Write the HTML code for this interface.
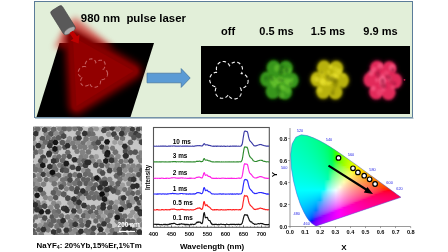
<!DOCTYPE html>
<html><head><meta charset="utf-8"><title>Graphical abstract</title>
<style>html,body{margin:0;padding:0;background:#fff}svg{display:block}text{font-family:"Liberation Sans",Arial,sans-serif}</style>
</head><body>
<svg width="448" height="252" viewBox="0 0 448 252">
<defs><filter id="b5" x="-50%" y="-50%" width="200%" height="200%"><feGaussianBlur stdDeviation="5"/></filter><filter id="b7" x="-50%" y="-50%" width="200%" height="200%"><feGaussianBlur stdDeviation="7"/></filter><filter id="b4" x="-50%" y="-50%" width="200%" height="200%"><feGaussianBlur stdDeviation="4"/></filter><filter id="b3" x="-50%" y="-50%" width="200%" height="200%"><feGaussianBlur stdDeviation="3"/></filter><filter id="b2" x="-50%" y="-50%" width="200%" height="200%"><feGaussianBlur stdDeviation="2"/></filter><filter id="b1" x="-100%" y="-100%" width="300%" height="300%"><feGaussianBlur stdDeviation="1"/></filter><filter id="b05" x="-5%" y="-5%" width="110%" height="110%"><feGaussianBlur stdDeviation="0.5"/></filter><filter id="b03" x="-5%" y="-5%" width="110%" height="110%"><feGaussianBlur stdDeviation="0.35"/></filter><clipPath id="pc"><rect x="35" y="2" width="377.5" height="116.3"/></clipPath><clipPath id="tc"><rect x="33" y="126.5" width="109" height="108.5"/></clipPath><clipPath id="cc"><path d="M316.29,225.95 L316.24,225.96 L316.17,225.97 L316.06,225.97 L315.88,225.94 L315.50,225.74 L314.82,225.30 L313.65,224.55 L312.80,224.00 L311.74,223.23 L310.46,222.11 L308.74,220.14 L306.55,216.95 L303.79,211.90 L300.37,204.42 L296.86,194.05 L293.55,181.10 L291.24,167.28 L290.59,154.47 L292.10,143.98 L295.87,137.18 L301.22,134.78 L307.24,135.62 L313.36,137.85 L319.13,140.52 L324.67,143.53 L330.14,146.83 L335.54,150.35 L340.93,154.02 L346.34,157.81 L351.71,161.64 L357.06,165.48 L362.30,169.28 L367.39,172.97 L372.26,176.52 L376.86,179.84 L381.04,182.88 L384.68,185.53 L387.88,187.85 L390.54,189.76 L392.70,191.33 L394.42,192.59 L395.79,193.58 L396.89,194.38 L397.81,195.05 L398.57,195.60 L399.63,196.36 L400.23,196.80 L400.74,197.17 L400.94,197.32Z"/></clipPath><linearGradient id="g0" gradientUnits="userSpaceOnUse" x1="296" x2="304" y1="0" y2="0"><stop offset="0.0000" stop-color="#00ffae"/><stop offset="0.5000" stop-color="#00ffa8"/><stop offset="1.0000" stop-color="#00ffa3"/></linearGradient><linearGradient id="g1" gradientUnits="userSpaceOnUse" x1="296" x2="312" y1="0" y2="0"><stop offset="0.0000" stop-color="#00ffae"/><stop offset="0.2500" stop-color="#00ffa9"/><stop offset="0.5000" stop-color="#00ffa4"/><stop offset="0.7500" stop-color="#00ff9d"/><stop offset="1.0000" stop-color="#00ff95"/></linearGradient><linearGradient id="g2" gradientUnits="userSpaceOnUse" x1="292" x2="316" y1="0" y2="0"><stop offset="0.0000" stop-color="#00ffb4"/><stop offset="0.1667" stop-color="#00ffaf"/><stop offset="0.3333" stop-color="#00ffaa"/><stop offset="0.5000" stop-color="#00ffa5"/><stop offset="0.6667" stop-color="#00ff9e"/><stop offset="0.8333" stop-color="#00ff96"/><stop offset="1.0000" stop-color="#00ff8c"/></linearGradient><linearGradient id="g3" gradientUnits="userSpaceOnUse" x1="292" x2="316" y1="0" y2="0"><stop offset="0.0000" stop-color="#00ffb5"/><stop offset="0.1667" stop-color="#00ffb0"/><stop offset="0.3333" stop-color="#00ffab"/><stop offset="0.5000" stop-color="#00ffa5"/><stop offset="0.6667" stop-color="#00ff9f"/><stop offset="0.8333" stop-color="#00ff97"/><stop offset="1.0000" stop-color="#00ff8d"/></linearGradient><linearGradient id="g4" gradientUnits="userSpaceOnUse" x1="292" x2="320" y1="0" y2="0"><stop offset="0.0000" stop-color="#00ffb6"/><stop offset="0.1429" stop-color="#00ffb1"/><stop offset="0.2857" stop-color="#00ffac"/><stop offset="0.4286" stop-color="#00ffa6"/><stop offset="0.5714" stop-color="#00ffa0"/><stop offset="0.7143" stop-color="#00ff98"/><stop offset="0.8571" stop-color="#00ff8e"/><stop offset="1.0000" stop-color="#00ff83"/></linearGradient><linearGradient id="g5" gradientUnits="userSpaceOnUse" x1="292" x2="320" y1="0" y2="0"><stop offset="0.0000" stop-color="#00ffb6"/><stop offset="0.1429" stop-color="#00ffb2"/><stop offset="0.2857" stop-color="#00ffad"/><stop offset="0.4286" stop-color="#00ffa7"/><stop offset="0.5714" stop-color="#00ffa1"/><stop offset="0.7143" stop-color="#00ff99"/><stop offset="0.8571" stop-color="#00ff90"/><stop offset="1.0000" stop-color="#00ff84"/></linearGradient><linearGradient id="g6" gradientUnits="userSpaceOnUse" x1="292" x2="324" y1="0" y2="0"><stop offset="0.0000" stop-color="#00ffb7"/><stop offset="0.1250" stop-color="#00ffb3"/><stop offset="0.2500" stop-color="#00ffae"/><stop offset="0.3750" stop-color="#00ffa8"/><stop offset="0.5000" stop-color="#00ffa2"/><stop offset="0.6250" stop-color="#00ff9a"/><stop offset="0.7500" stop-color="#00ff91"/><stop offset="0.8750" stop-color="#00ff85"/><stop offset="1.0000" stop-color="#00ff76"/></linearGradient><linearGradient id="g7" gradientUnits="userSpaceOnUse" x1="292" x2="324" y1="0" y2="0"><stop offset="0.0000" stop-color="#00ffb8"/><stop offset="0.1250" stop-color="#00ffb4"/><stop offset="0.2500" stop-color="#00ffaf"/><stop offset="0.3750" stop-color="#00ffa9"/><stop offset="0.5000" stop-color="#00ffa3"/><stop offset="0.6250" stop-color="#00ff9b"/><stop offset="0.7500" stop-color="#00ff92"/><stop offset="0.8750" stop-color="#00ff86"/><stop offset="1.0000" stop-color="#00ff77"/></linearGradient><linearGradient id="g8" gradientUnits="userSpaceOnUse" x1="288" x2="328" y1="0" y2="0"><stop offset="0.0000" stop-color="#00ffbd"/><stop offset="0.1000" stop-color="#00ffb9"/><stop offset="0.2000" stop-color="#00ffb5"/><stop offset="0.3000" stop-color="#00ffb0"/><stop offset="0.4000" stop-color="#00ffab"/><stop offset="0.5000" stop-color="#00ffa4"/><stop offset="0.6000" stop-color="#00ff9c"/><stop offset="0.7000" stop-color="#00ff93"/><stop offset="0.8000" stop-color="#00ff87"/><stop offset="0.9000" stop-color="#00ff78"/><stop offset="1.0000" stop-color="#00ff63"/></linearGradient><linearGradient id="g9" gradientUnits="userSpaceOnUse" x1="288" x2="328" y1="0" y2="0"><stop offset="0.0000" stop-color="#00ffbe"/><stop offset="0.1000" stop-color="#00ffba"/><stop offset="0.2000" stop-color="#00ffb6"/><stop offset="0.3000" stop-color="#00ffb1"/><stop offset="0.4000" stop-color="#00ffac"/><stop offset="0.5000" stop-color="#00ffa5"/><stop offset="0.6000" stop-color="#00ff9d"/><stop offset="0.7000" stop-color="#00ff94"/><stop offset="0.8000" stop-color="#00ff88"/><stop offset="0.9000" stop-color="#00ff79"/><stop offset="1.0000" stop-color="#00ff64"/></linearGradient><linearGradient id="g10" gradientUnits="userSpaceOnUse" x1="288" x2="332" y1="0" y2="0"><stop offset="0.0000" stop-color="#00ffbf"/><stop offset="0.0909" stop-color="#00ffbb"/><stop offset="0.1818" stop-color="#00ffb7"/><stop offset="0.2727" stop-color="#00ffb2"/><stop offset="0.3636" stop-color="#00ffad"/><stop offset="0.4545" stop-color="#00ffa6"/><stop offset="0.5455" stop-color="#00ff9f"/><stop offset="0.6364" stop-color="#00ff95"/><stop offset="0.7273" stop-color="#00ff8a"/><stop offset="0.8182" stop-color="#00ff7b"/><stop offset="0.9091" stop-color="#00ff66"/><stop offset="1.0000" stop-color="#00ff43"/></linearGradient><linearGradient id="g11" gradientUnits="userSpaceOnUse" x1="288" x2="332" y1="0" y2="0"><stop offset="0.0000" stop-color="#00ffc0"/><stop offset="0.0909" stop-color="#00ffbc"/><stop offset="0.1818" stop-color="#00ffb8"/><stop offset="0.2727" stop-color="#00ffb3"/><stop offset="0.3636" stop-color="#00ffae"/><stop offset="0.4545" stop-color="#00ffa7"/><stop offset="0.5455" stop-color="#00ffa0"/><stop offset="0.6364" stop-color="#00ff96"/><stop offset="0.7273" stop-color="#00ff8b"/><stop offset="0.8182" stop-color="#00ff7c"/><stop offset="0.9091" stop-color="#00ff67"/><stop offset="1.0000" stop-color="#00ff44"/></linearGradient><linearGradient id="g12" gradientUnits="userSpaceOnUse" x1="288" x2="332" y1="0" y2="0"><stop offset="0.0000" stop-color="#00ffc1"/><stop offset="0.0909" stop-color="#00ffbd"/><stop offset="0.1818" stop-color="#00ffb9"/><stop offset="0.2727" stop-color="#00ffb4"/><stop offset="0.3636" stop-color="#00ffaf"/><stop offset="0.4545" stop-color="#00ffa8"/><stop offset="0.5455" stop-color="#00ffa1"/><stop offset="0.6364" stop-color="#00ff98"/><stop offset="0.7273" stop-color="#00ff8c"/><stop offset="0.8182" stop-color="#00ff7d"/><stop offset="0.9091" stop-color="#00ff68"/><stop offset="1.0000" stop-color="#00ff46"/></linearGradient><linearGradient id="g13" gradientUnits="userSpaceOnUse" x1="288" x2="336" y1="0" y2="0"><stop offset="0.0000" stop-color="#00ffc2"/><stop offset="0.0833" stop-color="#00ffbe"/><stop offset="0.1667" stop-color="#00ffba"/><stop offset="0.2500" stop-color="#00ffb5"/><stop offset="0.3333" stop-color="#00ffb0"/><stop offset="0.4167" stop-color="#00ffaa"/><stop offset="0.5000" stop-color="#00ffa2"/><stop offset="0.5833" stop-color="#00ff99"/><stop offset="0.6667" stop-color="#00ff8d"/><stop offset="0.7500" stop-color="#00ff7f"/><stop offset="0.8333" stop-color="#00ff6a"/><stop offset="0.9167" stop-color="#00ff47"/><stop offset="1.0000" stop-color="#3bff00"/></linearGradient><linearGradient id="g14" gradientUnits="userSpaceOnUse" x1="288" x2="336" y1="0" y2="0"><stop offset="0.0000" stop-color="#00ffc3"/><stop offset="0.0833" stop-color="#00ffbf"/><stop offset="0.1667" stop-color="#00ffbb"/><stop offset="0.2500" stop-color="#00ffb6"/><stop offset="0.3333" stop-color="#00ffb1"/><stop offset="0.4167" stop-color="#00ffab"/><stop offset="0.5000" stop-color="#00ffa3"/><stop offset="0.5833" stop-color="#00ff9a"/><stop offset="0.6667" stop-color="#00ff8f"/><stop offset="0.7500" stop-color="#00ff80"/><stop offset="0.8333" stop-color="#00ff6b"/><stop offset="0.9167" stop-color="#00ff49"/><stop offset="1.0000" stop-color="#3bff00"/></linearGradient><linearGradient id="g15" gradientUnits="userSpaceOnUse" x1="288" x2="336" y1="0" y2="0"><stop offset="0.0000" stop-color="#00ffc4"/><stop offset="0.0833" stop-color="#00ffc0"/><stop offset="0.1667" stop-color="#00ffbc"/><stop offset="0.2500" stop-color="#00ffb8"/><stop offset="0.3333" stop-color="#00ffb2"/><stop offset="0.4167" stop-color="#00ffac"/><stop offset="0.5000" stop-color="#00ffa5"/><stop offset="0.5833" stop-color="#00ff9b"/><stop offset="0.6667" stop-color="#00ff90"/><stop offset="0.7500" stop-color="#00ff81"/><stop offset="0.8333" stop-color="#00ff6d"/><stop offset="0.9167" stop-color="#00ff4a"/><stop offset="1.0000" stop-color="#3aff00"/></linearGradient><linearGradient id="g16" gradientUnits="userSpaceOnUse" x1="288" x2="340" y1="0" y2="0"><stop offset="0.0000" stop-color="#00ffc5"/><stop offset="0.0769" stop-color="#00ffc1"/><stop offset="0.1538" stop-color="#00ffbd"/><stop offset="0.2308" stop-color="#00ffb9"/><stop offset="0.3077" stop-color="#00ffb3"/><stop offset="0.3846" stop-color="#00ffad"/><stop offset="0.4615" stop-color="#00ffa6"/><stop offset="0.5385" stop-color="#00ff9d"/><stop offset="0.6154" stop-color="#00ff91"/><stop offset="0.6923" stop-color="#00ff83"/><stop offset="0.7692" stop-color="#00ff6e"/><stop offset="0.8462" stop-color="#00ff4c"/><stop offset="0.9231" stop-color="#39ff00"/><stop offset="1.0000" stop-color="#6cff00"/></linearGradient><linearGradient id="g17" gradientUnits="userSpaceOnUse" x1="288" x2="340" y1="0" y2="0"><stop offset="0.0000" stop-color="#00ffc6"/><stop offset="0.0769" stop-color="#00ffc2"/><stop offset="0.1538" stop-color="#00ffbe"/><stop offset="0.2308" stop-color="#00ffba"/><stop offset="0.3077" stop-color="#00ffb5"/><stop offset="0.3846" stop-color="#00ffae"/><stop offset="0.4615" stop-color="#00ffa7"/><stop offset="0.5385" stop-color="#00ff9e"/><stop offset="0.6154" stop-color="#00ff93"/><stop offset="0.6923" stop-color="#00ff84"/><stop offset="0.7692" stop-color="#00ff6f"/><stop offset="0.8462" stop-color="#00ff4d"/><stop offset="0.9231" stop-color="#39ff00"/><stop offset="1.0000" stop-color="#6cff00"/></linearGradient><linearGradient id="g18" gradientUnits="userSpaceOnUse" x1="288" x2="344" y1="0" y2="0"><stop offset="0.0000" stop-color="#00ffc7"/><stop offset="0.0714" stop-color="#00ffc4"/><stop offset="0.1429" stop-color="#00ffc0"/><stop offset="0.2143" stop-color="#00ffbb"/><stop offset="0.2857" stop-color="#00ffb6"/><stop offset="0.3571" stop-color="#00ffb0"/><stop offset="0.4286" stop-color="#00ffa8"/><stop offset="0.5000" stop-color="#00ffa0"/><stop offset="0.5714" stop-color="#00ff94"/><stop offset="0.6429" stop-color="#00ff86"/><stop offset="0.7143" stop-color="#00ff71"/><stop offset="0.7857" stop-color="#00ff4f"/><stop offset="0.8571" stop-color="#38ff00"/><stop offset="0.9286" stop-color="#6dff00"/><stop offset="1.0000" stop-color="#8dff00"/></linearGradient><linearGradient id="g19" gradientUnits="userSpaceOnUse" x1="288" x2="344" y1="0" y2="0"><stop offset="0.0000" stop-color="#00ffc8"/><stop offset="0.0714" stop-color="#00ffc5"/><stop offset="0.1429" stop-color="#00ffc1"/><stop offset="0.2143" stop-color="#00ffbc"/><stop offset="0.2857" stop-color="#00ffb7"/><stop offset="0.3571" stop-color="#00ffb1"/><stop offset="0.4286" stop-color="#00ffaa"/><stop offset="0.5000" stop-color="#00ffa1"/><stop offset="0.5714" stop-color="#00ff96"/><stop offset="0.6429" stop-color="#00ff87"/><stop offset="0.7143" stop-color="#00ff73"/><stop offset="0.7857" stop-color="#00ff51"/><stop offset="0.8571" stop-color="#37ff00"/><stop offset="0.9286" stop-color="#6eff00"/><stop offset="1.0000" stop-color="#8eff00"/></linearGradient><linearGradient id="g20" gradientUnits="userSpaceOnUse" x1="288" x2="344" y1="0" y2="0"><stop offset="0.0000" stop-color="#00ffc9"/><stop offset="0.0714" stop-color="#00ffc6"/><stop offset="0.1429" stop-color="#00ffc2"/><stop offset="0.2143" stop-color="#00ffbe"/><stop offset="0.2857" stop-color="#00ffb8"/><stop offset="0.3571" stop-color="#00ffb2"/><stop offset="0.4286" stop-color="#00ffab"/><stop offset="0.5000" stop-color="#00ffa2"/><stop offset="0.5714" stop-color="#00ff97"/><stop offset="0.6429" stop-color="#00ff89"/><stop offset="0.7143" stop-color="#00ff74"/><stop offset="0.7857" stop-color="#00ff52"/><stop offset="0.8571" stop-color="#37ff00"/><stop offset="0.9286" stop-color="#6eff00"/><stop offset="1.0000" stop-color="#90ff00"/></linearGradient><linearGradient id="g21" gradientUnits="userSpaceOnUse" x1="288" x2="348" y1="0" y2="0"><stop offset="0.0000" stop-color="#00ffca"/><stop offset="0.0667" stop-color="#00ffc7"/><stop offset="0.1333" stop-color="#00ffc3"/><stop offset="0.2000" stop-color="#00ffbf"/><stop offset="0.2667" stop-color="#00ffba"/><stop offset="0.3333" stop-color="#00ffb4"/><stop offset="0.4000" stop-color="#00ffad"/><stop offset="0.4667" stop-color="#00ffa4"/><stop offset="0.5333" stop-color="#00ff99"/><stop offset="0.6000" stop-color="#00ff8a"/><stop offset="0.6667" stop-color="#00ff76"/><stop offset="0.7333" stop-color="#00ff54"/><stop offset="0.8000" stop-color="#36ff00"/><stop offset="0.8667" stop-color="#6fff00"/><stop offset="0.9333" stop-color="#91ff00"/><stop offset="1.0000" stop-color="#abff00"/></linearGradient><linearGradient id="g22" gradientUnits="userSpaceOnUse" x1="288" x2="348" y1="0" y2="0"><stop offset="0.0000" stop-color="#00ffcb"/><stop offset="0.0667" stop-color="#00ffc8"/><stop offset="0.1333" stop-color="#00ffc4"/><stop offset="0.2000" stop-color="#00ffc0"/><stop offset="0.2667" stop-color="#00ffbb"/><stop offset="0.3333" stop-color="#00ffb5"/><stop offset="0.4000" stop-color="#00ffae"/><stop offset="0.4667" stop-color="#00ffa5"/><stop offset="0.5333" stop-color="#00ff9a"/><stop offset="0.6000" stop-color="#00ff8c"/><stop offset="0.6667" stop-color="#00ff77"/><stop offset="0.7333" stop-color="#00ff56"/><stop offset="0.8000" stop-color="#35ff00"/><stop offset="0.8667" stop-color="#70ff00"/><stop offset="0.9333" stop-color="#93ff00"/><stop offset="1.0000" stop-color="#adff00"/></linearGradient><linearGradient id="g23" gradientUnits="userSpaceOnUse" x1="288" x2="348" y1="0" y2="0"><stop offset="0.0000" stop-color="#00ffcc"/><stop offset="0.0667" stop-color="#00ffc9"/><stop offset="0.1333" stop-color="#00ffc6"/><stop offset="0.2000" stop-color="#00ffc1"/><stop offset="0.2667" stop-color="#00ffbc"/><stop offset="0.3333" stop-color="#00ffb7"/><stop offset="0.4000" stop-color="#00ffb0"/><stop offset="0.4667" stop-color="#00ffa7"/><stop offset="0.5333" stop-color="#00ff9c"/><stop offset="0.6000" stop-color="#00ff8e"/><stop offset="0.6667" stop-color="#00ff79"/><stop offset="0.7333" stop-color="#00ff58"/><stop offset="0.8000" stop-color="#34ff00"/><stop offset="0.8667" stop-color="#71ff00"/><stop offset="0.9333" stop-color="#94ff00"/><stop offset="1.0000" stop-color="#afff00"/></linearGradient><linearGradient id="g24" gradientUnits="userSpaceOnUse" x1="288" x2="352" y1="0" y2="0"><stop offset="0.0000" stop-color="#00ffce"/><stop offset="0.0625" stop-color="#00ffca"/><stop offset="0.1250" stop-color="#00ffc7"/><stop offset="0.1875" stop-color="#00ffc3"/><stop offset="0.2500" stop-color="#00ffbe"/><stop offset="0.3125" stop-color="#00ffb8"/><stop offset="0.3750" stop-color="#00ffb1"/><stop offset="0.4375" stop-color="#00ffa8"/><stop offset="0.5000" stop-color="#00ff9e"/><stop offset="0.5625" stop-color="#00ff8f"/><stop offset="0.6250" stop-color="#00ff7b"/><stop offset="0.6875" stop-color="#00ff5a"/><stop offset="0.7500" stop-color="#33ff00"/><stop offset="0.8125" stop-color="#72ff00"/><stop offset="0.8750" stop-color="#96ff00"/><stop offset="0.9375" stop-color="#b1ff00"/><stop offset="1.0000" stop-color="#c9ff00"/></linearGradient><linearGradient id="g25" gradientUnits="userSpaceOnUse" x1="288" x2="352" y1="0" y2="0"><stop offset="0.0000" stop-color="#00ffcf"/><stop offset="0.0625" stop-color="#00ffcc"/><stop offset="0.1250" stop-color="#00ffc8"/><stop offset="0.1875" stop-color="#00ffc4"/><stop offset="0.2500" stop-color="#00ffbf"/><stop offset="0.3125" stop-color="#00ffb9"/><stop offset="0.3750" stop-color="#00ffb3"/><stop offset="0.4375" stop-color="#00ffaa"/><stop offset="0.5000" stop-color="#00ff9f"/><stop offset="0.5625" stop-color="#00ff91"/><stop offset="0.6250" stop-color="#00ff7d"/><stop offset="0.6875" stop-color="#00ff5b"/><stop offset="0.7500" stop-color="#32ff00"/><stop offset="0.8125" stop-color="#73ff00"/><stop offset="0.8750" stop-color="#97ff00"/><stop offset="0.9375" stop-color="#b4ff00"/><stop offset="1.0000" stop-color="#cbff00"/></linearGradient><linearGradient id="g26" gradientUnits="userSpaceOnUse" x1="288" x2="352" y1="0" y2="0"><stop offset="0.0000" stop-color="#00ffd0"/><stop offset="0.0625" stop-color="#00ffcd"/><stop offset="0.1250" stop-color="#00ffc9"/><stop offset="0.1875" stop-color="#00ffc5"/><stop offset="0.2500" stop-color="#00ffc1"/><stop offset="0.3125" stop-color="#00ffbb"/><stop offset="0.3750" stop-color="#00ffb4"/><stop offset="0.4375" stop-color="#00ffac"/><stop offset="0.5000" stop-color="#00ffa1"/><stop offset="0.5625" stop-color="#00ff93"/><stop offset="0.6250" stop-color="#00ff7f"/><stop offset="0.6875" stop-color="#00ff5d"/><stop offset="0.7500" stop-color="#31ff00"/><stop offset="0.8125" stop-color="#74ff00"/><stop offset="0.8750" stop-color="#99ff00"/><stop offset="0.9375" stop-color="#b6ff00"/><stop offset="1.0000" stop-color="#ceff00"/></linearGradient><linearGradient id="g27" gradientUnits="userSpaceOnUse" x1="288" x2="356" y1="0" y2="0"><stop offset="0.0000" stop-color="#00ffd1"/><stop offset="0.0588" stop-color="#00ffce"/><stop offset="0.1176" stop-color="#00ffcb"/><stop offset="0.1765" stop-color="#00ffc7"/><stop offset="0.2353" stop-color="#00ffc2"/><stop offset="0.2941" stop-color="#00ffbc"/><stop offset="0.3529" stop-color="#00ffb6"/><stop offset="0.4118" stop-color="#00ffad"/><stop offset="0.4706" stop-color="#00ffa3"/><stop offset="0.5294" stop-color="#00ff95"/><stop offset="0.5882" stop-color="#00ff81"/><stop offset="0.6471" stop-color="#00ff5f"/><stop offset="0.7059" stop-color="#36ff1d"/><stop offset="0.7647" stop-color="#75ff00"/><stop offset="0.8235" stop-color="#9bff00"/><stop offset="0.8824" stop-color="#b8ff00"/><stop offset="0.9412" stop-color="#d1ff00"/><stop offset="1.0000" stop-color="#e6ff00"/></linearGradient><linearGradient id="g28" gradientUnits="userSpaceOnUse" x1="288" x2="356" y1="0" y2="0"><stop offset="0.0000" stop-color="#00ffd2"/><stop offset="0.0588" stop-color="#00ffcf"/><stop offset="0.1176" stop-color="#00ffcc"/><stop offset="0.1765" stop-color="#00ffc8"/><stop offset="0.2353" stop-color="#00ffc3"/><stop offset="0.2941" stop-color="#00ffbe"/><stop offset="0.3529" stop-color="#00ffb7"/><stop offset="0.4118" stop-color="#00ffaf"/><stop offset="0.4706" stop-color="#00ffa5"/><stop offset="0.5294" stop-color="#00ff97"/><stop offset="0.5882" stop-color="#00ff83"/><stop offset="0.6471" stop-color="#00ff62"/><stop offset="0.7059" stop-color="#3eff2e"/><stop offset="0.7647" stop-color="#76ff00"/><stop offset="0.8235" stop-color="#9dff00"/><stop offset="0.8824" stop-color="#bbff00"/><stop offset="0.9412" stop-color="#d4ff00"/><stop offset="1.0000" stop-color="#eaff00"/></linearGradient><linearGradient id="g29" gradientUnits="userSpaceOnUse" x1="288" x2="356" y1="0" y2="0"><stop offset="0.0000" stop-color="#00ffd4"/><stop offset="0.0588" stop-color="#00ffd1"/><stop offset="0.1176" stop-color="#00ffcd"/><stop offset="0.1765" stop-color="#00ffc9"/><stop offset="0.2353" stop-color="#00ffc5"/><stop offset="0.2941" stop-color="#00ffc0"/><stop offset="0.3529" stop-color="#00ffb9"/><stop offset="0.4118" stop-color="#00ffb1"/><stop offset="0.4706" stop-color="#00ffa7"/><stop offset="0.5294" stop-color="#00ff99"/><stop offset="0.5882" stop-color="#00ff85"/><stop offset="0.6471" stop-color="#00ff64"/><stop offset="0.7059" stop-color="#46ff3a"/><stop offset="0.7647" stop-color="#78ff15"/><stop offset="0.8235" stop-color="#9fff00"/><stop offset="0.8824" stop-color="#beff00"/><stop offset="0.9412" stop-color="#d7ff00"/><stop offset="1.0000" stop-color="#edff00"/></linearGradient><linearGradient id="g30" gradientUnits="userSpaceOnUse" x1="288" x2="360" y1="0" y2="0"><stop offset="0.0000" stop-color="#00ffd5"/><stop offset="0.0556" stop-color="#00ffd2"/><stop offset="0.1111" stop-color="#00ffcf"/><stop offset="0.1667" stop-color="#00ffcb"/><stop offset="0.2222" stop-color="#00ffc6"/><stop offset="0.2778" stop-color="#00ffc1"/><stop offset="0.3333" stop-color="#00ffbb"/><stop offset="0.3889" stop-color="#00ffb3"/><stop offset="0.4444" stop-color="#00ffa8"/><stop offset="0.5000" stop-color="#00ff9b"/><stop offset="0.5556" stop-color="#00ff87"/><stop offset="0.6111" stop-color="#00ff66"/><stop offset="0.6667" stop-color="#4dff43"/><stop offset="0.7222" stop-color="#7dff2b"/><stop offset="0.7778" stop-color="#a1ff00"/><stop offset="0.8333" stop-color="#c0ff00"/><stop offset="0.8889" stop-color="#daff00"/><stop offset="0.9444" stop-color="#f1ff00"/><stop offset="1.0000" stop-color="#fff800"/></linearGradient><linearGradient id="g31" gradientUnits="userSpaceOnUse" x1="288" x2="360" y1="0" y2="0"><stop offset="0.0000" stop-color="#00ffd6"/><stop offset="0.0556" stop-color="#00ffd3"/><stop offset="0.1111" stop-color="#00ffd0"/><stop offset="0.1667" stop-color="#00ffcc"/><stop offset="0.2222" stop-color="#00ffc8"/><stop offset="0.2778" stop-color="#00ffc3"/><stop offset="0.3333" stop-color="#00ffbd"/><stop offset="0.3889" stop-color="#00ffb5"/><stop offset="0.4444" stop-color="#00ffaa"/><stop offset="0.5000" stop-color="#00ff9d"/><stop offset="0.5556" stop-color="#00ff89"/><stop offset="0.6111" stop-color="#00ff68"/><stop offset="0.6667" stop-color="#54ff4c"/><stop offset="0.7222" stop-color="#82ff38"/><stop offset="0.7778" stop-color="#a4ff00"/><stop offset="0.8333" stop-color="#c3ff00"/><stop offset="0.8889" stop-color="#deff00"/><stop offset="0.9444" stop-color="#f5ff00"/><stop offset="1.0000" stop-color="#fff400"/></linearGradient><linearGradient id="g32" gradientUnits="userSpaceOnUse" x1="288" x2="364" y1="0" y2="0"><stop offset="0.0000" stop-color="#00ffd7"/><stop offset="0.0526" stop-color="#00ffd5"/><stop offset="0.1053" stop-color="#00ffd2"/><stop offset="0.1579" stop-color="#00ffce"/><stop offset="0.2105" stop-color="#00ffca"/><stop offset="0.2632" stop-color="#00ffc5"/><stop offset="0.3158" stop-color="#00ffbe"/><stop offset="0.3684" stop-color="#00ffb7"/><stop offset="0.4211" stop-color="#00ffad"/><stop offset="0.4737" stop-color="#00ff9f"/><stop offset="0.5263" stop-color="#00ff8b"/><stop offset="0.5789" stop-color="#00ff6b"/><stop offset="0.6316" stop-color="#5aff54"/><stop offset="0.6842" stop-color="#86ff43"/><stop offset="0.7368" stop-color="#a8ff27"/><stop offset="0.7895" stop-color="#c7ff00"/><stop offset="0.8421" stop-color="#e2ff00"/><stop offset="0.8947" stop-color="#faff00"/><stop offset="0.9474" stop-color="#fff000"/><stop offset="1.0000" stop-color="#ffe000"/></linearGradient><linearGradient id="g33" gradientUnits="userSpaceOnUse" x1="288" x2="364" y1="0" y2="0"><stop offset="0.0000" stop-color="#00ffd9"/><stop offset="0.0526" stop-color="#00ffd6"/><stop offset="0.1053" stop-color="#00ffd3"/><stop offset="0.1579" stop-color="#00ffcf"/><stop offset="0.2105" stop-color="#00ffcb"/><stop offset="0.2632" stop-color="#00ffc6"/><stop offset="0.3158" stop-color="#00ffc0"/><stop offset="0.3684" stop-color="#00ffb9"/><stop offset="0.4211" stop-color="#00ffaf"/><stop offset="0.4737" stop-color="#00ffa1"/><stop offset="0.5263" stop-color="#00ff8e"/><stop offset="0.5789" stop-color="#00ff6d"/><stop offset="0.6316" stop-color="#60ff5c"/><stop offset="0.6842" stop-color="#8bff4d"/><stop offset="0.7368" stop-color="#adff37"/><stop offset="0.7895" stop-color="#caff00"/><stop offset="0.8421" stop-color="#e6ff00"/><stop offset="0.8947" stop-color="#feff00"/><stop offset="0.9474" stop-color="#ffec00"/><stop offset="1.0000" stop-color="#ffdc00"/></linearGradient><linearGradient id="g34" gradientUnits="userSpaceOnUse" x1="288" x2="364" y1="0" y2="0"><stop offset="0.0000" stop-color="#00ffda"/><stop offset="0.0526" stop-color="#00ffd7"/><stop offset="0.1053" stop-color="#00ffd5"/><stop offset="0.1579" stop-color="#00ffd1"/><stop offset="0.2105" stop-color="#00ffcd"/><stop offset="0.2632" stop-color="#00ffc8"/><stop offset="0.3158" stop-color="#00ffc2"/><stop offset="0.3684" stop-color="#00ffbb"/><stop offset="0.4211" stop-color="#00ffb1"/><stop offset="0.4737" stop-color="#00ffa4"/><stop offset="0.5263" stop-color="#00ff90"/><stop offset="0.5789" stop-color="#00ff70"/><stop offset="0.6316" stop-color="#66ff63"/><stop offset="0.6842" stop-color="#90ff55"/><stop offset="0.7368" stop-color="#b1ff43"/><stop offset="0.7895" stop-color="#ceff22"/><stop offset="0.8421" stop-color="#eaff00"/><stop offset="0.8947" stop-color="#fffb00"/><stop offset="0.9474" stop-color="#ffe700"/><stop offset="1.0000" stop-color="#ffd800"/></linearGradient><linearGradient id="g35" gradientUnits="userSpaceOnUse" x1="288" x2="368" y1="0" y2="0"><stop offset="0.0000" stop-color="#00ffdb"/><stop offset="0.0500" stop-color="#00ffd9"/><stop offset="0.1000" stop-color="#00ffd6"/><stop offset="0.1500" stop-color="#00ffd3"/><stop offset="0.2000" stop-color="#00ffcf"/><stop offset="0.2500" stop-color="#00ffca"/><stop offset="0.3000" stop-color="#00ffc4"/><stop offset="0.3500" stop-color="#00ffbd"/><stop offset="0.4000" stop-color="#00ffb3"/><stop offset="0.4500" stop-color="#00ffa6"/><stop offset="0.5000" stop-color="#00ff93"/><stop offset="0.5500" stop-color="#16ff74"/><stop offset="0.6000" stop-color="#6cff6a"/><stop offset="0.6500" stop-color="#95ff5d"/><stop offset="0.7000" stop-color="#b6ff4d"/><stop offset="0.7500" stop-color="#d3ff35"/><stop offset="0.8000" stop-color="#efff00"/><stop offset="0.8500" stop-color="#fff600"/><stop offset="0.9000" stop-color="#ffe300"/><stop offset="0.9500" stop-color="#ffd300"/><stop offset="1.0000" stop-color="#ffc700"/></linearGradient><linearGradient id="g36" gradientUnits="userSpaceOnUse" x1="288" x2="368" y1="0" y2="0"><stop offset="0.0000" stop-color="#00ffdd"/><stop offset="0.0500" stop-color="#00ffda"/><stop offset="0.1000" stop-color="#00ffd8"/><stop offset="0.1500" stop-color="#00ffd4"/><stop offset="0.2000" stop-color="#00ffd0"/><stop offset="0.2500" stop-color="#00ffcc"/><stop offset="0.3000" stop-color="#00ffc6"/><stop offset="0.3500" stop-color="#00ffbf"/><stop offset="0.4000" stop-color="#00ffb5"/><stop offset="0.4500" stop-color="#00ffa8"/><stop offset="0.5000" stop-color="#00ff95"/><stop offset="0.5500" stop-color="#29ff7a"/><stop offset="0.6000" stop-color="#71ff70"/><stop offset="0.6500" stop-color="#9aff65"/><stop offset="0.7000" stop-color="#bbff57"/><stop offset="0.7500" stop-color="#d8ff42"/><stop offset="0.8000" stop-color="#f4ff1b"/><stop offset="0.8500" stop-color="#fff100"/><stop offset="0.9000" stop-color="#ffde00"/><stop offset="0.9500" stop-color="#ffcf00"/><stop offset="1.0000" stop-color="#ffc300"/></linearGradient><linearGradient id="g37" gradientUnits="userSpaceOnUse" x1="288" x2="368" y1="0" y2="0"><stop offset="0.0000" stop-color="#00ffde"/><stop offset="0.0500" stop-color="#00ffdc"/><stop offset="0.1000" stop-color="#00ffd9"/><stop offset="0.1500" stop-color="#00ffd6"/><stop offset="0.2000" stop-color="#00ffd2"/><stop offset="0.2500" stop-color="#00ffce"/><stop offset="0.3000" stop-color="#00ffc8"/><stop offset="0.3500" stop-color="#00ffc1"/><stop offset="0.4000" stop-color="#00ffb8"/><stop offset="0.4500" stop-color="#00ffab"/><stop offset="0.5000" stop-color="#00ff98"/><stop offset="0.5500" stop-color="#36ff80"/><stop offset="0.6000" stop-color="#77ff77"/><stop offset="0.6500" stop-color="#9fff6c"/><stop offset="0.7000" stop-color="#c0ff5f"/><stop offset="0.7500" stop-color="#ddff4e"/><stop offset="0.8000" stop-color="#f9ff32"/><stop offset="0.8500" stop-color="#ffec00"/><stop offset="0.9000" stop-color="#ffd900"/><stop offset="0.9500" stop-color="#ffca00"/><stop offset="1.0000" stop-color="#ffbe00"/></linearGradient><linearGradient id="g38" gradientUnits="userSpaceOnUse" x1="288" x2="372" y1="0" y2="0"><stop offset="0.0000" stop-color="#00ffe0"/><stop offset="0.0476" stop-color="#00ffdd"/><stop offset="0.0952" stop-color="#00ffdb"/><stop offset="0.1429" stop-color="#00ffd8"/><stop offset="0.1905" stop-color="#00ffd4"/><stop offset="0.2381" stop-color="#00ffd0"/><stop offset="0.2857" stop-color="#00ffca"/><stop offset="0.3333" stop-color="#00ffc3"/><stop offset="0.3810" stop-color="#00ffba"/><stop offset="0.4286" stop-color="#00ffae"/><stop offset="0.4762" stop-color="#00ff9b"/><stop offset="0.5238" stop-color="#40ff86"/><stop offset="0.5714" stop-color="#7cff7d"/><stop offset="0.6190" stop-color="#a4ff74"/><stop offset="0.6667" stop-color="#c5ff68"/><stop offset="0.7143" stop-color="#e3ff58"/><stop offset="0.7619" stop-color="#ffff42"/><stop offset="0.8095" stop-color="#ffe608"/><stop offset="0.8571" stop-color="#ffd400"/><stop offset="0.9048" stop-color="#ffc500"/><stop offset="0.9524" stop-color="#ffba00"/><stop offset="1.0000" stop-color="#ffb000"/></linearGradient><linearGradient id="g39" gradientUnits="userSpaceOnUse" x1="288" x2="372" y1="0" y2="0"><stop offset="0.0000" stop-color="#00ffe1"/><stop offset="0.0476" stop-color="#00ffdf"/><stop offset="0.0952" stop-color="#00ffdc"/><stop offset="0.1429" stop-color="#00ffda"/><stop offset="0.1905" stop-color="#00ffd6"/><stop offset="0.2381" stop-color="#00ffd2"/><stop offset="0.2857" stop-color="#00ffcc"/><stop offset="0.3333" stop-color="#00ffc6"/><stop offset="0.3810" stop-color="#00ffbd"/><stop offset="0.4286" stop-color="#00ffb1"/><stop offset="0.4762" stop-color="#00ff9e"/><stop offset="0.5238" stop-color="#49ff8c"/><stop offset="0.5714" stop-color="#82ff84"/><stop offset="0.6190" stop-color="#a9ff7b"/><stop offset="0.6667" stop-color="#caff6f"/><stop offset="0.7143" stop-color="#e8ff62"/><stop offset="0.7619" stop-color="#fff94d"/><stop offset="0.8095" stop-color="#ffe12a"/><stop offset="0.8571" stop-color="#ffcf00"/><stop offset="0.9048" stop-color="#ffc100"/><stop offset="0.9524" stop-color="#ffb500"/><stop offset="1.0000" stop-color="#ffac00"/></linearGradient><linearGradient id="g40" gradientUnits="userSpaceOnUse" x1="288" x2="372" y1="0" y2="0"><stop offset="0.0000" stop-color="#00ffe3"/><stop offset="0.0476" stop-color="#00ffe1"/><stop offset="0.0952" stop-color="#00ffde"/><stop offset="0.1429" stop-color="#00ffdb"/><stop offset="0.1905" stop-color="#00ffd8"/><stop offset="0.2381" stop-color="#00ffd4"/><stop offset="0.2857" stop-color="#00ffcf"/><stop offset="0.3333" stop-color="#00ffc8"/><stop offset="0.3810" stop-color="#00ffc0"/><stop offset="0.4286" stop-color="#00ffb4"/><stop offset="0.4762" stop-color="#00ffa2"/><stop offset="0.5238" stop-color="#51ff91"/><stop offset="0.5714" stop-color="#88ff8a"/><stop offset="0.6190" stop-color="#aeff82"/><stop offset="0.6667" stop-color="#cfff77"/><stop offset="0.7143" stop-color="#eeff6b"/><stop offset="0.7619" stop-color="#fff456"/><stop offset="0.8095" stop-color="#ffdc38"/><stop offset="0.8571" stop-color="#ffc900"/><stop offset="0.9048" stop-color="#ffbb00"/><stop offset="0.9524" stop-color="#ffb000"/><stop offset="1.0000" stop-color="#ffa700"/></linearGradient><linearGradient id="g41" gradientUnits="userSpaceOnUse" x1="288" x2="376" y1="0" y2="0"><stop offset="0.0000" stop-color="#00ffe4"/><stop offset="0.0455" stop-color="#00ffe2"/><stop offset="0.0909" stop-color="#00ffe0"/><stop offset="0.1364" stop-color="#00ffdd"/><stop offset="0.1818" stop-color="#00ffda"/><stop offset="0.2273" stop-color="#00ffd6"/><stop offset="0.2727" stop-color="#00ffd1"/><stop offset="0.3182" stop-color="#00ffcb"/><stop offset="0.3636" stop-color="#00ffc2"/><stop offset="0.4091" stop-color="#00ffb7"/><stop offset="0.4545" stop-color="#00ffa5"/><stop offset="0.5000" stop-color="#59ff97"/><stop offset="0.5455" stop-color="#8dff90"/><stop offset="0.5909" stop-color="#b4ff88"/><stop offset="0.6364" stop-color="#d5ff7f"/><stop offset="0.6818" stop-color="#f4ff73"/><stop offset="0.7273" stop-color="#ffee5e"/><stop offset="0.7727" stop-color="#ffd743"/><stop offset="0.8182" stop-color="#ffc421"/><stop offset="0.8636" stop-color="#ffb600"/><stop offset="0.9091" stop-color="#ffab00"/><stop offset="0.9545" stop-color="#ffa200"/><stop offset="1.0000" stop-color="#ff9b00"/></linearGradient><linearGradient id="g42" gradientUnits="userSpaceOnUse" x1="288" x2="376" y1="0" y2="0"><stop offset="0.0000" stop-color="#00ffe6"/><stop offset="0.0455" stop-color="#00ffe4"/><stop offset="0.0909" stop-color="#00ffe2"/><stop offset="0.1364" stop-color="#00ffdf"/><stop offset="0.1818" stop-color="#00ffdc"/><stop offset="0.2273" stop-color="#00ffd8"/><stop offset="0.2727" stop-color="#00ffd3"/><stop offset="0.3182" stop-color="#00ffcd"/><stop offset="0.3636" stop-color="#00ffc5"/><stop offset="0.4091" stop-color="#00ffba"/><stop offset="0.4545" stop-color="#00ffa9"/><stop offset="0.5000" stop-color="#60ff9d"/><stop offset="0.5455" stop-color="#93ff97"/><stop offset="0.5909" stop-color="#b9ff8f"/><stop offset="0.6364" stop-color="#dbff86"/><stop offset="0.6818" stop-color="#faff7c"/><stop offset="0.7273" stop-color="#ffe864"/><stop offset="0.7727" stop-color="#ffd24c"/><stop offset="0.8182" stop-color="#ffc030"/><stop offset="0.8636" stop-color="#ffb100"/><stop offset="0.9091" stop-color="#ffa600"/><stop offset="0.9545" stop-color="#ff9d00"/><stop offset="1.0000" stop-color="#ff9600"/></linearGradient><linearGradient id="g43" gradientUnits="userSpaceOnUse" x1="288" x2="376" y1="0" y2="0"><stop offset="0.0000" stop-color="#00ffe7"/><stop offset="0.0455" stop-color="#00ffe6"/><stop offset="0.0909" stop-color="#00ffe3"/><stop offset="0.1364" stop-color="#00ffe1"/><stop offset="0.1818" stop-color="#00ffde"/><stop offset="0.2273" stop-color="#00ffda"/><stop offset="0.2727" stop-color="#00ffd6"/><stop offset="0.3182" stop-color="#00ffd0"/><stop offset="0.3636" stop-color="#00ffc8"/><stop offset="0.4091" stop-color="#00ffbd"/><stop offset="0.4545" stop-color="#00ffac"/><stop offset="0.5000" stop-color="#67ffa3"/><stop offset="0.5455" stop-color="#99ff9d"/><stop offset="0.5909" stop-color="#bfff96"/><stop offset="0.6364" stop-color="#e1ff8e"/><stop offset="0.6818" stop-color="#fffe84"/><stop offset="0.7273" stop-color="#ffe36b"/><stop offset="0.7727" stop-color="#ffcd53"/><stop offset="0.8182" stop-color="#ffbb3b"/><stop offset="0.8636" stop-color="#ffab17"/><stop offset="0.9091" stop-color="#ffa100"/><stop offset="0.9545" stop-color="#ff9800"/><stop offset="1.0000" stop-color="#ff9100"/></linearGradient><linearGradient id="g44" gradientUnits="userSpaceOnUse" x1="292" x2="380" y1="0" y2="0"><stop offset="0.0000" stop-color="#00ffe7"/><stop offset="0.0455" stop-color="#00ffe5"/><stop offset="0.0909" stop-color="#00ffe3"/><stop offset="0.1364" stop-color="#00ffe0"/><stop offset="0.1818" stop-color="#00ffdd"/><stop offset="0.2273" stop-color="#00ffd8"/><stop offset="0.2727" stop-color="#00ffd3"/><stop offset="0.3182" stop-color="#00ffcb"/><stop offset="0.3636" stop-color="#00ffc1"/><stop offset="0.4091" stop-color="#00ffb0"/><stop offset="0.4545" stop-color="#6effa9"/><stop offset="0.5000" stop-color="#9effa4"/><stop offset="0.5455" stop-color="#c5ff9d"/><stop offset="0.5909" stop-color="#e7ff96"/><stop offset="0.6364" stop-color="#fff888"/><stop offset="0.6818" stop-color="#ffdd70"/><stop offset="0.7273" stop-color="#ffc85a"/><stop offset="0.7727" stop-color="#ffb644"/><stop offset="0.8182" stop-color="#ffa729"/><stop offset="0.8636" stop-color="#ff9b00"/><stop offset="0.9091" stop-color="#ff9300"/><stop offset="0.9545" stop-color="#ff8c00"/><stop offset="1.0000" stop-color="#ff8600"/></linearGradient><linearGradient id="g45" gradientUnits="userSpaceOnUse" x1="292" x2="380" y1="0" y2="0"><stop offset="0.0000" stop-color="#00ffe9"/><stop offset="0.0455" stop-color="#00ffe7"/><stop offset="0.0909" stop-color="#00ffe5"/><stop offset="0.1364" stop-color="#00ffe2"/><stop offset="0.1818" stop-color="#00ffdf"/><stop offset="0.2273" stop-color="#00ffdb"/><stop offset="0.2727" stop-color="#00ffd6"/><stop offset="0.3182" stop-color="#00ffcf"/><stop offset="0.3636" stop-color="#00ffc4"/><stop offset="0.4091" stop-color="#00ffb4"/><stop offset="0.4545" stop-color="#75ffb0"/><stop offset="0.5000" stop-color="#a4ffaa"/><stop offset="0.5455" stop-color="#cbffa4"/><stop offset="0.5909" stop-color="#edff9d"/><stop offset="0.6364" stop-color="#fff18d"/><stop offset="0.6818" stop-color="#ffd875"/><stop offset="0.7273" stop-color="#ffc360"/><stop offset="0.7727" stop-color="#ffb24b"/><stop offset="0.8182" stop-color="#ffa235"/><stop offset="0.8636" stop-color="#ff950b"/><stop offset="0.9091" stop-color="#ff8d00"/><stop offset="0.9545" stop-color="#ff8600"/><stop offset="1.0000" stop-color="#ff8000"/></linearGradient><linearGradient id="g46" gradientUnits="userSpaceOnUse" x1="292" x2="380" y1="0" y2="0"><stop offset="0.0000" stop-color="#00ffeb"/><stop offset="0.0455" stop-color="#00ffe9"/><stop offset="0.0909" stop-color="#00ffe7"/><stop offset="0.1364" stop-color="#00ffe5"/><stop offset="0.1818" stop-color="#00ffe2"/><stop offset="0.2273" stop-color="#00ffde"/><stop offset="0.2727" stop-color="#00ffd9"/><stop offset="0.3182" stop-color="#00ffd2"/><stop offset="0.3636" stop-color="#00ffc8"/><stop offset="0.4091" stop-color="#25ffba"/><stop offset="0.4545" stop-color="#7cffb6"/><stop offset="0.5000" stop-color="#aaffb1"/><stop offset="0.5455" stop-color="#d1ffac"/><stop offset="0.5909" stop-color="#f4ffa5"/><stop offset="0.6364" stop-color="#ffeb91"/><stop offset="0.6818" stop-color="#ffd27a"/><stop offset="0.7273" stop-color="#ffbe65"/><stop offset="0.7727" stop-color="#ffad52"/><stop offset="0.8182" stop-color="#ff9e3d"/><stop offset="0.8636" stop-color="#ff9123"/><stop offset="0.9091" stop-color="#ff8700"/><stop offset="0.9545" stop-color="#ff8000"/><stop offset="1.0000" stop-color="#ff7b00"/></linearGradient><linearGradient id="g47" gradientUnits="userSpaceOnUse" x1="292" x2="384" y1="0" y2="0"><stop offset="0.0000" stop-color="#00ffed"/><stop offset="0.0435" stop-color="#00ffeb"/><stop offset="0.0870" stop-color="#00ffe9"/><stop offset="0.1304" stop-color="#00ffe7"/><stop offset="0.1739" stop-color="#00ffe4"/><stop offset="0.2174" stop-color="#00ffe1"/><stop offset="0.2609" stop-color="#00ffdc"/><stop offset="0.3043" stop-color="#00ffd6"/><stop offset="0.3478" stop-color="#00ffcc"/><stop offset="0.3913" stop-color="#36ffc0"/><stop offset="0.4348" stop-color="#82ffbc"/><stop offset="0.4783" stop-color="#b1ffb8"/><stop offset="0.5217" stop-color="#d7ffb3"/><stop offset="0.5652" stop-color="#faffad"/><stop offset="0.6087" stop-color="#ffe595"/><stop offset="0.6522" stop-color="#ffcd7e"/><stop offset="0.6957" stop-color="#ffb96a"/><stop offset="0.7391" stop-color="#ffa857"/><stop offset="0.7826" stop-color="#ff9945"/><stop offset="0.8261" stop-color="#ff8c2f"/><stop offset="0.8696" stop-color="#ff8100"/><stop offset="0.9130" stop-color="#ff7a00"/><stop offset="0.9565" stop-color="#ff7500"/><stop offset="1.0000" stop-color="#ff7000"/></linearGradient><linearGradient id="g48" gradientUnits="userSpaceOnUse" x1="292" x2="384" y1="0" y2="0"><stop offset="0.0000" stop-color="#00ffef"/><stop offset="0.0435" stop-color="#00ffed"/><stop offset="0.0870" stop-color="#00ffeb"/><stop offset="0.1304" stop-color="#00ffe9"/><stop offset="0.1739" stop-color="#00ffe7"/><stop offset="0.2174" stop-color="#00ffe4"/><stop offset="0.2609" stop-color="#00ffdf"/><stop offset="0.3043" stop-color="#00ffd9"/><stop offset="0.3478" stop-color="#00ffd1"/><stop offset="0.3913" stop-color="#42ffc7"/><stop offset="0.4348" stop-color="#89ffc3"/><stop offset="0.4783" stop-color="#b7ffbf"/><stop offset="0.5217" stop-color="#deffba"/><stop offset="0.5652" stop-color="#fffcb3"/><stop offset="0.6087" stop-color="#ffdf98"/><stop offset="0.6522" stop-color="#ffc782"/><stop offset="0.6957" stop-color="#ffb46f"/><stop offset="0.7391" stop-color="#ffa35d"/><stop offset="0.7826" stop-color="#ff954b"/><stop offset="0.8261" stop-color="#ff8837"/><stop offset="0.8696" stop-color="#ff7b1c"/><stop offset="0.9130" stop-color="#ff7400"/><stop offset="0.9565" stop-color="#ff6f00"/><stop offset="1.0000" stop-color="#ff6a00"/></linearGradient><linearGradient id="g49" gradientUnits="userSpaceOnUse" x1="292" x2="384" y1="0" y2="0"><stop offset="0.0000" stop-color="#00fff0"/><stop offset="0.0435" stop-color="#00ffef"/><stop offset="0.0870" stop-color="#00ffee"/><stop offset="0.1304" stop-color="#00ffec"/><stop offset="0.1739" stop-color="#00ffe9"/><stop offset="0.2174" stop-color="#00ffe7"/><stop offset="0.2609" stop-color="#00ffe3"/><stop offset="0.3043" stop-color="#00ffdd"/><stop offset="0.3478" stop-color="#00ffd5"/><stop offset="0.3913" stop-color="#4dffcd"/><stop offset="0.4348" stop-color="#90ffca"/><stop offset="0.4783" stop-color="#bdffc6"/><stop offset="0.5217" stop-color="#e5ffc2"/><stop offset="0.5652" stop-color="#fff5b6"/><stop offset="0.6087" stop-color="#ffd89c"/><stop offset="0.6522" stop-color="#ffc286"/><stop offset="0.6957" stop-color="#ffaf73"/><stop offset="0.7391" stop-color="#ff9e61"/><stop offset="0.7826" stop-color="#ff9050"/><stop offset="0.8261" stop-color="#ff833f"/><stop offset="0.8696" stop-color="#ff7729"/><stop offset="0.9130" stop-color="#ff6d00"/><stop offset="0.9565" stop-color="#ff6800"/><stop offset="1.0000" stop-color="#ff6400"/></linearGradient><linearGradient id="g50" gradientUnits="userSpaceOnUse" x1="292" x2="388" y1="0" y2="0"><stop offset="0.0000" stop-color="#00fff2"/><stop offset="0.0417" stop-color="#00fff1"/><stop offset="0.0833" stop-color="#00fff0"/><stop offset="0.1250" stop-color="#00ffee"/><stop offset="0.1667" stop-color="#00ffec"/><stop offset="0.2083" stop-color="#00ffea"/><stop offset="0.2500" stop-color="#00ffe6"/><stop offset="0.2917" stop-color="#00ffe1"/><stop offset="0.3333" stop-color="#00ffda"/><stop offset="0.3750" stop-color="#57ffd4"/><stop offset="0.4167" stop-color="#97ffd1"/><stop offset="0.4583" stop-color="#c4ffce"/><stop offset="0.5000" stop-color="#ecffca"/><stop offset="0.5417" stop-color="#ffeeb9"/><stop offset="0.5833" stop-color="#ffd29f"/><stop offset="0.6250" stop-color="#ffbc89"/><stop offset="0.6667" stop-color="#ffa977"/><stop offset="0.7083" stop-color="#ff9966"/><stop offset="0.7500" stop-color="#ff8b56"/><stop offset="0.7917" stop-color="#ff7e45"/><stop offset="0.8333" stop-color="#ff7232"/><stop offset="0.8750" stop-color="#ff6715"/><stop offset="0.9167" stop-color="#ff6100"/><stop offset="0.9583" stop-color="#ff5d00"/><stop offset="1.0000" stop-color="#ff5900"/></linearGradient><linearGradient id="g51" gradientUnits="userSpaceOnUse" x1="292" x2="388" y1="0" y2="0"><stop offset="0.0000" stop-color="#00fff4"/><stop offset="0.0417" stop-color="#00fff3"/><stop offset="0.0833" stop-color="#00fff2"/><stop offset="0.1250" stop-color="#00fff1"/><stop offset="0.1667" stop-color="#00ffef"/><stop offset="0.2083" stop-color="#00ffed"/><stop offset="0.2500" stop-color="#00ffea"/><stop offset="0.2917" stop-color="#00ffe6"/><stop offset="0.3333" stop-color="#00ffe0"/><stop offset="0.3750" stop-color="#60ffda"/><stop offset="0.4167" stop-color="#9effd8"/><stop offset="0.4583" stop-color="#cbffd5"/><stop offset="0.5000" stop-color="#f3ffd2"/><stop offset="0.5417" stop-color="#ffe7bb"/><stop offset="0.5833" stop-color="#ffcca2"/><stop offset="0.6250" stop-color="#ffb68d"/><stop offset="0.6667" stop-color="#ffa47b"/><stop offset="0.7083" stop-color="#ff946a"/><stop offset="0.7500" stop-color="#ff865a"/><stop offset="0.7917" stop-color="#ff794a"/><stop offset="0.8333" stop-color="#ff6d3a"/><stop offset="0.8750" stop-color="#ff6124"/><stop offset="0.9167" stop-color="#ff5900"/><stop offset="0.9583" stop-color="#ff5500"/><stop offset="1.0000" stop-color="#ff5200"/></linearGradient><linearGradient id="g52" gradientUnits="userSpaceOnUse" x1="292" x2="388" y1="0" y2="0"><stop offset="0.0000" stop-color="#00fff6"/><stop offset="0.0417" stop-color="#00fff6"/><stop offset="0.0833" stop-color="#00fff5"/><stop offset="0.1250" stop-color="#00fff4"/><stop offset="0.1667" stop-color="#00fff2"/><stop offset="0.2083" stop-color="#00fff0"/><stop offset="0.2500" stop-color="#00ffee"/><stop offset="0.2917" stop-color="#00ffea"/><stop offset="0.3333" stop-color="#00ffe5"/><stop offset="0.3750" stop-color="#69ffe1"/><stop offset="0.4167" stop-color="#a5ffe0"/><stop offset="0.4583" stop-color="#d3ffdd"/><stop offset="0.5000" stop-color="#fbffdb"/><stop offset="0.5417" stop-color="#ffe0be"/><stop offset="0.5833" stop-color="#ffc6a5"/><stop offset="0.6250" stop-color="#ffb190"/><stop offset="0.6667" stop-color="#ff9f7e"/><stop offset="0.7083" stop-color="#ff8f6e"/><stop offset="0.7500" stop-color="#ff815f"/><stop offset="0.7917" stop-color="#ff744f"/><stop offset="0.8333" stop-color="#ff6840"/><stop offset="0.8750" stop-color="#ff5c2d"/><stop offset="0.9167" stop-color="#ff500c"/><stop offset="0.9583" stop-color="#ff4c00"/><stop offset="1.0000" stop-color="#ff4a00"/></linearGradient><linearGradient id="g53" gradientUnits="userSpaceOnUse" x1="292" x2="392" y1="0" y2="0"><stop offset="0.0000" stop-color="#00fff9"/><stop offset="0.0400" stop-color="#00fff8"/><stop offset="0.0800" stop-color="#00fff7"/><stop offset="0.1200" stop-color="#00fff6"/><stop offset="0.1600" stop-color="#00fff5"/><stop offset="0.2000" stop-color="#00fff4"/><stop offset="0.2400" stop-color="#00fff2"/><stop offset="0.2800" stop-color="#00ffef"/><stop offset="0.3200" stop-color="#00ffeb"/><stop offset="0.3600" stop-color="#72ffe9"/><stop offset="0.4000" stop-color="#acffe7"/><stop offset="0.4400" stop-color="#daffe6"/><stop offset="0.4800" stop-color="#fffbe0"/><stop offset="0.5200" stop-color="#ffd9c0"/><stop offset="0.5600" stop-color="#ffc0a7"/><stop offset="0.6000" stop-color="#ffab93"/><stop offset="0.6400" stop-color="#ff9981"/><stop offset="0.6800" stop-color="#ff8a71"/><stop offset="0.7200" stop-color="#ff7c63"/><stop offset="0.7600" stop-color="#ff6f54"/><stop offset="0.8000" stop-color="#ff6245"/><stop offset="0.8400" stop-color="#ff5635"/><stop offset="0.8800" stop-color="#ff4a1f"/><stop offset="0.9200" stop-color="#ff4200"/><stop offset="0.9600" stop-color="#ff4000"/><stop offset="1.0000" stop-color="#ff3e00"/></linearGradient><linearGradient id="g54" gradientUnits="userSpaceOnUse" x1="292" x2="392" y1="0" y2="0"><stop offset="0.0000" stop-color="#00fffb"/><stop offset="0.0400" stop-color="#00fffa"/><stop offset="0.0800" stop-color="#00fffa"/><stop offset="0.1200" stop-color="#00fff9"/><stop offset="0.1600" stop-color="#00fff9"/><stop offset="0.2000" stop-color="#00fff8"/><stop offset="0.2400" stop-color="#00fff6"/><stop offset="0.2800" stop-color="#00fff5"/><stop offset="0.3200" stop-color="#00fff2"/><stop offset="0.3600" stop-color="#7afff0"/><stop offset="0.4000" stop-color="#b4ffef"/><stop offset="0.4400" stop-color="#e2ffee"/><stop offset="0.4800" stop-color="#fff2e1"/><stop offset="0.5200" stop-color="#ffd2c2"/><stop offset="0.5600" stop-color="#ffb9aa"/><stop offset="0.6000" stop-color="#ffa596"/><stop offset="0.6400" stop-color="#ff9484"/><stop offset="0.6800" stop-color="#ff8475"/><stop offset="0.7200" stop-color="#ff7666"/><stop offset="0.7600" stop-color="#ff6958"/><stop offset="0.8000" stop-color="#ff5d4a"/><stop offset="0.8400" stop-color="#ff503b"/><stop offset="0.8800" stop-color="#ff4329"/><stop offset="0.9200" stop-color="#ff3600"/><stop offset="0.9600" stop-color="#ff3400"/><stop offset="1.0000" stop-color="#ff3200"/></linearGradient><linearGradient id="g55" gradientUnits="userSpaceOnUse" x1="292" x2="392" y1="0" y2="0"><stop offset="0.0000" stop-color="#00fffd"/><stop offset="0.0400" stop-color="#00fffd"/><stop offset="0.0800" stop-color="#00fffd"/><stop offset="0.1200" stop-color="#00fffc"/><stop offset="0.1600" stop-color="#00fffc"/><stop offset="0.2000" stop-color="#00fffc"/><stop offset="0.2400" stop-color="#00fffb"/><stop offset="0.2800" stop-color="#00fffa"/><stop offset="0.3200" stop-color="#00fff9"/><stop offset="0.3600" stop-color="#83fff8"/><stop offset="0.4000" stop-color="#bcfff8"/><stop offset="0.4400" stop-color="#eafff7"/><stop offset="0.4800" stop-color="#ffeae3"/><stop offset="0.5200" stop-color="#ffcbc4"/><stop offset="0.5600" stop-color="#ffb3ac"/><stop offset="0.6000" stop-color="#ff9f98"/><stop offset="0.6400" stop-color="#ff8e87"/><stop offset="0.6800" stop-color="#ff7f78"/><stop offset="0.7200" stop-color="#ff716a"/><stop offset="0.7600" stop-color="#ff635c"/><stop offset="0.8000" stop-color="#ff574f"/><stop offset="0.8400" stop-color="#ff4a41"/><stop offset="0.8800" stop-color="#ff3c31"/><stop offset="0.9200" stop-color="#ff2b1a"/><stop offset="0.9600" stop-color="#ff2300"/><stop offset="1.0000" stop-color="#ff2100"/></linearGradient><linearGradient id="g56" gradientUnits="userSpaceOnUse" x1="292" x2="396" y1="0" y2="0"><stop offset="0.0000" stop-color="#00ffff"/><stop offset="0.0385" stop-color="#00ffff"/><stop offset="0.0769" stop-color="#00ffff"/><stop offset="0.1154" stop-color="#00ffff"/><stop offset="0.1538" stop-color="#00ffff"/><stop offset="0.1923" stop-color="#00feff"/><stop offset="0.2308" stop-color="#00feff"/><stop offset="0.2692" stop-color="#00feff"/><stop offset="0.3077" stop-color="#1dfeff"/><stop offset="0.3462" stop-color="#8bfeff"/><stop offset="0.3846" stop-color="#c2fdff"/><stop offset="0.4231" stop-color="#f1fdff"/><stop offset="0.4615" stop-color="#ffe2e4"/><stop offset="0.5000" stop-color="#ffc4c6"/><stop offset="0.5385" stop-color="#ffadaf"/><stop offset="0.5769" stop-color="#ff999b"/><stop offset="0.6154" stop-color="#ff888a"/><stop offset="0.6538" stop-color="#ff797b"/><stop offset="0.6923" stop-color="#ff6b6d"/><stop offset="0.7308" stop-color="#ff5d60"/><stop offset="0.7692" stop-color="#ff5053"/><stop offset="0.8077" stop-color="#ff4246"/><stop offset="0.8462" stop-color="#ff3337"/><stop offset="0.8846" stop-color="#ff1d25"/><stop offset="0.9231" stop-color="#ff0017"/><stop offset="0.9615" stop-color="#ff0017"/><stop offset="1.0000" stop-color="#ff0016"/></linearGradient><linearGradient id="g57" gradientUnits="userSpaceOnUse" x1="292" x2="396" y1="0" y2="0"><stop offset="0.0000" stop-color="#00fcff"/><stop offset="0.0385" stop-color="#00fcff"/><stop offset="0.0769" stop-color="#00fcff"/><stop offset="0.1154" stop-color="#00fbff"/><stop offset="0.1538" stop-color="#00fbff"/><stop offset="0.1923" stop-color="#00faff"/><stop offset="0.2308" stop-color="#00f9ff"/><stop offset="0.2692" stop-color="#00f8ff"/><stop offset="0.3077" stop-color="#34f6ff"/><stop offset="0.3462" stop-color="#8ef5ff"/><stop offset="0.3846" stop-color="#c4f5ff"/><stop offset="0.4231" stop-color="#f1f4ff"/><stop offset="0.4615" stop-color="#ffdae5"/><stop offset="0.5000" stop-color="#ffbdc8"/><stop offset="0.5385" stop-color="#ffa6b1"/><stop offset="0.5769" stop-color="#ff939d"/><stop offset="0.6154" stop-color="#ff828d"/><stop offset="0.6538" stop-color="#ff737e"/><stop offset="0.6923" stop-color="#ff6570"/><stop offset="0.7308" stop-color="#ff5763"/><stop offset="0.7692" stop-color="#ff4957"/><stop offset="0.8077" stop-color="#ff3a4a"/><stop offset="0.8462" stop-color="#ff273c"/><stop offset="0.8846" stop-color="#ff002f"/><stop offset="0.9231" stop-color="#ff002d"/><stop offset="0.9615" stop-color="#ff002c"/><stop offset="1.0000" stop-color="#ff002b"/></linearGradient><linearGradient id="g58" gradientUnits="userSpaceOnUse" x1="292" x2="396" y1="0" y2="0"><stop offset="0.0000" stop-color="#00faff"/><stop offset="0.0385" stop-color="#00faff"/><stop offset="0.0769" stop-color="#00f9ff"/><stop offset="0.1154" stop-color="#00f8ff"/><stop offset="0.1538" stop-color="#00f7ff"/><stop offset="0.1923" stop-color="#00f6ff"/><stop offset="0.2308" stop-color="#00f4ff"/><stop offset="0.2692" stop-color="#00f2ff"/><stop offset="0.3077" stop-color="#42eeff"/><stop offset="0.3462" stop-color="#92edff"/><stop offset="0.3846" stop-color="#c5ecff"/><stop offset="0.4231" stop-color="#f1eaff"/><stop offset="0.4615" stop-color="#ffd2e7"/><stop offset="0.5000" stop-color="#ffb6ca"/><stop offset="0.5385" stop-color="#ffa0b3"/><stop offset="0.5769" stop-color="#ff8da0"/><stop offset="0.6154" stop-color="#ff7c8f"/><stop offset="0.6538" stop-color="#ff6d81"/><stop offset="0.6923" stop-color="#ff5e73"/><stop offset="0.7308" stop-color="#ff5067"/><stop offset="0.7692" stop-color="#ff415a"/><stop offset="0.8077" stop-color="#ff304e"/><stop offset="0.8462" stop-color="#ff1641"/><stop offset="0.8846" stop-color="#ff003c"/><stop offset="0.9231" stop-color="#ff003a"/><stop offset="0.9615" stop-color="#ff0039"/><stop offset="1.0000" stop-color="#ff0037"/></linearGradient><linearGradient id="g59" gradientUnits="userSpaceOnUse" x1="292" x2="400" y1="0" y2="0"><stop offset="0.0000" stop-color="#00f8ff"/><stop offset="0.0370" stop-color="#00f7ff"/><stop offset="0.0741" stop-color="#00f6ff"/><stop offset="0.1111" stop-color="#00f5ff"/><stop offset="0.1481" stop-color="#00f4ff"/><stop offset="0.1852" stop-color="#00f2ff"/><stop offset="0.2222" stop-color="#00efff"/><stop offset="0.2593" stop-color="#00ebff"/><stop offset="0.2963" stop-color="#4ce7ff"/><stop offset="0.3333" stop-color="#95e5ff"/><stop offset="0.3704" stop-color="#c6e3ff"/><stop offset="0.4074" stop-color="#f1e1ff"/><stop offset="0.4444" stop-color="#ffcae8"/><stop offset="0.4815" stop-color="#ffafcb"/><stop offset="0.5185" stop-color="#ff99b5"/><stop offset="0.5556" stop-color="#ff86a2"/><stop offset="0.5926" stop-color="#ff7692"/><stop offset="0.6296" stop-color="#ff6683"/><stop offset="0.6667" stop-color="#ff5776"/><stop offset="0.7037" stop-color="#ff486a"/><stop offset="0.7407" stop-color="#ff385e"/><stop offset="0.7778" stop-color="#ff2352"/><stop offset="0.8148" stop-color="#ff0049"/><stop offset="0.8519" stop-color="#ff0047"/><stop offset="0.8889" stop-color="#ff0044"/><stop offset="0.9259" stop-color="#ff0042"/><stop offset="0.9630" stop-color="#ff0040"/><stop offset="1.0000" stop-color="#ff003f"/></linearGradient><linearGradient id="g60" gradientUnits="userSpaceOnUse" x1="292" x2="400" y1="0" y2="0"><stop offset="0.0000" stop-color="#00f5ff"/><stop offset="0.0370" stop-color="#00f4ff"/><stop offset="0.0741" stop-color="#00f3ff"/><stop offset="0.1111" stop-color="#00f2ff"/><stop offset="0.1481" stop-color="#00f0ff"/><stop offset="0.1852" stop-color="#00edff"/><stop offset="0.2222" stop-color="#00eaff"/><stop offset="0.2593" stop-color="#00e5ff"/><stop offset="0.2963" stop-color="#55dfff"/><stop offset="0.3333" stop-color="#98ddff"/><stop offset="0.3704" stop-color="#c7dbff"/><stop offset="0.4074" stop-color="#f0d8ff"/><stop offset="0.4444" stop-color="#ffc2e9"/><stop offset="0.4815" stop-color="#ffa8cd"/><stop offset="0.5185" stop-color="#ff92b7"/><stop offset="0.5556" stop-color="#ff80a4"/><stop offset="0.5926" stop-color="#ff6f94"/><stop offset="0.6296" stop-color="#ff5f86"/><stop offset="0.6667" stop-color="#ff5079"/><stop offset="0.7037" stop-color="#ff406d"/><stop offset="0.7407" stop-color="#ff2d61"/><stop offset="0.7778" stop-color="#ff0056"/><stop offset="0.8148" stop-color="#ff0052"/><stop offset="0.8519" stop-color="#ff004f"/><stop offset="0.8889" stop-color="#ff004d"/><stop offset="0.9259" stop-color="#ff004a"/><stop offset="0.9630" stop-color="#ff0048"/><stop offset="1.0000" stop-color="#ff0046"/></linearGradient><linearGradient id="g61" gradientUnits="userSpaceOnUse" x1="296" x2="404" y1="0" y2="0"><stop offset="0.0000" stop-color="#00f2ff"/><stop offset="0.0370" stop-color="#00f0ff"/><stop offset="0.0741" stop-color="#00efff"/><stop offset="0.1111" stop-color="#00ecff"/><stop offset="0.1481" stop-color="#00e9ff"/><stop offset="0.1852" stop-color="#00e5ff"/><stop offset="0.2222" stop-color="#00deff"/><stop offset="0.2593" stop-color="#5cd8ff"/><stop offset="0.2963" stop-color="#9bd5ff"/><stop offset="0.3333" stop-color="#c8d2ff"/><stop offset="0.3704" stop-color="#f0cfff"/><stop offset="0.4074" stop-color="#ffbaea"/><stop offset="0.4444" stop-color="#ffa0cf"/><stop offset="0.4815" stop-color="#ff8bb9"/><stop offset="0.5185" stop-color="#ff79a6"/><stop offset="0.5556" stop-color="#ff6896"/><stop offset="0.5926" stop-color="#ff5888"/><stop offset="0.6296" stop-color="#ff477b"/><stop offset="0.6667" stop-color="#ff356f"/><stop offset="0.7037" stop-color="#ff1c64"/><stop offset="0.7407" stop-color="#ff005d"/><stop offset="0.7778" stop-color="#ff005a"/><stop offset="0.8148" stop-color="#ff0056"/><stop offset="0.8519" stop-color="#ff0054"/><stop offset="0.8889" stop-color="#ff0051"/><stop offset="0.9259" stop-color="#ff004f"/><stop offset="0.9630" stop-color="#ff004d"/><stop offset="1.0000" stop-color="#ff004b"/></linearGradient><linearGradient id="g62" gradientUnits="userSpaceOnUse" x1="296" x2="404" y1="0" y2="0"><stop offset="0.0000" stop-color="#00efff"/><stop offset="0.0370" stop-color="#00edff"/><stop offset="0.0741" stop-color="#00ebff"/><stop offset="0.1111" stop-color="#00e8ff"/><stop offset="0.1481" stop-color="#00e4ff"/><stop offset="0.1852" stop-color="#00dfff"/><stop offset="0.2222" stop-color="#00d7ff"/><stop offset="0.2593" stop-color="#62d1ff"/><stop offset="0.2963" stop-color="#9dceff"/><stop offset="0.3333" stop-color="#c9caff"/><stop offset="0.3704" stop-color="#f0c6ff"/><stop offset="0.4074" stop-color="#ffb2eb"/><stop offset="0.4444" stop-color="#ff99d0"/><stop offset="0.4815" stop-color="#ff84ba"/><stop offset="0.5185" stop-color="#ff71a8"/><stop offset="0.5556" stop-color="#ff6099"/><stop offset="0.5926" stop-color="#ff508b"/><stop offset="0.6296" stop-color="#ff3e7e"/><stop offset="0.6667" stop-color="#ff2872"/><stop offset="0.7037" stop-color="#ff0068"/><stop offset="0.7407" stop-color="#ff0064"/><stop offset="0.7778" stop-color="#ff0060"/><stop offset="0.8148" stop-color="#ff005d"/><stop offset="0.8519" stop-color="#ff005a"/><stop offset="0.8889" stop-color="#ff0057"/><stop offset="0.9259" stop-color="#ff0055"/><stop offset="0.9630" stop-color="#ff0052"/><stop offset="1.0000" stop-color="#ff0050"/></linearGradient><linearGradient id="g63" gradientUnits="userSpaceOnUse" x1="296" x2="404" y1="0" y2="0"><stop offset="0.0000" stop-color="#00ecff"/><stop offset="0.0370" stop-color="#00eaff"/><stop offset="0.0741" stop-color="#00e8ff"/><stop offset="0.1111" stop-color="#00e4ff"/><stop offset="0.1481" stop-color="#00e0ff"/><stop offset="0.1852" stop-color="#00d9ff"/><stop offset="0.2222" stop-color="#00d0ff"/><stop offset="0.2593" stop-color="#68caff"/><stop offset="0.2963" stop-color="#a0c6ff"/><stop offset="0.3333" stop-color="#cac2ff"/><stop offset="0.3704" stop-color="#f0bdff"/><stop offset="0.4074" stop-color="#ffaaec"/><stop offset="0.4444" stop-color="#ff91d1"/><stop offset="0.4815" stop-color="#ff7cbc"/><stop offset="0.5185" stop-color="#ff6aaa"/><stop offset="0.5556" stop-color="#ff589b"/><stop offset="0.5926" stop-color="#ff468d"/><stop offset="0.6296" stop-color="#ff3280"/><stop offset="0.6667" stop-color="#ff1175"/><stop offset="0.7037" stop-color="#ff006f"/><stop offset="0.7407" stop-color="#ff006a"/><stop offset="0.7778" stop-color="#ff0066"/><stop offset="0.8148" stop-color="#ff0063"/><stop offset="0.8519" stop-color="#ff005f"/><stop offset="0.8889" stop-color="#ff005d"/><stop offset="0.9259" stop-color="#ff005a"/><stop offset="0.9630" stop-color="#ff0058"/><stop offset="1.0000" stop-color="#ff0055"/></linearGradient><linearGradient id="g64" gradientUnits="userSpaceOnUse" x1="296" x2="400" y1="0" y2="0"><stop offset="0.0000" stop-color="#00eaff"/><stop offset="0.0385" stop-color="#00e7ff"/><stop offset="0.0769" stop-color="#00e4ff"/><stop offset="0.1154" stop-color="#00e0ff"/><stop offset="0.1538" stop-color="#00dbff"/><stop offset="0.1923" stop-color="#00d4ff"/><stop offset="0.2308" stop-color="#00c8ff"/><stop offset="0.2692" stop-color="#6dc2ff"/><stop offset="0.3077" stop-color="#a2beff"/><stop offset="0.3462" stop-color="#cbbaff"/><stop offset="0.3846" stop-color="#f0b4ff"/><stop offset="0.4231" stop-color="#ffa1ed"/><stop offset="0.4615" stop-color="#ff89d3"/><stop offset="0.5000" stop-color="#ff75be"/><stop offset="0.5385" stop-color="#ff62ac"/><stop offset="0.5769" stop-color="#ff4f9d"/><stop offset="0.6154" stop-color="#ff3c8f"/><stop offset="0.6538" stop-color="#ff2383"/><stop offset="0.6923" stop-color="#ff007a"/><stop offset="0.7308" stop-color="#ff0074"/><stop offset="0.7692" stop-color="#ff0070"/><stop offset="0.8077" stop-color="#ff006b"/><stop offset="0.8462" stop-color="#ff0068"/><stop offset="0.8846" stop-color="#ff0064"/><stop offset="0.9231" stop-color="#ff0062"/><stop offset="0.9615" stop-color="#ff005f"/><stop offset="1.0000" stop-color="#ff005c"/></linearGradient><linearGradient id="g65" gradientUnits="userSpaceOnUse" x1="296" x2="400" y1="0" y2="0"><stop offset="0.0000" stop-color="#00e7ff"/><stop offset="0.0385" stop-color="#00e4ff"/><stop offset="0.0769" stop-color="#00e1ff"/><stop offset="0.1154" stop-color="#00dcff"/><stop offset="0.1538" stop-color="#00d6ff"/><stop offset="0.1923" stop-color="#00ceff"/><stop offset="0.2308" stop-color="#00c1ff"/><stop offset="0.2692" stop-color="#72bbff"/><stop offset="0.3077" stop-color="#a4b7ff"/><stop offset="0.3462" stop-color="#ccb1ff"/><stop offset="0.3846" stop-color="#f0abff"/><stop offset="0.4231" stop-color="#ff99ee"/><stop offset="0.4615" stop-color="#ff81d4"/><stop offset="0.5000" stop-color="#ff6cbf"/><stop offset="0.5385" stop-color="#ff59ae"/><stop offset="0.5769" stop-color="#ff459f"/><stop offset="0.6154" stop-color="#ff2f91"/><stop offset="0.6538" stop-color="#ff0085"/><stop offset="0.6923" stop-color="#ff007f"/><stop offset="0.7308" stop-color="#ff0079"/><stop offset="0.7692" stop-color="#ff0075"/><stop offset="0.8077" stop-color="#ff0070"/><stop offset="0.8462" stop-color="#ff006d"/><stop offset="0.8846" stop-color="#ff0069"/><stop offset="0.9231" stop-color="#ff0066"/><stop offset="0.9615" stop-color="#ff0063"/><stop offset="1.0000" stop-color="#ff0061"/></linearGradient><linearGradient id="g66" gradientUnits="userSpaceOnUse" x1="296" x2="396" y1="0" y2="0"><stop offset="0.0000" stop-color="#00e4ff"/><stop offset="0.0400" stop-color="#00e1ff"/><stop offset="0.0800" stop-color="#00ddff"/><stop offset="0.1200" stop-color="#00d8ff"/><stop offset="0.1600" stop-color="#00d1ff"/><stop offset="0.2000" stop-color="#00c8ff"/><stop offset="0.2400" stop-color="#00b9ff"/><stop offset="0.2800" stop-color="#76b4ff"/><stop offset="0.3200" stop-color="#a6afff"/><stop offset="0.3600" stop-color="#cda9ff"/><stop offset="0.4000" stop-color="#efa2ff"/><stop offset="0.4400" stop-color="#ff90ef"/><stop offset="0.4800" stop-color="#ff78d5"/><stop offset="0.5200" stop-color="#ff63c1"/><stop offset="0.5600" stop-color="#ff4fb0"/><stop offset="0.6000" stop-color="#ff39a0"/><stop offset="0.6400" stop-color="#ff1a93"/><stop offset="0.6800" stop-color="#ff008a"/><stop offset="0.7200" stop-color="#ff0084"/><stop offset="0.7600" stop-color="#ff007e"/><stop offset="0.8000" stop-color="#ff0079"/><stop offset="0.8400" stop-color="#ff0075"/><stop offset="0.8800" stop-color="#ff0071"/><stop offset="0.9200" stop-color="#ff006d"/><stop offset="0.9600" stop-color="#ff006a"/><stop offset="1.0000" stop-color="#ff0067"/></linearGradient><linearGradient id="g67" gradientUnits="userSpaceOnUse" x1="296" x2="392" y1="0" y2="0"><stop offset="0.0000" stop-color="#00e1ff"/><stop offset="0.0417" stop-color="#00deff"/><stop offset="0.0833" stop-color="#00daff"/><stop offset="0.1250" stop-color="#00d4ff"/><stop offset="0.1667" stop-color="#00ccff"/><stop offset="0.2083" stop-color="#00c1ff"/><stop offset="0.2500" stop-color="#25b2ff"/><stop offset="0.2917" stop-color="#7aadff"/><stop offset="0.3333" stop-color="#a8a7ff"/><stop offset="0.3750" stop-color="#cda0ff"/><stop offset="0.4167" stop-color="#ef99ff"/><stop offset="0.4583" stop-color="#ff87f0"/><stop offset="0.5000" stop-color="#ff6fd7"/><stop offset="0.5417" stop-color="#ff5ac2"/><stop offset="0.5833" stop-color="#ff44b1"/><stop offset="0.6250" stop-color="#ff2aa2"/><stop offset="0.6667" stop-color="#ff0097"/><stop offset="0.7083" stop-color="#ff008f"/><stop offset="0.7500" stop-color="#ff0088"/><stop offset="0.7917" stop-color="#ff0082"/><stop offset="0.8333" stop-color="#ff007d"/><stop offset="0.8750" stop-color="#ff0079"/><stop offset="0.9167" stop-color="#ff0075"/><stop offset="0.9583" stop-color="#ff0071"/><stop offset="1.0000" stop-color="#ff006e"/></linearGradient><linearGradient id="g68" gradientUnits="userSpaceOnUse" x1="296" x2="392" y1="0" y2="0"><stop offset="0.0000" stop-color="#00dfff"/><stop offset="0.0417" stop-color="#00dbff"/><stop offset="0.0833" stop-color="#00d6ff"/><stop offset="0.1250" stop-color="#00d0ff"/><stop offset="0.1667" stop-color="#00c7ff"/><stop offset="0.2083" stop-color="#00bbff"/><stop offset="0.2500" stop-color="#34abff"/><stop offset="0.2917" stop-color="#7da5ff"/><stop offset="0.3333" stop-color="#aa9fff"/><stop offset="0.3750" stop-color="#ce98ff"/><stop offset="0.4167" stop-color="#ef8fff"/><stop offset="0.4583" stop-color="#ff7df0"/><stop offset="0.5000" stop-color="#ff65d8"/><stop offset="0.5417" stop-color="#ff4fc4"/><stop offset="0.5833" stop-color="#ff36b3"/><stop offset="0.6250" stop-color="#ff04a4"/><stop offset="0.6667" stop-color="#ff009b"/><stop offset="0.7083" stop-color="#ff0093"/><stop offset="0.7500" stop-color="#ff008c"/><stop offset="0.7917" stop-color="#ff0086"/><stop offset="0.8333" stop-color="#ff0081"/><stop offset="0.8750" stop-color="#ff007d"/><stop offset="0.9167" stop-color="#ff0079"/><stop offset="0.9583" stop-color="#ff0075"/><stop offset="1.0000" stop-color="#ff0072"/></linearGradient><linearGradient id="g69" gradientUnits="userSpaceOnUse" x1="296" x2="388" y1="0" y2="0"><stop offset="0.0000" stop-color="#00dcff"/><stop offset="0.0435" stop-color="#00d8ff"/><stop offset="0.0870" stop-color="#00d2ff"/><stop offset="0.1304" stop-color="#00cbff"/><stop offset="0.1739" stop-color="#00c2ff"/><stop offset="0.2174" stop-color="#00b4ff"/><stop offset="0.2609" stop-color="#3fa4ff"/><stop offset="0.3043" stop-color="#819eff"/><stop offset="0.3478" stop-color="#ab97ff"/><stop offset="0.3913" stop-color="#cf8fff"/><stop offset="0.4348" stop-color="#ef85ff"/><stop offset="0.4783" stop-color="#ff73f1"/><stop offset="0.5217" stop-color="#ff5bd9"/><stop offset="0.5652" stop-color="#ff42c5"/><stop offset="0.6087" stop-color="#ff23b4"/><stop offset="0.6522" stop-color="#ff00a8"/><stop offset="0.6957" stop-color="#ff009e"/><stop offset="0.7391" stop-color="#ff0097"/><stop offset="0.7826" stop-color="#ff0090"/><stop offset="0.8261" stop-color="#ff008a"/><stop offset="0.8696" stop-color="#ff0085"/><stop offset="0.9130" stop-color="#ff0080"/><stop offset="0.9565" stop-color="#ff007c"/><stop offset="1.0000" stop-color="#ff0079"/></linearGradient><linearGradient id="g70" gradientUnits="userSpaceOnUse" x1="296" x2="384" y1="0" y2="0"><stop offset="0.0000" stop-color="#00d9ff"/><stop offset="0.0455" stop-color="#00d4ff"/><stop offset="0.0909" stop-color="#00cfff"/><stop offset="0.1364" stop-color="#00c7ff"/><stop offset="0.1818" stop-color="#00bdff"/><stop offset="0.2273" stop-color="#00adff"/><stop offset="0.2727" stop-color="#479dff"/><stop offset="0.3182" stop-color="#8496ff"/><stop offset="0.3636" stop-color="#ad8fff"/><stop offset="0.4091" stop-color="#cf86ff"/><stop offset="0.4545" stop-color="#ef7bff"/><stop offset="0.5000" stop-color="#ff68f2"/><stop offset="0.5455" stop-color="#ff4eda"/><stop offset="0.5909" stop-color="#ff32c6"/><stop offset="0.6364" stop-color="#ff00b6"/><stop offset="0.6818" stop-color="#ff00ab"/><stop offset="0.7273" stop-color="#ff00a2"/><stop offset="0.7727" stop-color="#ff009a"/><stop offset="0.8182" stop-color="#ff0093"/><stop offset="0.8636" stop-color="#ff008e"/><stop offset="0.9091" stop-color="#ff0088"/><stop offset="0.9545" stop-color="#ff0084"/><stop offset="1.0000" stop-color="#ff0080"/></linearGradient><linearGradient id="g71" gradientUnits="userSpaceOnUse" x1="296" x2="380" y1="0" y2="0"><stop offset="0.0000" stop-color="#00d6ff"/><stop offset="0.0476" stop-color="#00d1ff"/><stop offset="0.0952" stop-color="#00cbff"/><stop offset="0.1429" stop-color="#00c2ff"/><stop offset="0.1905" stop-color="#00b7ff"/><stop offset="0.2381" stop-color="#00a6ff"/><stop offset="0.2857" stop-color="#4e96ff"/><stop offset="0.3333" stop-color="#878eff"/><stop offset="0.3810" stop-color="#ae86ff"/><stop offset="0.4286" stop-color="#d07cff"/><stop offset="0.4762" stop-color="#ef70ff"/><stop offset="0.5238" stop-color="#ff5cf3"/><stop offset="0.5714" stop-color="#ff40db"/><stop offset="0.6190" stop-color="#ff17c8"/><stop offset="0.6667" stop-color="#ff00ba"/><stop offset="0.7143" stop-color="#ff00ae"/><stop offset="0.7619" stop-color="#ff00a5"/><stop offset="0.8095" stop-color="#ff009d"/><stop offset="0.8571" stop-color="#ff0097"/><stop offset="0.9048" stop-color="#ff0091"/><stop offset="0.9524" stop-color="#ff008c"/><stop offset="1.0000" stop-color="#ff0087"/></linearGradient><linearGradient id="g72" gradientUnits="userSpaceOnUse" x1="300" x2="380" y1="0" y2="0"><stop offset="0.0000" stop-color="#00ceff"/><stop offset="0.0500" stop-color="#00c7ff"/><stop offset="0.1000" stop-color="#00beff"/><stop offset="0.1500" stop-color="#00b1ff"/><stop offset="0.2000" stop-color="#009eff"/><stop offset="0.2500" stop-color="#558eff"/><stop offset="0.3000" stop-color="#8987ff"/><stop offset="0.3500" stop-color="#b07dff"/><stop offset="0.4000" stop-color="#d072ff"/><stop offset="0.4500" stop-color="#ef64ff"/><stop offset="0.5000" stop-color="#ff4ef3"/><stop offset="0.5500" stop-color="#ff2cdc"/><stop offset="0.6000" stop-color="#ff00ca"/><stop offset="0.6500" stop-color="#ff00bc"/><stop offset="0.7000" stop-color="#ff00b1"/><stop offset="0.7500" stop-color="#ff00a8"/><stop offset="0.8000" stop-color="#ff00a1"/><stop offset="0.8500" stop-color="#ff009a"/><stop offset="0.9000" stop-color="#ff0094"/><stop offset="0.9500" stop-color="#ff008f"/><stop offset="1.0000" stop-color="#ff008a"/></linearGradient><linearGradient id="g73" gradientUnits="userSpaceOnUse" x1="300" x2="376" y1="0" y2="0"><stop offset="0.0000" stop-color="#00caff"/><stop offset="0.0526" stop-color="#00c3ff"/><stop offset="0.1053" stop-color="#00b9ff"/><stop offset="0.1579" stop-color="#00abff"/><stop offset="0.2105" stop-color="#0096ff"/><stop offset="0.2632" stop-color="#5a87ff"/><stop offset="0.3158" stop-color="#8c7eff"/><stop offset="0.3684" stop-color="#b174ff"/><stop offset="0.4211" stop-color="#d168ff"/><stop offset="0.4737" stop-color="#ef57ff"/><stop offset="0.5263" stop-color="#ff3df4"/><stop offset="0.5789" stop-color="#ff00dd"/><stop offset="0.6316" stop-color="#ff00cc"/><stop offset="0.6842" stop-color="#ff00bf"/><stop offset="0.7368" stop-color="#ff00b4"/><stop offset="0.7895" stop-color="#ff00ab"/><stop offset="0.8421" stop-color="#ff00a3"/><stop offset="0.8947" stop-color="#ff009d"/><stop offset="0.9474" stop-color="#ff0097"/><stop offset="1.0000" stop-color="#ff0092"/></linearGradient><linearGradient id="g74" gradientUnits="userSpaceOnUse" x1="300" x2="372" y1="0" y2="0"><stop offset="0.0000" stop-color="#00c7ff"/><stop offset="0.0556" stop-color="#00bfff"/><stop offset="0.1111" stop-color="#00b4ff"/><stop offset="0.1667" stop-color="#00a5ff"/><stop offset="0.2222" stop-color="#008dff"/><stop offset="0.2778" stop-color="#5f7fff"/><stop offset="0.3333" stop-color="#8e76ff"/><stop offset="0.3889" stop-color="#b26aff"/><stop offset="0.4444" stop-color="#d25cff"/><stop offset="0.5000" stop-color="#ee48ff"/><stop offset="0.5556" stop-color="#ff23f4"/><stop offset="0.6111" stop-color="#ff00df"/><stop offset="0.6667" stop-color="#ff00cf"/><stop offset="0.7222" stop-color="#ff00c2"/><stop offset="0.7778" stop-color="#ff00b7"/><stop offset="0.8333" stop-color="#ff00ae"/><stop offset="0.8889" stop-color="#ff00a6"/><stop offset="0.9444" stop-color="#ff009f"/><stop offset="1.0000" stop-color="#ff009a"/></linearGradient><linearGradient id="g75" gradientUnits="userSpaceOnUse" x1="300" x2="368" y1="0" y2="0"><stop offset="0.0000" stop-color="#00c3ff"/><stop offset="0.0588" stop-color="#00bbff"/><stop offset="0.1176" stop-color="#00afff"/><stop offset="0.1765" stop-color="#009fff"/><stop offset="0.2353" stop-color="#0084ff"/><stop offset="0.2941" stop-color="#6477ff"/><stop offset="0.3529" stop-color="#916dff"/><stop offset="0.4118" stop-color="#b460ff"/><stop offset="0.4706" stop-color="#d24fff"/><stop offset="0.5294" stop-color="#ee34ff"/><stop offset="0.5882" stop-color="#ff00f5"/><stop offset="0.6471" stop-color="#ff00e1"/><stop offset="0.7059" stop-color="#ff00d1"/><stop offset="0.7647" stop-color="#ff00c4"/><stop offset="0.8235" stop-color="#ff00b9"/><stop offset="0.8824" stop-color="#ff00b0"/><stop offset="0.9412" stop-color="#ff00a9"/><stop offset="1.0000" stop-color="#ff00a2"/></linearGradient><linearGradient id="g76" gradientUnits="userSpaceOnUse" x1="300" x2="368" y1="0" y2="0"><stop offset="0.0000" stop-color="#00bfff"/><stop offset="0.0588" stop-color="#00b6ff"/><stop offset="0.1176" stop-color="#00aaff"/><stop offset="0.1765" stop-color="#0098ff"/><stop offset="0.2353" stop-color="#007aff"/><stop offset="0.2941" stop-color="#686fff"/><stop offset="0.3529" stop-color="#9363ff"/><stop offset="0.4118" stop-color="#b554ff"/><stop offset="0.4706" stop-color="#d33fff"/><stop offset="0.5294" stop-color="#ee0aff"/><stop offset="0.5882" stop-color="#ff00f6"/><stop offset="0.6471" stop-color="#ff00e2"/><stop offset="0.7059" stop-color="#ff00d3"/><stop offset="0.7647" stop-color="#ff00c6"/><stop offset="0.8235" stop-color="#ff00bc"/><stop offset="0.8824" stop-color="#ff00b3"/><stop offset="0.9412" stop-color="#ff00ab"/><stop offset="1.0000" stop-color="#ff00a4"/></linearGradient><linearGradient id="g77" gradientUnits="userSpaceOnUse" x1="300" x2="364" y1="0" y2="0"><stop offset="0.0000" stop-color="#00bcff"/><stop offset="0.0625" stop-color="#00b2ff"/><stop offset="0.1250" stop-color="#00a4ff"/><stop offset="0.1875" stop-color="#0091ff"/><stop offset="0.2500" stop-color="#1770ff"/><stop offset="0.3125" stop-color="#6c66ff"/><stop offset="0.3750" stop-color="#9558ff"/><stop offset="0.4375" stop-color="#b646ff"/><stop offset="0.5000" stop-color="#d329ff"/><stop offset="0.5625" stop-color="#ef00ff"/><stop offset="0.6250" stop-color="#ff00f7"/><stop offset="0.6875" stop-color="#ff00e4"/><stop offset="0.7500" stop-color="#ff00d4"/><stop offset="0.8125" stop-color="#ff00c8"/><stop offset="0.8750" stop-color="#ff00be"/><stop offset="0.9375" stop-color="#ff00b5"/><stop offset="1.0000" stop-color="#ff00ad"/></linearGradient><linearGradient id="g78" gradientUnits="userSpaceOnUse" x1="300" x2="360" y1="0" y2="0"><stop offset="0.0000" stop-color="#00b8ff"/><stop offset="0.0667" stop-color="#00adff"/><stop offset="0.1333" stop-color="#009fff"/><stop offset="0.2000" stop-color="#0089ff"/><stop offset="0.2667" stop-color="#2968ff"/><stop offset="0.3333" stop-color="#6f5cff"/><stop offset="0.4000" stop-color="#974cff"/><stop offset="0.4667" stop-color="#b735ff"/><stop offset="0.5333" stop-color="#d400ff"/><stop offset="0.6000" stop-color="#ef00ff"/><stop offset="0.6667" stop-color="#ff00f7"/><stop offset="0.7333" stop-color="#ff00e5"/><stop offset="0.8000" stop-color="#ff00d6"/><stop offset="0.8667" stop-color="#ff00ca"/><stop offset="0.9333" stop-color="#ff00c0"/><stop offset="1.0000" stop-color="#ff00b7"/></linearGradient><linearGradient id="g79" gradientUnits="userSpaceOnUse" x1="300" x2="356" y1="0" y2="0"><stop offset="0.0000" stop-color="#00b4ff"/><stop offset="0.0714" stop-color="#00a9ff"/><stop offset="0.1429" stop-color="#0099ff"/><stop offset="0.2143" stop-color="#0081ff"/><stop offset="0.2857" stop-color="#345fff"/><stop offset="0.3571" stop-color="#7251ff"/><stop offset="0.4286" stop-color="#993eff"/><stop offset="0.5000" stop-color="#b819ff"/><stop offset="0.5714" stop-color="#d600ff"/><stop offset="0.6429" stop-color="#ef00ff"/><stop offset="0.7143" stop-color="#ff00f8"/><stop offset="0.7857" stop-color="#ff00e6"/><stop offset="0.8571" stop-color="#ff00d8"/><stop offset="0.9286" stop-color="#ff00cc"/><stop offset="1.0000" stop-color="#ff00c2"/></linearGradient><linearGradient id="g80" gradientUnits="userSpaceOnUse" x1="300" x2="356" y1="0" y2="0"><stop offset="0.0000" stop-color="#00b0ff"/><stop offset="0.0714" stop-color="#00a4ff"/><stop offset="0.1429" stop-color="#0093ff"/><stop offset="0.2143" stop-color="#0078ff"/><stop offset="0.2857" stop-color="#3d56ff"/><stop offset="0.3571" stop-color="#7545ff"/><stop offset="0.4286" stop-color="#9a2bff"/><stop offset="0.5000" stop-color="#bb00ff"/><stop offset="0.5714" stop-color="#d700ff"/><stop offset="0.6429" stop-color="#f000ff"/><stop offset="0.7143" stop-color="#ff00f9"/><stop offset="0.7857" stop-color="#ff00e7"/><stop offset="0.8571" stop-color="#ff00d9"/><stop offset="0.9286" stop-color="#ff00cd"/><stop offset="1.0000" stop-color="#ff00c4"/></linearGradient><linearGradient id="g81" gradientUnits="userSpaceOnUse" x1="304" x2="352" y1="0" y2="0"><stop offset="0.0000" stop-color="#009fff"/><stop offset="0.0833" stop-color="#008dff"/><stop offset="0.1667" stop-color="#006fff"/><stop offset="0.2500" stop-color="#444bff"/><stop offset="0.3333" stop-color="#7836ff"/><stop offset="0.4167" stop-color="#9d00ff"/><stop offset="0.5000" stop-color="#bd00ff"/><stop offset="0.5833" stop-color="#d800ff"/><stop offset="0.6667" stop-color="#f000ff"/><stop offset="0.7500" stop-color="#ff00f9"/><stop offset="0.8333" stop-color="#ff00e8"/><stop offset="0.9167" stop-color="#ff00da"/><stop offset="1.0000" stop-color="#ff00cf"/></linearGradient><linearGradient id="g82" gradientUnits="userSpaceOnUse" x1="304" x2="348" y1="0" y2="0"><stop offset="0.0000" stop-color="#009aff"/><stop offset="0.0909" stop-color="#0086ff"/><stop offset="0.1818" stop-color="#0065ff"/><stop offset="0.2727" stop-color="#4a3eff"/><stop offset="0.3636" stop-color="#7b20ff"/><stop offset="0.4545" stop-color="#a100ff"/><stop offset="0.5455" stop-color="#c000ff"/><stop offset="0.6364" stop-color="#da00ff"/><stop offset="0.7273" stop-color="#f000ff"/><stop offset="0.8182" stop-color="#ff00fa"/><stop offset="0.9091" stop-color="#ff00e9"/><stop offset="1.0000" stop-color="#ff00dc"/></linearGradient><linearGradient id="g83" gradientUnits="userSpaceOnUse" x1="304" x2="344" y1="0" y2="0"><stop offset="0.0000" stop-color="#0095ff"/><stop offset="0.1000" stop-color="#007fff"/><stop offset="0.2000" stop-color="#0059ff"/><stop offset="0.3000" stop-color="#502dff"/><stop offset="0.4000" stop-color="#8000ff"/><stop offset="0.5000" stop-color="#a500ff"/><stop offset="0.6000" stop-color="#c200ff"/><stop offset="0.7000" stop-color="#db00ff"/><stop offset="0.8000" stop-color="#f000ff"/><stop offset="0.9000" stop-color="#ff00fa"/><stop offset="1.0000" stop-color="#ff00ea"/></linearGradient><linearGradient id="g84" gradientUnits="userSpaceOnUse" x1="304" x2="344" y1="0" y2="0"><stop offset="0.0000" stop-color="#008fff"/><stop offset="0.1000" stop-color="#0077ff"/><stop offset="0.2000" stop-color="#004bff"/><stop offset="0.3000" stop-color="#540cff"/><stop offset="0.4000" stop-color="#8700ff"/><stop offset="0.5000" stop-color="#a900ff"/><stop offset="0.6000" stop-color="#c400ff"/><stop offset="0.7000" stop-color="#dc00ff"/><stop offset="0.8000" stop-color="#f100ff"/><stop offset="0.9000" stop-color="#ff00fb"/><stop offset="1.0000" stop-color="#ff00eb"/></linearGradient><linearGradient id="g85" gradientUnits="userSpaceOnUse" x1="304" x2="340" y1="0" y2="0"><stop offset="0.0000" stop-color="#0089ff"/><stop offset="0.1111" stop-color="#006fff"/><stop offset="0.2222" stop-color="#0039ff"/><stop offset="0.3333" stop-color="#6000ff"/><stop offset="0.4444" stop-color="#8c00ff"/><stop offset="0.5556" stop-color="#ac00ff"/><stop offset="0.6667" stop-color="#c600ff"/><stop offset="0.7778" stop-color="#dd00ff"/><stop offset="0.8889" stop-color="#f100ff"/><stop offset="1.0000" stop-color="#ff00fb"/></linearGradient><linearGradient id="g86" gradientUnits="userSpaceOnUse" x1="304" x2="336" y1="0" y2="0"><stop offset="0.0000" stop-color="#0083ff"/><stop offset="0.1250" stop-color="#0066ff"/><stop offset="0.2500" stop-color="#0018ff"/><stop offset="0.3750" stop-color="#6900ff"/><stop offset="0.5000" stop-color="#9100ff"/><stop offset="0.6250" stop-color="#af00ff"/><stop offset="0.7500" stop-color="#c800ff"/><stop offset="0.8750" stop-color="#de00ff"/><stop offset="1.0000" stop-color="#f100ff"/></linearGradient><linearGradient id="g87" gradientUnits="userSpaceOnUse" x1="308" x2="332" y1="0" y2="0"><stop offset="0.0000" stop-color="#005cff"/><stop offset="0.1667" stop-color="#2f00ff"/><stop offset="0.3333" stop-color="#7100ff"/><stop offset="0.5000" stop-color="#9600ff"/><stop offset="0.6667" stop-color="#b200ff"/><stop offset="0.8333" stop-color="#ca00ff"/><stop offset="1.0000" stop-color="#df00ff"/></linearGradient><linearGradient id="g88" gradientUnits="userSpaceOnUse" x1="308" x2="332" y1="0" y2="0"><stop offset="0.0000" stop-color="#0051ff"/><stop offset="0.1667" stop-color="#4300ff"/><stop offset="0.3333" stop-color="#7800ff"/><stop offset="0.5000" stop-color="#9a00ff"/><stop offset="0.6667" stop-color="#b500ff"/><stop offset="0.8333" stop-color="#cb00ff"/><stop offset="1.0000" stop-color="#df00ff"/></linearGradient><linearGradient id="g89" gradientUnits="userSpaceOnUse" x1="308" x2="328" y1="0" y2="0"><stop offset="0.0000" stop-color="#0043ff"/><stop offset="0.2000" stop-color="#5000ff"/><stop offset="0.4000" stop-color="#7e00ff"/><stop offset="0.6000" stop-color="#9e00ff"/><stop offset="0.8000" stop-color="#b700ff"/><stop offset="1.0000" stop-color="#cd00ff"/></linearGradient><linearGradient id="g90" gradientUnits="userSpaceOnUse" x1="308" x2="324" y1="0" y2="0"><stop offset="0.0000" stop-color="#0031ff"/><stop offset="0.2500" stop-color="#5b00ff"/><stop offset="0.5000" stop-color="#8400ff"/><stop offset="0.7500" stop-color="#a100ff"/><stop offset="1.0000" stop-color="#b900ff"/></linearGradient><linearGradient id="g91" gradientUnits="userSpaceOnUse" x1="312" x2="324" y1="0" y2="0"><stop offset="0.0000" stop-color="#6400ff"/><stop offset="0.3333" stop-color="#8900ff"/><stop offset="0.6667" stop-color="#a500ff"/><stop offset="1.0000" stop-color="#bc00ff"/></linearGradient></defs>
<rect width="448" height="252" fill="#fff"/>
<rect x="34.5" y="1.5" width="378" height="116" fill="#e2efd9" stroke="#5b7c99" stroke-width="1"/>
<rect x="35" y="117.6" width="378.5" height="1.2" fill="#9fb4bf"/>
<polygon points="59.5,43 154,43 130.5,117 36.5,117" fill="#000"/>
<g clip-path="url(#pc)">
<polygon points="73,37 133.5,71 76.5,106" fill="#b00000" stroke="#b00000" stroke-width="16" stroke-linejoin="round" filter="url(#b5)" opacity="0.3"/>
<polygon points="66,26 75,17 114,48 54,48" fill="#cc0000" filter="url(#b3)" opacity="0.55"/>
<polygon points="73,37 133.5,71 76.5,106" fill="#780000" stroke="#780000" stroke-width="15.0" stroke-linejoin="round" filter="url(#b3)" opacity="1"/>
<polygon points="73,37 133.5,71 76.5,106" fill="#840000" stroke="#840000" stroke-width="9.0" stroke-linejoin="round" filter="url(#b1)" opacity="1"/>
<polygon points="73,37 133.5,71 76.5,106" fill="#920000" filter="url(#b03)"/>
</g>
<path d="M14.63,0.00 L14.69,0.26 L14.74,0.51 L14.78,0.77 L14.80,1.03 L14.81,1.30 L14.80,1.56 L14.78,1.82 L14.75,2.07 L14.71,2.33 L14.66,2.58 L14.59,2.84 L14.51,3.08 L14.42,3.33 L14.31,3.57 L14.20,3.80 L14.07,4.03 L13.93,4.26 L13.78,4.48 L13.61,4.69 L13.44,4.89 L13.25,5.09 L13.06,5.28 L12.85,5.45 L12.63,5.62 L12.40,5.78 L12.16,5.93 L11.90,6.07 L11.64,6.19 L11.37,6.30 L11.08,6.40 L10.79,6.48 L10.48,6.55 L10.16,6.60 L9.83,6.63 L9.48,6.64 L9.12,6.63 L8.74,6.58 L8.33,6.51 L8.49,6.87 L8.62,7.24 L8.73,7.59 L8.80,7.93 L8.85,8.26 L8.88,8.58 L8.89,8.89 L8.88,9.20 L8.86,9.50 L8.82,9.79 L8.76,10.08 L8.69,10.36 L8.60,10.63 L8.51,10.89 L8.40,11.14 L8.27,11.39 L8.14,11.63 L8.00,11.85 L7.84,12.07 L7.68,12.28 L7.50,12.48 L7.32,12.67 L7.12,12.85 L6.92,13.02 L6.72,13.18 L6.50,13.33 L6.28,13.47 L6.05,13.60 L5.82,13.71 L5.58,13.82 L5.34,13.91 L5.09,13.99 L4.84,14.05 L4.58,14.11 L4.33,14.15 L4.07,14.18 L3.80,14.20 L3.54,14.20 L3.28,14.19 L3.01,14.17 L2.75,14.13 L2.48,14.08 L2.22,14.02 L1.96,13.94 L1.70,13.85 L1.44,13.75 L1.19,13.63 L0.94,13.49 L0.70,13.34 L0.46,13.18 L0.23,13.00 L0.00,12.80 L-0.22,12.58 L-0.43,12.35 L-0.63,12.10 L-0.83,11.83 L-1.01,11.53 L-1.18,11.21 L-1.33,10.86 L-1.47,10.47 L-1.71,10.79 L-1.95,11.09 L-2.21,11.35 L-2.46,11.59 L-2.72,11.80 L-2.99,11.98 L-3.26,12.15 L-3.53,12.29 L-3.80,12.42 L-4.07,12.53 L-4.35,12.63 L-4.62,12.70 L-4.90,12.76 L-5.18,12.81 L-5.45,12.84 L-5.73,12.86 L-6.00,12.86 L-6.27,12.85 L-6.54,12.83 L-6.80,12.79 L-7.06,12.74 L-7.32,12.67 L-7.57,12.60 L-7.82,12.51 L-8.06,12.41 L-8.29,12.30 L-8.52,12.17 L-8.75,12.04 L-8.96,11.90 L-9.17,11.74 L-9.37,11.58 L-9.57,11.40 L-9.75,11.22 L-9.93,11.02 L-10.09,10.82 L-10.25,10.61 L-10.39,10.39 L-10.53,10.17 L-10.65,9.93 L-10.77,9.69 L-10.87,9.45 L-10.96,9.19 L-11.03,8.93 L-11.10,8.67 L-11.15,8.40 L-11.18,8.13 L-11.21,7.85 L-11.21,7.56 L-11.21,7.28 L-11.18,6.99 L-11.14,6.69 L-11.08,6.40 L-11.01,6.10 L-10.91,5.80 L-10.80,5.50 L-10.66,5.20 L-10.49,4.89 L-10.30,4.58 L-10.07,4.27 L-9.80,3.96 L-10.20,3.91 L-10.58,3.85 L-10.93,3.76 L-11.26,3.66 L-11.58,3.54 L-11.87,3.40 L-12.15,3.26 L-12.41,3.09 L-12.66,2.92 L-12.89,2.74 L-13.11,2.55 L-13.31,2.35 L-13.50,2.14 L-13.68,1.92 L-13.85,1.70 L-14.00,1.47 L-14.14,1.24 L-14.26,1.00 L-14.38,0.75 L-14.47,0.51 L-14.56,0.25 L-14.63,0.00 L-14.69,-0.26 L-14.74,-0.51 L-14.78,-0.77 L-14.80,-1.03 L-14.81,-1.30 L-14.80,-1.56 L-14.78,-1.82 L-14.75,-2.07 L-14.71,-2.33 L-14.66,-2.58 L-14.59,-2.84 L-14.51,-3.08 L-14.42,-3.33 L-14.31,-3.57 L-14.20,-3.80 L-14.07,-4.03 L-13.93,-4.26 L-13.78,-4.48 L-13.61,-4.69 L-13.44,-4.89 L-13.25,-5.09 L-13.06,-5.28 L-12.85,-5.45 L-12.63,-5.62 L-12.40,-5.78 L-12.16,-5.93 L-11.90,-6.07 L-11.64,-6.19 L-11.37,-6.30 L-11.08,-6.40 L-10.79,-6.48 L-10.48,-6.55 L-10.16,-6.60 L-9.83,-6.63 L-9.48,-6.64 L-9.12,-6.63 L-8.74,-6.58 L-8.33,-6.51 L-8.49,-6.87 L-8.62,-7.24 L-8.73,-7.59 L-8.80,-7.93 L-8.85,-8.26 L-8.88,-8.58 L-8.89,-8.89 L-8.88,-9.20 L-8.86,-9.50 L-8.82,-9.79 L-8.76,-10.08 L-8.69,-10.36 L-8.60,-10.63 L-8.51,-10.89 L-8.40,-11.14 L-8.27,-11.39 L-8.14,-11.63 L-8.00,-11.85 L-7.84,-12.07 L-7.68,-12.28 L-7.50,-12.48 L-7.32,-12.67 L-7.12,-12.85 L-6.92,-13.02 L-6.72,-13.18 L-6.50,-13.33 L-6.28,-13.47 L-6.05,-13.60 L-5.82,-13.71 L-5.58,-13.82 L-5.34,-13.91 L-5.09,-13.99 L-4.84,-14.05 L-4.58,-14.11 L-4.33,-14.15 L-4.07,-14.18 L-3.80,-14.20 L-3.54,-14.20 L-3.28,-14.19 L-3.01,-14.17 L-2.75,-14.13 L-2.48,-14.08 L-2.22,-14.02 L-1.96,-13.94 L-1.70,-13.85 L-1.44,-13.75 L-1.19,-13.63 L-0.94,-13.49 L-0.70,-13.34 L-0.46,-13.18 L-0.23,-13.00 L-0.00,-12.80 L0.22,-12.58 L0.43,-12.35 L0.63,-12.10 L0.83,-11.83 L1.01,-11.53 L1.18,-11.21 L1.33,-10.86 L1.47,-10.47 L1.71,-10.79 L1.95,-11.09 L2.21,-11.35 L2.46,-11.59 L2.72,-11.80 L2.99,-11.98 L3.26,-12.15 L3.53,-12.29 L3.80,-12.42 L4.07,-12.53 L4.35,-12.63 L4.62,-12.70 L4.90,-12.76 L5.18,-12.81 L5.45,-12.84 L5.73,-12.86 L6.00,-12.86 L6.27,-12.85 L6.54,-12.83 L6.80,-12.79 L7.06,-12.74 L7.32,-12.67 L7.57,-12.60 L7.82,-12.51 L8.06,-12.41 L8.29,-12.30 L8.52,-12.17 L8.75,-12.04 L8.96,-11.90 L9.17,-11.74 L9.37,-11.58 L9.57,-11.40 L9.75,-11.22 L9.93,-11.02 L10.09,-10.82 L10.25,-10.61 L10.39,-10.39 L10.53,-10.17 L10.65,-9.93 L10.77,-9.69 L10.87,-9.45 L10.96,-9.19 L11.03,-8.93 L11.10,-8.67 L11.15,-8.40 L11.18,-8.13 L11.21,-7.85 L11.21,-7.56 L11.21,-7.28 L11.18,-6.99 L11.14,-6.69 L11.08,-6.40 L11.01,-6.10 L10.91,-5.80 L10.80,-5.50 L10.66,-5.20 L10.49,-4.89 L10.30,-4.58 L10.07,-4.27 L9.80,-3.96 L10.20,-3.91 L10.58,-3.85 L10.93,-3.76 L11.26,-3.66 L11.58,-3.54 L11.87,-3.40 L12.15,-3.26 L12.41,-3.09 L12.66,-2.92 L12.89,-2.74 L13.11,-2.55 L13.31,-2.35 L13.50,-2.14 L13.68,-1.92 L13.85,-1.70 L14.00,-1.47 L14.14,-1.24 L14.26,-1.00 L14.38,-0.75 L14.47,-0.51 L14.56,-0.25Z" transform="translate(92.9,73.1) skewX(-8)" fill="none" stroke="#c45c5c" stroke-width="1.1" stroke-dasharray="3.6 2.4"/>
<g transform="translate(63,20.2) rotate(-32)"><rect x="-6.8" y="-14" width="13.6" height="28" rx="2.6" fill="#595959" stroke="#454545" stroke-width="0.6"/><ellipse cx="0" cy="12.4" rx="6.2" ry="2.5" fill="#ababab" stroke="#6a6a6a" stroke-width="0.4"/></g>
<polygon points="69.5,33 72.8,30.8 77,36.2 79.6,34.4 78.6,43.4 70.6,40.6 73.4,38.8" fill="#c00000"/>
<text x="80.8" y="22" font-size="11.4" font-weight="700">980 nm  pulse laser</text>
<polygon points="147,73.2 181.2,73.2 181.2,68.6 190.2,78 181.2,87.4 181.2,82.8 147,82.8" fill="#5b9bd5" stroke="#41719c" stroke-width="0.7"/>
<rect x="201" y="46" width="209" height="68" fill="#000"/>
<path d="M19.16,0.00 L19.18,0.33 L19.18,0.67 L19.17,1.00 L19.15,1.34 L19.10,1.67 L19.04,2.00 L18.97,2.33 L18.88,2.65 L18.77,2.97 L18.65,3.29 L18.51,3.60 L18.35,3.90 L18.18,4.20 L18.00,4.49 L17.79,4.77 L17.58,5.04 L17.35,5.30 L17.10,5.56 L16.84,5.80 L16.56,6.03 L16.27,6.25 L15.97,6.45 L15.65,6.64 L15.31,6.82 L14.96,6.98 L14.59,7.12 L14.21,7.24 L13.81,7.34 L13.39,7.42 L12.96,7.48 L12.50,7.51 L12.02,7.51 L11.61,7.54 L11.84,7.99 L12.03,8.43 L12.18,8.85 L12.30,9.27 L12.39,9.68 L12.46,10.09 L12.49,10.48 L12.51,10.87 L12.50,11.26 L12.48,11.63 L12.43,12.00 L12.36,12.36 L12.28,12.72 L12.18,13.06 L12.06,13.39 L11.93,13.72 L11.78,14.04 L11.62,14.34 L11.44,14.64 L11.25,14.93 L11.04,15.20 L10.83,15.46 L10.60,15.71 L10.36,15.95 L10.11,16.18 L9.85,16.39 L9.58,16.59 L9.30,16.78 L9.01,16.95 L8.72,17.11 L8.41,17.25 L8.10,17.38 L7.79,17.49 L7.47,17.59 L7.14,17.67 L6.81,17.74 L6.48,17.79 L6.14,17.83 L5.80,17.84 L5.46,17.84 L5.11,17.83 L4.77,17.79 L4.42,17.74 L4.08,17.67 L3.74,17.59 L3.40,17.48 L3.06,17.36 L2.73,17.21 L2.40,17.05 L2.07,16.87 L1.75,16.67 L1.44,16.44 L1.13,16.20 L0.83,15.93 L0.55,15.63 L0.27,15.31 L0.00,14.96 L-0.25,14.58 L-0.49,14.16 L-0.72,13.83 L-1.00,14.25 L-1.28,14.63 L-1.57,14.98 L-1.88,15.29 L-2.19,15.57 L-2.51,15.83 L-2.83,16.06 L-3.16,16.27 L-3.50,16.46 L-3.84,16.62 L-4.18,16.76 L-4.53,16.89 L-4.87,16.99 L-5.22,17.08 L-5.57,17.14 L-5.92,17.19 L-6.27,17.22 L-6.61,17.23 L-6.96,17.23 L-7.30,17.20 L-7.64,17.16 L-7.98,17.11 L-8.31,17.04 L-8.63,16.95 L-8.96,16.84 L-9.27,16.72 L-9.58,16.59 L-9.88,16.44 L-10.17,16.28 L-10.46,16.10 L-10.73,15.91 L-11.00,15.71 L-11.26,15.49 L-11.50,15.26 L-11.74,15.02 L-11.96,14.77 L-12.17,14.50 L-12.37,14.23 L-12.55,13.94 L-12.73,13.65 L-12.88,13.34 L-13.03,13.03 L-13.15,12.70 L-13.27,12.37 L-13.36,12.03 L-13.44,11.68 L-13.50,11.33 L-13.55,10.97 L-13.57,10.60 L-13.57,10.23 L-13.56,9.85 L-13.52,9.47 L-13.46,9.08 L-13.38,8.69 L-13.27,8.29 L-13.13,7.89 L-12.96,7.48 L-12.76,7.07 L-12.51,6.65 L-12.34,6.29 L-12.84,6.26 L-13.31,6.21 L-13.76,6.13 L-14.18,6.02 L-14.58,5.89 L-14.96,5.74 L-15.33,5.58 L-15.67,5.40 L-16.00,5.20 L-16.31,4.99 L-16.61,4.76 L-16.89,4.53 L-17.15,4.28 L-17.40,4.02 L-17.63,3.75 L-17.85,3.47 L-18.05,3.18 L-18.23,2.89 L-18.40,2.59 L-18.55,2.28 L-18.68,1.96 L-18.80,1.65 L-18.91,1.32 L-18.99,1.00 L-19.06,0.67 L-19.12,0.33 L-19.16,0.00 L-19.18,-0.33 L-19.18,-0.67 L-19.17,-1.00 L-19.15,-1.34 L-19.10,-1.67 L-19.04,-2.00 L-18.97,-2.33 L-18.88,-2.65 L-18.77,-2.97 L-18.65,-3.29 L-18.51,-3.60 L-18.35,-3.90 L-18.18,-4.20 L-18.00,-4.49 L-17.79,-4.77 L-17.58,-5.04 L-17.35,-5.30 L-17.10,-5.56 L-16.84,-5.80 L-16.56,-6.03 L-16.27,-6.25 L-15.97,-6.45 L-15.65,-6.64 L-15.31,-6.82 L-14.96,-6.98 L-14.59,-7.12 L-14.21,-7.24 L-13.81,-7.34 L-13.39,-7.42 L-12.96,-7.48 L-12.50,-7.51 L-12.02,-7.51 L-11.61,-7.54 L-11.84,-7.99 L-12.03,-8.43 L-12.18,-8.85 L-12.30,-9.27 L-12.39,-9.68 L-12.46,-10.09 L-12.49,-10.48 L-12.51,-10.87 L-12.50,-11.26 L-12.48,-11.63 L-12.43,-12.00 L-12.36,-12.36 L-12.28,-12.72 L-12.18,-13.06 L-12.06,-13.39 L-11.93,-13.72 L-11.78,-14.04 L-11.62,-14.34 L-11.44,-14.64 L-11.25,-14.93 L-11.04,-15.20 L-10.83,-15.46 L-10.60,-15.71 L-10.36,-15.95 L-10.11,-16.18 L-9.85,-16.39 L-9.58,-16.59 L-9.30,-16.78 L-9.01,-16.95 L-8.72,-17.11 L-8.41,-17.25 L-8.10,-17.38 L-7.79,-17.49 L-7.47,-17.59 L-7.14,-17.67 L-6.81,-17.74 L-6.48,-17.79 L-6.14,-17.83 L-5.80,-17.84 L-5.46,-17.84 L-5.11,-17.83 L-4.77,-17.79 L-4.42,-17.74 L-4.08,-17.67 L-3.74,-17.59 L-3.40,-17.48 L-3.06,-17.36 L-2.73,-17.21 L-2.40,-17.05 L-2.07,-16.87 L-1.75,-16.67 L-1.44,-16.44 L-1.13,-16.20 L-0.83,-15.93 L-0.55,-15.63 L-0.27,-15.31 L-0.00,-14.96 L0.25,-14.58 L0.49,-14.16 L0.72,-13.83 L1.00,-14.25 L1.28,-14.63 L1.57,-14.98 L1.88,-15.29 L2.19,-15.57 L2.51,-15.83 L2.83,-16.06 L3.16,-16.27 L3.50,-16.46 L3.84,-16.62 L4.18,-16.76 L4.53,-16.89 L4.87,-16.99 L5.22,-17.08 L5.57,-17.14 L5.92,-17.19 L6.27,-17.22 L6.61,-17.23 L6.96,-17.23 L7.30,-17.20 L7.64,-17.16 L7.98,-17.11 L8.31,-17.04 L8.63,-16.95 L8.96,-16.84 L9.27,-16.72 L9.58,-16.59 L9.88,-16.44 L10.17,-16.28 L10.46,-16.10 L10.73,-15.91 L11.00,-15.71 L11.26,-15.49 L11.50,-15.26 L11.74,-15.02 L11.96,-14.77 L12.17,-14.50 L12.37,-14.23 L12.55,-13.94 L12.73,-13.65 L12.88,-13.34 L13.03,-13.03 L13.15,-12.70 L13.27,-12.37 L13.36,-12.03 L13.44,-11.68 L13.50,-11.33 L13.55,-10.97 L13.57,-10.60 L13.57,-10.23 L13.56,-9.85 L13.52,-9.47 L13.46,-9.08 L13.38,-8.69 L13.27,-8.29 L13.13,-7.89 L12.96,-7.48 L12.76,-7.07 L12.51,-6.65 L12.34,-6.29 L12.84,-6.26 L13.31,-6.21 L13.76,-6.13 L14.18,-6.02 L14.58,-5.89 L14.96,-5.74 L15.33,-5.58 L15.67,-5.40 L16.00,-5.20 L16.31,-4.99 L16.61,-4.76 L16.89,-4.53 L17.15,-4.28 L17.40,-4.02 L17.63,-3.75 L17.85,-3.47 L18.05,-3.18 L18.23,-2.89 L18.40,-2.59 L18.55,-2.28 L18.68,-1.96 L18.80,-1.65 L18.91,-1.32 L18.99,-1.00 L19.06,-0.67 L19.12,-0.33Z" transform="translate(228.9,80.2) scale(1,1.05)" fill="none" stroke="#f4f4f4" stroke-width="1.1" stroke-dasharray="3.4 2.4"/>
<g transform="translate(279.3,79.8) scale(1.0,1.1)"><path d="M19.47,0.00 L19.49,0.34 L19.49,0.68 L19.47,1.02 L19.44,1.36 L19.39,1.70 L19.33,2.03 L19.25,2.36 L19.15,2.69 L19.04,3.02 L18.91,3.33 L18.77,3.65 L18.61,3.96 L18.44,4.26 L18.25,4.55 L18.05,4.84 L17.84,5.11 L17.61,5.38 L17.36,5.64 L17.10,5.89 L16.83,6.13 L16.54,6.35 L16.24,6.56 L15.93,6.76 L15.60,6.94 L15.25,7.11 L14.90,7.27 L14.53,7.40 L14.15,7.52 L13.75,7.62 L13.33,7.70 L12.90,7.75 L12.46,7.78 L12.45,8.08 L12.60,8.50 L12.72,8.91 L12.82,9.31 L12.89,9.71 L12.94,10.11 L12.97,10.50 L12.97,10.88 L12.96,11.26 L12.92,11.64 L12.87,12.00 L12.80,12.36 L12.72,12.72 L12.61,13.06 L12.49,13.40 L12.36,13.73 L12.21,14.05 L12.05,14.36 L11.87,14.66 L11.68,14.95 L11.48,15.23 L11.26,15.50 L11.03,15.76 L10.79,16.00 L10.54,16.24 L10.28,16.46 L10.02,16.67 L9.74,16.86 L9.45,17.05 L9.15,17.22 L8.85,17.37 L8.54,17.51 L8.23,17.64 L7.90,17.75 L7.58,17.85 L7.24,17.93 L6.91,18.00 L6.57,18.05 L6.23,18.08 L5.88,18.10 L5.53,18.10 L5.19,18.08 L4.84,18.05 L4.49,18.00 L4.14,17.94 L3.80,17.86 L3.45,17.75 L3.11,17.64 L2.77,17.50 L2.44,17.35 L2.11,17.17 L1.78,16.98 L1.47,16.77 L1.16,16.54 L0.85,16.28 L0.56,16.01 L0.27,15.72 L0.00,15.40 L-0.26,15.05 L-0.51,14.68 L-0.78,14.82 L-1.06,15.16 L-1.35,15.47 L-1.66,15.76 L-1.97,16.02 L-2.29,16.26 L-2.61,16.48 L-2.94,16.68 L-3.28,16.85 L-3.62,17.01 L-3.96,17.15 L-4.31,17.27 L-4.65,17.37 L-5.01,17.45 L-5.36,17.52 L-5.71,17.57 L-6.06,17.60 L-6.41,17.61 L-6.76,17.61 L-7.11,17.59 L-7.45,17.55 L-7.79,17.50 L-8.13,17.43 L-8.46,17.35 L-8.79,17.25 L-9.11,17.14 L-9.43,17.01 L-9.74,16.86 L-10.04,16.71 L-10.33,16.54 L-10.62,16.35 L-10.90,16.15 L-11.16,15.94 L-11.42,15.72 L-11.67,15.49 L-11.91,15.24 L-12.13,14.98 L-12.34,14.71 L-12.55,14.43 L-12.73,14.14 L-12.91,13.84 L-13.07,13.53 L-13.22,13.22 L-13.35,12.89 L-13.46,12.56 L-13.57,12.21 L-13.65,11.87 L-13.72,11.51 L-13.77,11.15 L-13.80,10.78 L-13.82,10.41 L-13.81,10.04 L-13.79,9.65 L-13.74,9.27 L-13.68,8.88 L-13.59,8.49 L-13.47,8.10 L-13.33,7.70 L-13.17,7.30 L-12.97,6.90 L-13.22,6.74 L-13.66,6.66 L-14.08,6.56 L-14.48,6.45 L-14.86,6.31 L-15.23,6.15 L-15.58,5.98 L-15.91,5.79 L-16.23,5.59 L-16.54,5.37 L-16.83,5.15 L-17.11,4.91 L-17.37,4.65 L-17.62,4.39 L-17.85,4.12 L-18.07,3.84 L-18.27,3.55 L-18.46,3.25 L-18.63,2.95 L-18.79,2.64 L-18.93,2.32 L-19.05,2.00 L-19.16,1.68 L-19.26,1.35 L-19.33,1.01 L-19.40,0.68 L-19.44,0.34 L-19.47,0.00 L-19.49,-0.34 L-19.49,-0.68 L-19.47,-1.02 L-19.44,-1.36 L-19.39,-1.70 L-19.33,-2.03 L-19.25,-2.36 L-19.15,-2.69 L-19.04,-3.02 L-18.91,-3.33 L-18.77,-3.65 L-18.61,-3.96 L-18.44,-4.26 L-18.25,-4.55 L-18.05,-4.84 L-17.84,-5.11 L-17.61,-5.38 L-17.36,-5.64 L-17.10,-5.89 L-16.83,-6.13 L-16.54,-6.35 L-16.24,-6.56 L-15.93,-6.76 L-15.60,-6.94 L-15.25,-7.11 L-14.90,-7.27 L-14.53,-7.40 L-14.15,-7.52 L-13.75,-7.62 L-13.33,-7.70 L-12.90,-7.75 L-12.46,-7.78 L-12.45,-8.08 L-12.60,-8.50 L-12.72,-8.91 L-12.82,-9.31 L-12.89,-9.71 L-12.94,-10.11 L-12.97,-10.50 L-12.97,-10.88 L-12.96,-11.26 L-12.92,-11.64 L-12.87,-12.00 L-12.80,-12.36 L-12.72,-12.72 L-12.61,-13.06 L-12.49,-13.40 L-12.36,-13.73 L-12.21,-14.05 L-12.05,-14.36 L-11.87,-14.66 L-11.68,-14.95 L-11.48,-15.23 L-11.26,-15.50 L-11.03,-15.76 L-10.79,-16.00 L-10.54,-16.24 L-10.28,-16.46 L-10.02,-16.67 L-9.74,-16.86 L-9.45,-17.05 L-9.15,-17.22 L-8.85,-17.37 L-8.54,-17.51 L-8.23,-17.64 L-7.90,-17.75 L-7.58,-17.85 L-7.24,-17.93 L-6.91,-18.00 L-6.57,-18.05 L-6.23,-18.08 L-5.88,-18.10 L-5.53,-18.10 L-5.19,-18.08 L-4.84,-18.05 L-4.49,-18.00 L-4.14,-17.94 L-3.80,-17.86 L-3.45,-17.75 L-3.11,-17.64 L-2.77,-17.50 L-2.44,-17.35 L-2.11,-17.17 L-1.78,-16.98 L-1.47,-16.77 L-1.16,-16.54 L-0.85,-16.28 L-0.56,-16.01 L-0.27,-15.72 L-0.00,-15.40 L0.26,-15.05 L0.51,-14.68 L0.78,-14.82 L1.06,-15.16 L1.35,-15.47 L1.66,-15.76 L1.97,-16.02 L2.29,-16.26 L2.61,-16.48 L2.94,-16.68 L3.28,-16.85 L3.62,-17.01 L3.96,-17.15 L4.31,-17.27 L4.65,-17.37 L5.01,-17.45 L5.36,-17.52 L5.71,-17.57 L6.06,-17.60 L6.41,-17.61 L6.76,-17.61 L7.11,-17.59 L7.45,-17.55 L7.79,-17.50 L8.13,-17.43 L8.46,-17.35 L8.79,-17.25 L9.11,-17.14 L9.43,-17.01 L9.74,-16.86 L10.04,-16.71 L10.33,-16.54 L10.62,-16.35 L10.90,-16.15 L11.16,-15.94 L11.42,-15.72 L11.67,-15.49 L11.91,-15.24 L12.13,-14.98 L12.34,-14.71 L12.55,-14.43 L12.73,-14.14 L12.91,-13.84 L13.07,-13.53 L13.22,-13.22 L13.35,-12.89 L13.46,-12.56 L13.57,-12.21 L13.65,-11.87 L13.72,-11.51 L13.77,-11.15 L13.80,-10.78 L13.82,-10.41 L13.81,-10.04 L13.79,-9.65 L13.74,-9.27 L13.68,-8.88 L13.59,-8.49 L13.47,-8.10 L13.33,-7.70 L13.17,-7.30 L12.97,-6.90 L13.22,-6.74 L13.66,-6.66 L14.08,-6.56 L14.48,-6.45 L14.86,-6.31 L15.23,-6.15 L15.58,-5.98 L15.91,-5.79 L16.23,-5.59 L16.54,-5.37 L16.83,-5.15 L17.11,-4.91 L17.37,-4.65 L17.62,-4.39 L17.85,-4.12 L18.07,-3.84 L18.27,-3.55 L18.46,-3.25 L18.63,-2.95 L18.79,-2.64 L18.93,-2.32 L19.05,-2.00 L19.16,-1.68 L19.26,-1.35 L19.33,-1.01 L19.40,-0.68 L19.44,-0.34Z" fill="#185a0a" filter="url(#b2)" opacity="0.85"/><g filter="url(#b1)"><circle cx="0" cy="0" r="13" fill="#38961a"/><circle cx="12.2" cy="0.5" r="6.8" fill="#38961a"/><circle cx="5.7" cy="10.8" r="6.8" fill="#38961a"/><circle cx="-6.5" cy="10.3" r="6.8" fill="#38961a"/><circle cx="-12.2" cy="-0.5" r="6.8" fill="#38961a"/><circle cx="-5.7" cy="-10.8" r="6.8" fill="#38961a"/><circle cx="6.5" cy="-10.3" r="6.8" fill="#38961a"/></g><line x1="11.8" y1="7.5" x2="16.1" y2="10.2" stroke="#000" stroke-width="1.3" opacity="0.3" filter="url(#b1)"/><line x1="-0.6" y1="14.0" x2="-0.8" y2="19.0" stroke="#000" stroke-width="1.3" opacity="0.3" filter="url(#b1)"/><line x1="-12.4" y1="6.5" x2="-16.8" y2="8.8" stroke="#000" stroke-width="1.3" opacity="0.3" filter="url(#b1)"/><line x1="-11.8" y1="-7.5" x2="-16.1" y2="-10.2" stroke="#000" stroke-width="1.3" opacity="0.3" filter="url(#b1)"/><line x1="0.6" y1="-14.0" x2="0.8" y2="-19.0" stroke="#000" stroke-width="1.3" opacity="0.3" filter="url(#b1)"/><line x1="12.4" y1="-6.5" x2="16.8" y2="-8.8" stroke="#000" stroke-width="1.3" opacity="0.3" filter="url(#b1)"/><circle cx="8.4" cy="9.5" r="3.0" fill="#80dc3a" opacity="0.38" filter="url(#b1)"/><circle cx="-6.7" cy="0.2" r="2.8" fill="#80dc3a" opacity="0.54" filter="url(#b1)"/><circle cx="0.4" cy="0.2" r="3.1" fill="#80dc3a" opacity="0.43" filter="url(#b1)"/><circle cx="0.0" cy="-0.0" r="2.4" fill="#80dc3a" opacity="0.52" filter="url(#b1)"/><circle cx="1.9" cy="14.1" r="3.2" fill="#80dc3a" opacity="0.31" filter="url(#b1)"/><circle cx="8.0" cy="1.3" r="3.3" fill="#80dc3a" opacity="0.41" filter="url(#b1)"/><circle cx="1.3" cy="6.2" r="1.7" fill="#80dc3a" opacity="0.37" filter="url(#b1)"/><circle cx="-6.9" cy="2.8" r="2.0" fill="#80dc3a" opacity="0.37" filter="url(#b1)"/><circle cx="1.3" cy="6.8" r="2.1" fill="#80dc3a" opacity="0.31" filter="url(#b1)"/><circle cx="4.4" cy="-7.1" r="2.8" fill="#80dc3a" opacity="0.36" filter="url(#b1)"/><circle cx="12.9" cy="-0.6" r="1.8" fill="#80dc3a" opacity="0.40" filter="url(#b1)"/><circle cx="-1.9" cy="-10.5" r="3.3" fill="#80dc3a" opacity="0.43" filter="url(#b1)"/><circle cx="4.8" cy="-8.8" r="2.1" fill="#80dc3a" opacity="0.48" filter="url(#b1)"/><circle cx="9.4" cy="-8.5" r="2.5" fill="#80dc3a" opacity="0.48" filter="url(#b1)"/><circle cx="3.6" cy="0.8" r="3.0" fill="#80dc3a" opacity="0.42" filter="url(#b1)"/><circle cx="3.8" cy="7.3" r="2.9" fill="#80dc3a" opacity="0.50" filter="url(#b1)"/><circle cx="-4.6" cy="4.7" r="2.5" fill="#80dc3a" opacity="0.53" filter="url(#b1)"/><circle cx="-5.8" cy="-0.8" r="2.5" fill="#80dc3a" opacity="0.31" filter="url(#b1)"/><circle cx="10.2" cy="2.8" r="3.4" fill="#80dc3a" opacity="0.48" filter="url(#b1)"/><circle cx="-2.0" cy="1.6" r="2.5" fill="#80dc3a" opacity="0.59" filter="url(#b1)"/><circle cx="1.0" cy="-7.5" r="2.6" fill="#185a0a" opacity="0.36" filter="url(#b1)"/><circle cx="-13.3" cy="-1.2" r="2.2" fill="#185a0a" opacity="0.41" filter="url(#b1)"/><circle cx="-0.9" cy="7.6" r="2.7" fill="#185a0a" opacity="0.30" filter="url(#b1)"/><circle cx="2.4" cy="-11.2" r="2.6" fill="#185a0a" opacity="0.49" filter="url(#b1)"/><circle cx="2.6" cy="-6.8" r="2.2" fill="#185a0a" opacity="0.41" filter="url(#b1)"/><circle cx="11.4" cy="4.2" r="2.2" fill="#185a0a" opacity="0.35" filter="url(#b1)"/><circle cx="-6.8" cy="-0.2" r="1.9" fill="#185a0a" opacity="0.39" filter="url(#b1)"/><circle cx="-8.5" cy="-2.1" r="2.3" fill="#185a0a" opacity="0.41" filter="url(#b1)"/><circle cx="3.2" cy="0.6" r="1.6" fill="#185a0a" opacity="0.45" filter="url(#b1)"/><circle cx="7.2" cy="-8.6" r="2.5" fill="#185a0a" opacity="0.50" filter="url(#b1)"/><circle cx="-0.4" cy="11.8" r="2.3" fill="#185a0a" opacity="0.32" filter="url(#b1)"/><circle cx="0.2" cy="0.0" r="2.5" fill="#185a0a" opacity="0.36" filter="url(#b1)"/></g>
<g transform="translate(329.7,79.8) scale(1.0,1.1)"><path d="M19.47,0.00 L19.49,0.34 L19.49,0.68 L19.47,1.02 L19.44,1.36 L19.39,1.70 L19.33,2.03 L19.25,2.36 L19.15,2.69 L19.04,3.02 L18.91,3.33 L18.77,3.65 L18.61,3.96 L18.44,4.26 L18.25,4.55 L18.05,4.84 L17.84,5.11 L17.61,5.38 L17.36,5.64 L17.10,5.89 L16.83,6.13 L16.54,6.35 L16.24,6.56 L15.93,6.76 L15.60,6.94 L15.25,7.11 L14.90,7.27 L14.53,7.40 L14.15,7.52 L13.75,7.62 L13.33,7.70 L12.90,7.75 L12.46,7.78 L12.45,8.08 L12.60,8.50 L12.72,8.91 L12.82,9.31 L12.89,9.71 L12.94,10.11 L12.97,10.50 L12.97,10.88 L12.96,11.26 L12.92,11.64 L12.87,12.00 L12.80,12.36 L12.72,12.72 L12.61,13.06 L12.49,13.40 L12.36,13.73 L12.21,14.05 L12.05,14.36 L11.87,14.66 L11.68,14.95 L11.48,15.23 L11.26,15.50 L11.03,15.76 L10.79,16.00 L10.54,16.24 L10.28,16.46 L10.02,16.67 L9.74,16.86 L9.45,17.05 L9.15,17.22 L8.85,17.37 L8.54,17.51 L8.23,17.64 L7.90,17.75 L7.58,17.85 L7.24,17.93 L6.91,18.00 L6.57,18.05 L6.23,18.08 L5.88,18.10 L5.53,18.10 L5.19,18.08 L4.84,18.05 L4.49,18.00 L4.14,17.94 L3.80,17.86 L3.45,17.75 L3.11,17.64 L2.77,17.50 L2.44,17.35 L2.11,17.17 L1.78,16.98 L1.47,16.77 L1.16,16.54 L0.85,16.28 L0.56,16.01 L0.27,15.72 L0.00,15.40 L-0.26,15.05 L-0.51,14.68 L-0.78,14.82 L-1.06,15.16 L-1.35,15.47 L-1.66,15.76 L-1.97,16.02 L-2.29,16.26 L-2.61,16.48 L-2.94,16.68 L-3.28,16.85 L-3.62,17.01 L-3.96,17.15 L-4.31,17.27 L-4.65,17.37 L-5.01,17.45 L-5.36,17.52 L-5.71,17.57 L-6.06,17.60 L-6.41,17.61 L-6.76,17.61 L-7.11,17.59 L-7.45,17.55 L-7.79,17.50 L-8.13,17.43 L-8.46,17.35 L-8.79,17.25 L-9.11,17.14 L-9.43,17.01 L-9.74,16.86 L-10.04,16.71 L-10.33,16.54 L-10.62,16.35 L-10.90,16.15 L-11.16,15.94 L-11.42,15.72 L-11.67,15.49 L-11.91,15.24 L-12.13,14.98 L-12.34,14.71 L-12.55,14.43 L-12.73,14.14 L-12.91,13.84 L-13.07,13.53 L-13.22,13.22 L-13.35,12.89 L-13.46,12.56 L-13.57,12.21 L-13.65,11.87 L-13.72,11.51 L-13.77,11.15 L-13.80,10.78 L-13.82,10.41 L-13.81,10.04 L-13.79,9.65 L-13.74,9.27 L-13.68,8.88 L-13.59,8.49 L-13.47,8.10 L-13.33,7.70 L-13.17,7.30 L-12.97,6.90 L-13.22,6.74 L-13.66,6.66 L-14.08,6.56 L-14.48,6.45 L-14.86,6.31 L-15.23,6.15 L-15.58,5.98 L-15.91,5.79 L-16.23,5.59 L-16.54,5.37 L-16.83,5.15 L-17.11,4.91 L-17.37,4.65 L-17.62,4.39 L-17.85,4.12 L-18.07,3.84 L-18.27,3.55 L-18.46,3.25 L-18.63,2.95 L-18.79,2.64 L-18.93,2.32 L-19.05,2.00 L-19.16,1.68 L-19.26,1.35 L-19.33,1.01 L-19.40,0.68 L-19.44,0.34 L-19.47,0.00 L-19.49,-0.34 L-19.49,-0.68 L-19.47,-1.02 L-19.44,-1.36 L-19.39,-1.70 L-19.33,-2.03 L-19.25,-2.36 L-19.15,-2.69 L-19.04,-3.02 L-18.91,-3.33 L-18.77,-3.65 L-18.61,-3.96 L-18.44,-4.26 L-18.25,-4.55 L-18.05,-4.84 L-17.84,-5.11 L-17.61,-5.38 L-17.36,-5.64 L-17.10,-5.89 L-16.83,-6.13 L-16.54,-6.35 L-16.24,-6.56 L-15.93,-6.76 L-15.60,-6.94 L-15.25,-7.11 L-14.90,-7.27 L-14.53,-7.40 L-14.15,-7.52 L-13.75,-7.62 L-13.33,-7.70 L-12.90,-7.75 L-12.46,-7.78 L-12.45,-8.08 L-12.60,-8.50 L-12.72,-8.91 L-12.82,-9.31 L-12.89,-9.71 L-12.94,-10.11 L-12.97,-10.50 L-12.97,-10.88 L-12.96,-11.26 L-12.92,-11.64 L-12.87,-12.00 L-12.80,-12.36 L-12.72,-12.72 L-12.61,-13.06 L-12.49,-13.40 L-12.36,-13.73 L-12.21,-14.05 L-12.05,-14.36 L-11.87,-14.66 L-11.68,-14.95 L-11.48,-15.23 L-11.26,-15.50 L-11.03,-15.76 L-10.79,-16.00 L-10.54,-16.24 L-10.28,-16.46 L-10.02,-16.67 L-9.74,-16.86 L-9.45,-17.05 L-9.15,-17.22 L-8.85,-17.37 L-8.54,-17.51 L-8.23,-17.64 L-7.90,-17.75 L-7.58,-17.85 L-7.24,-17.93 L-6.91,-18.00 L-6.57,-18.05 L-6.23,-18.08 L-5.88,-18.10 L-5.53,-18.10 L-5.19,-18.08 L-4.84,-18.05 L-4.49,-18.00 L-4.14,-17.94 L-3.80,-17.86 L-3.45,-17.75 L-3.11,-17.64 L-2.77,-17.50 L-2.44,-17.35 L-2.11,-17.17 L-1.78,-16.98 L-1.47,-16.77 L-1.16,-16.54 L-0.85,-16.28 L-0.56,-16.01 L-0.27,-15.72 L-0.00,-15.40 L0.26,-15.05 L0.51,-14.68 L0.78,-14.82 L1.06,-15.16 L1.35,-15.47 L1.66,-15.76 L1.97,-16.02 L2.29,-16.26 L2.61,-16.48 L2.94,-16.68 L3.28,-16.85 L3.62,-17.01 L3.96,-17.15 L4.31,-17.27 L4.65,-17.37 L5.01,-17.45 L5.36,-17.52 L5.71,-17.57 L6.06,-17.60 L6.41,-17.61 L6.76,-17.61 L7.11,-17.59 L7.45,-17.55 L7.79,-17.50 L8.13,-17.43 L8.46,-17.35 L8.79,-17.25 L9.11,-17.14 L9.43,-17.01 L9.74,-16.86 L10.04,-16.71 L10.33,-16.54 L10.62,-16.35 L10.90,-16.15 L11.16,-15.94 L11.42,-15.72 L11.67,-15.49 L11.91,-15.24 L12.13,-14.98 L12.34,-14.71 L12.55,-14.43 L12.73,-14.14 L12.91,-13.84 L13.07,-13.53 L13.22,-13.22 L13.35,-12.89 L13.46,-12.56 L13.57,-12.21 L13.65,-11.87 L13.72,-11.51 L13.77,-11.15 L13.80,-10.78 L13.82,-10.41 L13.81,-10.04 L13.79,-9.65 L13.74,-9.27 L13.68,-8.88 L13.59,-8.49 L13.47,-8.10 L13.33,-7.70 L13.17,-7.30 L12.97,-6.90 L13.22,-6.74 L13.66,-6.66 L14.08,-6.56 L14.48,-6.45 L14.86,-6.31 L15.23,-6.15 L15.58,-5.98 L15.91,-5.79 L16.23,-5.59 L16.54,-5.37 L16.83,-5.15 L17.11,-4.91 L17.37,-4.65 L17.62,-4.39 L17.85,-4.12 L18.07,-3.84 L18.27,-3.55 L18.46,-3.25 L18.63,-2.95 L18.79,-2.64 L18.93,-2.32 L19.05,-2.00 L19.16,-1.68 L19.26,-1.35 L19.33,-1.01 L19.40,-0.68 L19.44,-0.34Z" fill="#6e6a04" filter="url(#b2)" opacity="0.85"/><g filter="url(#b1)"><circle cx="0" cy="0" r="13" fill="#b8b20c"/><circle cx="12.2" cy="0.5" r="6.8" fill="#b8b20c"/><circle cx="5.7" cy="10.8" r="6.8" fill="#b8b20c"/><circle cx="-6.5" cy="10.3" r="6.8" fill="#b8b20c"/><circle cx="-12.2" cy="-0.5" r="6.8" fill="#b8b20c"/><circle cx="-5.7" cy="-10.8" r="6.8" fill="#b8b20c"/><circle cx="6.5" cy="-10.3" r="6.8" fill="#b8b20c"/></g><line x1="11.8" y1="7.5" x2="16.1" y2="10.2" stroke="#000" stroke-width="1.3" opacity="0.3" filter="url(#b1)"/><line x1="-0.6" y1="14.0" x2="-0.8" y2="19.0" stroke="#000" stroke-width="1.3" opacity="0.3" filter="url(#b1)"/><line x1="-12.4" y1="6.5" x2="-16.8" y2="8.8" stroke="#000" stroke-width="1.3" opacity="0.3" filter="url(#b1)"/><line x1="-11.8" y1="-7.5" x2="-16.1" y2="-10.2" stroke="#000" stroke-width="1.3" opacity="0.3" filter="url(#b1)"/><line x1="0.6" y1="-14.0" x2="0.8" y2="-19.0" stroke="#000" stroke-width="1.3" opacity="0.3" filter="url(#b1)"/><line x1="12.4" y1="-6.5" x2="16.8" y2="-8.8" stroke="#000" stroke-width="1.3" opacity="0.3" filter="url(#b1)"/><circle cx="13.7" cy="-3.9" r="1.7" fill="#eee632" opacity="0.33" filter="url(#b1)"/><circle cx="5.6" cy="-9.5" r="2.8" fill="#eee632" opacity="0.39" filter="url(#b1)"/><circle cx="-7.2" cy="-5.6" r="2.6" fill="#eee632" opacity="0.35" filter="url(#b1)"/><circle cx="-5.4" cy="2.5" r="2.9" fill="#eee632" opacity="0.60" filter="url(#b1)"/><circle cx="7.8" cy="-2.6" r="2.4" fill="#eee632" opacity="0.38" filter="url(#b1)"/><circle cx="0.4" cy="0.1" r="2.4" fill="#eee632" opacity="0.40" filter="url(#b1)"/><circle cx="-9.8" cy="9.2" r="2.5" fill="#eee632" opacity="0.47" filter="url(#b1)"/><circle cx="0.0" cy="0.4" r="2.2" fill="#eee632" opacity="0.34" filter="url(#b1)"/><circle cx="-14.9" cy="-1.0" r="2.8" fill="#eee632" opacity="0.35" filter="url(#b1)"/><circle cx="9.4" cy="-7.4" r="2.9" fill="#eee632" opacity="0.57" filter="url(#b1)"/><circle cx="1.0" cy="-11.8" r="2.2" fill="#eee632" opacity="0.59" filter="url(#b1)"/><circle cx="2.3" cy="-0.6" r="3.0" fill="#eee632" opacity="0.51" filter="url(#b1)"/><circle cx="-7.7" cy="1.9" r="2.5" fill="#eee632" opacity="0.58" filter="url(#b1)"/><circle cx="-12.5" cy="-0.1" r="2.2" fill="#eee632" opacity="0.56" filter="url(#b1)"/><circle cx="5.6" cy="-4.1" r="2.6" fill="#eee632" opacity="0.58" filter="url(#b1)"/><circle cx="-1.2" cy="-7.2" r="2.0" fill="#eee632" opacity="0.40" filter="url(#b1)"/><circle cx="-0.8" cy="-2.4" r="3.2" fill="#eee632" opacity="0.38" filter="url(#b1)"/><circle cx="3.9" cy="-2.5" r="3.3" fill="#eee632" opacity="0.51" filter="url(#b1)"/><circle cx="-7.8" cy="-0.2" r="2.8" fill="#eee632" opacity="0.48" filter="url(#b1)"/><circle cx="-1.2" cy="2.9" r="2.5" fill="#eee632" opacity="0.58" filter="url(#b1)"/><circle cx="-0.8" cy="-0.7" r="2.5" fill="#6e6a04" opacity="0.48" filter="url(#b1)"/><circle cx="2.2" cy="-1.5" r="2.4" fill="#6e6a04" opacity="0.31" filter="url(#b1)"/><circle cx="-2.2" cy="-3.1" r="1.7" fill="#6e6a04" opacity="0.52" filter="url(#b1)"/><circle cx="5.7" cy="4.5" r="2.6" fill="#6e6a04" opacity="0.36" filter="url(#b1)"/><circle cx="3.0" cy="12.0" r="2.0" fill="#6e6a04" opacity="0.48" filter="url(#b1)"/><circle cx="5.0" cy="1.0" r="1.6" fill="#6e6a04" opacity="0.47" filter="url(#b1)"/><circle cx="11.6" cy="6.7" r="1.4" fill="#6e6a04" opacity="0.48" filter="url(#b1)"/><circle cx="3.5" cy="0.5" r="2.5" fill="#6e6a04" opacity="0.34" filter="url(#b1)"/><circle cx="3.9" cy="8.9" r="1.9" fill="#6e6a04" opacity="0.31" filter="url(#b1)"/><circle cx="2.1" cy="-0.1" r="1.5" fill="#6e6a04" opacity="0.39" filter="url(#b1)"/><circle cx="-7.8" cy="-6.9" r="1.6" fill="#6e6a04" opacity="0.38" filter="url(#b1)"/><circle cx="6.2" cy="1.2" r="2.5" fill="#6e6a04" opacity="0.48" filter="url(#b1)"/></g>
<g transform="translate(382.8,80.3) scale(1.0,1.1)"><path d="M19.47,0.00 L19.49,0.34 L19.49,0.68 L19.47,1.02 L19.44,1.36 L19.39,1.70 L19.33,2.03 L19.25,2.36 L19.15,2.69 L19.04,3.02 L18.91,3.33 L18.77,3.65 L18.61,3.96 L18.44,4.26 L18.25,4.55 L18.05,4.84 L17.84,5.11 L17.61,5.38 L17.36,5.64 L17.10,5.89 L16.83,6.13 L16.54,6.35 L16.24,6.56 L15.93,6.76 L15.60,6.94 L15.25,7.11 L14.90,7.27 L14.53,7.40 L14.15,7.52 L13.75,7.62 L13.33,7.70 L12.90,7.75 L12.46,7.78 L12.45,8.08 L12.60,8.50 L12.72,8.91 L12.82,9.31 L12.89,9.71 L12.94,10.11 L12.97,10.50 L12.97,10.88 L12.96,11.26 L12.92,11.64 L12.87,12.00 L12.80,12.36 L12.72,12.72 L12.61,13.06 L12.49,13.40 L12.36,13.73 L12.21,14.05 L12.05,14.36 L11.87,14.66 L11.68,14.95 L11.48,15.23 L11.26,15.50 L11.03,15.76 L10.79,16.00 L10.54,16.24 L10.28,16.46 L10.02,16.67 L9.74,16.86 L9.45,17.05 L9.15,17.22 L8.85,17.37 L8.54,17.51 L8.23,17.64 L7.90,17.75 L7.58,17.85 L7.24,17.93 L6.91,18.00 L6.57,18.05 L6.23,18.08 L5.88,18.10 L5.53,18.10 L5.19,18.08 L4.84,18.05 L4.49,18.00 L4.14,17.94 L3.80,17.86 L3.45,17.75 L3.11,17.64 L2.77,17.50 L2.44,17.35 L2.11,17.17 L1.78,16.98 L1.47,16.77 L1.16,16.54 L0.85,16.28 L0.56,16.01 L0.27,15.72 L0.00,15.40 L-0.26,15.05 L-0.51,14.68 L-0.78,14.82 L-1.06,15.16 L-1.35,15.47 L-1.66,15.76 L-1.97,16.02 L-2.29,16.26 L-2.61,16.48 L-2.94,16.68 L-3.28,16.85 L-3.62,17.01 L-3.96,17.15 L-4.31,17.27 L-4.65,17.37 L-5.01,17.45 L-5.36,17.52 L-5.71,17.57 L-6.06,17.60 L-6.41,17.61 L-6.76,17.61 L-7.11,17.59 L-7.45,17.55 L-7.79,17.50 L-8.13,17.43 L-8.46,17.35 L-8.79,17.25 L-9.11,17.14 L-9.43,17.01 L-9.74,16.86 L-10.04,16.71 L-10.33,16.54 L-10.62,16.35 L-10.90,16.15 L-11.16,15.94 L-11.42,15.72 L-11.67,15.49 L-11.91,15.24 L-12.13,14.98 L-12.34,14.71 L-12.55,14.43 L-12.73,14.14 L-12.91,13.84 L-13.07,13.53 L-13.22,13.22 L-13.35,12.89 L-13.46,12.56 L-13.57,12.21 L-13.65,11.87 L-13.72,11.51 L-13.77,11.15 L-13.80,10.78 L-13.82,10.41 L-13.81,10.04 L-13.79,9.65 L-13.74,9.27 L-13.68,8.88 L-13.59,8.49 L-13.47,8.10 L-13.33,7.70 L-13.17,7.30 L-12.97,6.90 L-13.22,6.74 L-13.66,6.66 L-14.08,6.56 L-14.48,6.45 L-14.86,6.31 L-15.23,6.15 L-15.58,5.98 L-15.91,5.79 L-16.23,5.59 L-16.54,5.37 L-16.83,5.15 L-17.11,4.91 L-17.37,4.65 L-17.62,4.39 L-17.85,4.12 L-18.07,3.84 L-18.27,3.55 L-18.46,3.25 L-18.63,2.95 L-18.79,2.64 L-18.93,2.32 L-19.05,2.00 L-19.16,1.68 L-19.26,1.35 L-19.33,1.01 L-19.40,0.68 L-19.44,0.34 L-19.47,0.00 L-19.49,-0.34 L-19.49,-0.68 L-19.47,-1.02 L-19.44,-1.36 L-19.39,-1.70 L-19.33,-2.03 L-19.25,-2.36 L-19.15,-2.69 L-19.04,-3.02 L-18.91,-3.33 L-18.77,-3.65 L-18.61,-3.96 L-18.44,-4.26 L-18.25,-4.55 L-18.05,-4.84 L-17.84,-5.11 L-17.61,-5.38 L-17.36,-5.64 L-17.10,-5.89 L-16.83,-6.13 L-16.54,-6.35 L-16.24,-6.56 L-15.93,-6.76 L-15.60,-6.94 L-15.25,-7.11 L-14.90,-7.27 L-14.53,-7.40 L-14.15,-7.52 L-13.75,-7.62 L-13.33,-7.70 L-12.90,-7.75 L-12.46,-7.78 L-12.45,-8.08 L-12.60,-8.50 L-12.72,-8.91 L-12.82,-9.31 L-12.89,-9.71 L-12.94,-10.11 L-12.97,-10.50 L-12.97,-10.88 L-12.96,-11.26 L-12.92,-11.64 L-12.87,-12.00 L-12.80,-12.36 L-12.72,-12.72 L-12.61,-13.06 L-12.49,-13.40 L-12.36,-13.73 L-12.21,-14.05 L-12.05,-14.36 L-11.87,-14.66 L-11.68,-14.95 L-11.48,-15.23 L-11.26,-15.50 L-11.03,-15.76 L-10.79,-16.00 L-10.54,-16.24 L-10.28,-16.46 L-10.02,-16.67 L-9.74,-16.86 L-9.45,-17.05 L-9.15,-17.22 L-8.85,-17.37 L-8.54,-17.51 L-8.23,-17.64 L-7.90,-17.75 L-7.58,-17.85 L-7.24,-17.93 L-6.91,-18.00 L-6.57,-18.05 L-6.23,-18.08 L-5.88,-18.10 L-5.53,-18.10 L-5.19,-18.08 L-4.84,-18.05 L-4.49,-18.00 L-4.14,-17.94 L-3.80,-17.86 L-3.45,-17.75 L-3.11,-17.64 L-2.77,-17.50 L-2.44,-17.35 L-2.11,-17.17 L-1.78,-16.98 L-1.47,-16.77 L-1.16,-16.54 L-0.85,-16.28 L-0.56,-16.01 L-0.27,-15.72 L-0.00,-15.40 L0.26,-15.05 L0.51,-14.68 L0.78,-14.82 L1.06,-15.16 L1.35,-15.47 L1.66,-15.76 L1.97,-16.02 L2.29,-16.26 L2.61,-16.48 L2.94,-16.68 L3.28,-16.85 L3.62,-17.01 L3.96,-17.15 L4.31,-17.27 L4.65,-17.37 L5.01,-17.45 L5.36,-17.52 L5.71,-17.57 L6.06,-17.60 L6.41,-17.61 L6.76,-17.61 L7.11,-17.59 L7.45,-17.55 L7.79,-17.50 L8.13,-17.43 L8.46,-17.35 L8.79,-17.25 L9.11,-17.14 L9.43,-17.01 L9.74,-16.86 L10.04,-16.71 L10.33,-16.54 L10.62,-16.35 L10.90,-16.15 L11.16,-15.94 L11.42,-15.72 L11.67,-15.49 L11.91,-15.24 L12.13,-14.98 L12.34,-14.71 L12.55,-14.43 L12.73,-14.14 L12.91,-13.84 L13.07,-13.53 L13.22,-13.22 L13.35,-12.89 L13.46,-12.56 L13.57,-12.21 L13.65,-11.87 L13.72,-11.51 L13.77,-11.15 L13.80,-10.78 L13.82,-10.41 L13.81,-10.04 L13.79,-9.65 L13.74,-9.27 L13.68,-8.88 L13.59,-8.49 L13.47,-8.10 L13.33,-7.70 L13.17,-7.30 L12.97,-6.90 L13.22,-6.74 L13.66,-6.66 L14.08,-6.56 L14.48,-6.45 L14.86,-6.31 L15.23,-6.15 L15.58,-5.98 L15.91,-5.79 L16.23,-5.59 L16.54,-5.37 L16.83,-5.15 L17.11,-4.91 L17.37,-4.65 L17.62,-4.39 L17.85,-4.12 L18.07,-3.84 L18.27,-3.55 L18.46,-3.25 L18.63,-2.95 L18.79,-2.64 L18.93,-2.32 L19.05,-2.00 L19.16,-1.68 L19.26,-1.35 L19.33,-1.01 L19.40,-0.68 L19.44,-0.34Z" fill="#98123a" filter="url(#b2)" opacity="0.85"/><g filter="url(#b1)"><circle cx="0" cy="0" r="13" fill="#e22a5a"/><circle cx="12.2" cy="0.5" r="6.8" fill="#e22a5a"/><circle cx="5.7" cy="10.8" r="6.8" fill="#e22a5a"/><circle cx="-6.5" cy="10.3" r="6.8" fill="#e22a5a"/><circle cx="-12.2" cy="-0.5" r="6.8" fill="#e22a5a"/><circle cx="-5.7" cy="-10.8" r="6.8" fill="#e22a5a"/><circle cx="6.5" cy="-10.3" r="6.8" fill="#e22a5a"/></g><line x1="11.8" y1="7.5" x2="16.1" y2="10.2" stroke="#000" stroke-width="1.3" opacity="0.3" filter="url(#b1)"/><line x1="-0.6" y1="14.0" x2="-0.8" y2="19.0" stroke="#000" stroke-width="1.3" opacity="0.3" filter="url(#b1)"/><line x1="-12.4" y1="6.5" x2="-16.8" y2="8.8" stroke="#000" stroke-width="1.3" opacity="0.3" filter="url(#b1)"/><line x1="-11.8" y1="-7.5" x2="-16.1" y2="-10.2" stroke="#000" stroke-width="1.3" opacity="0.3" filter="url(#b1)"/><line x1="0.6" y1="-14.0" x2="0.8" y2="-19.0" stroke="#000" stroke-width="1.3" opacity="0.3" filter="url(#b1)"/><line x1="12.4" y1="-6.5" x2="16.8" y2="-8.8" stroke="#000" stroke-width="1.3" opacity="0.3" filter="url(#b1)"/><circle cx="0.6" cy="8.1" r="2.3" fill="#ff6a92" opacity="0.48" filter="url(#b1)"/><circle cx="-0.7" cy="-0.7" r="1.6" fill="#ff6a92" opacity="0.55" filter="url(#b1)"/><circle cx="-0.2" cy="3.5" r="3.4" fill="#ff6a92" opacity="0.44" filter="url(#b1)"/><circle cx="3.7" cy="-6.1" r="2.8" fill="#ff6a92" opacity="0.35" filter="url(#b1)"/><circle cx="-8.6" cy="-9.8" r="2.5" fill="#ff6a92" opacity="0.52" filter="url(#b1)"/><circle cx="-0.5" cy="-0.8" r="3.0" fill="#ff6a92" opacity="0.48" filter="url(#b1)"/><circle cx="-0.1" cy="0.4" r="3.2" fill="#ff6a92" opacity="0.44" filter="url(#b1)"/><circle cx="-2.6" cy="-12.9" r="2.9" fill="#ff6a92" opacity="0.58" filter="url(#b1)"/><circle cx="-9.5" cy="7.4" r="2.4" fill="#ff6a92" opacity="0.58" filter="url(#b1)"/><circle cx="1.1" cy="-1.0" r="1.8" fill="#ff6a92" opacity="0.37" filter="url(#b1)"/><circle cx="6.4" cy="-1.4" r="2.7" fill="#ff6a92" opacity="0.39" filter="url(#b1)"/><circle cx="-5.8" cy="-0.3" r="2.2" fill="#ff6a92" opacity="0.48" filter="url(#b1)"/><circle cx="-11.7" cy="-6.8" r="2.8" fill="#ff6a92" opacity="0.58" filter="url(#b1)"/><circle cx="9.2" cy="-11.7" r="2.8" fill="#ff6a92" opacity="0.35" filter="url(#b1)"/><circle cx="9.3" cy="-11.1" r="3.2" fill="#ff6a92" opacity="0.47" filter="url(#b1)"/><circle cx="-0.7" cy="-3.1" r="3.1" fill="#ff6a92" opacity="0.47" filter="url(#b1)"/><circle cx="-0.2" cy="0.9" r="3.1" fill="#ff6a92" opacity="0.60" filter="url(#b1)"/><circle cx="10.2" cy="6.3" r="2.3" fill="#ff6a92" opacity="0.35" filter="url(#b1)"/><circle cx="-3.1" cy="11.1" r="3.2" fill="#ff6a92" opacity="0.31" filter="url(#b1)"/><circle cx="-0.5" cy="-0.4" r="2.9" fill="#ff6a92" opacity="0.40" filter="url(#b1)"/><circle cx="10.1" cy="-9.3" r="2.1" fill="#98123a" opacity="0.55" filter="url(#b1)"/><circle cx="-0.4" cy="1.0" r="2.2" fill="#98123a" opacity="0.31" filter="url(#b1)"/><circle cx="1.9" cy="5.4" r="2.3" fill="#98123a" opacity="0.34" filter="url(#b1)"/><circle cx="11.7" cy="3.2" r="1.8" fill="#98123a" opacity="0.54" filter="url(#b1)"/><circle cx="4.2" cy="-3.2" r="2.0" fill="#98123a" opacity="0.43" filter="url(#b1)"/><circle cx="-5.2" cy="-6.6" r="2.2" fill="#98123a" opacity="0.46" filter="url(#b1)"/><circle cx="6.6" cy="-2.6" r="2.0" fill="#98123a" opacity="0.48" filter="url(#b1)"/><circle cx="0.3" cy="4.2" r="2.8" fill="#98123a" opacity="0.43" filter="url(#b1)"/><circle cx="-0.2" cy="-0.0" r="2.0" fill="#98123a" opacity="0.44" filter="url(#b1)"/><circle cx="8.6" cy="1.1" r="2.3" fill="#98123a" opacity="0.32" filter="url(#b1)"/><circle cx="-4.5" cy="-4.7" r="2.4" fill="#98123a" opacity="0.39" filter="url(#b1)"/><circle cx="-2.8" cy="-10.0" r="1.4" fill="#98123a" opacity="0.32" filter="url(#b1)"/></g>
<circle cx="404.5" cy="79.8" r="0.9" fill="#c02050" filter="url(#b05)"/>
<text x="221" y="35.2" font-size="11" font-weight="700">off</text>
<text x="259.3" y="35.2" font-size="11" font-weight="700">0.5 ms</text>
<text x="310.8" y="35.2" font-size="11" font-weight="700">1.5 ms</text>
<text x="363.3" y="35.2" font-size="11" font-weight="700">9.9 ms</text>
<g clip-path="url(#tc)"><g filter="url(#b05)"><rect x="33" y="126.5" width="109" height="108.5" fill="#c6c6c6"/><polygon points="32.4,124.6 30.9,127.1 28.1,127.0 26.7,124.5 28.1,122.1 31.0,122.1" fill="#575757"/><polygon points="38.8,125.6 36.1,127.4 33.1,125.9 33.0,122.6 35.7,120.8 38.7,122.3" fill="#5d5d5d"/><polygon points="44.0,126.1 41.2,127.7 38.4,126.1 38.4,122.8 41.2,121.2 44.0,122.8" fill="#858585"/><polygon points="49.0,126.6 46.1,128.0 43.5,126.2 43.7,123.0 46.5,121.6 49.2,123.4" fill="#8d8d8d"/><polygon points="53.3,125.8 50.2,126.8 47.8,124.7 48.4,121.5 51.5,120.5 53.9,122.6" fill="#4c4c4c"/><polygon points="59.1,126.7 56.0,127.1 54.3,124.6 55.5,121.9 58.5,121.5 60.3,124.0" fill="#787878"/><polygon points="64.9,125.5 62.2,126.8 59.7,125.0 60.0,122.0 62.8,120.8 65.2,122.5" fill="#7e7e7e"/><polygon points="69.2,126.2 66.6,127.5 64.1,125.8 64.3,122.9 66.9,121.5 69.4,123.2" fill="#a0a0a0"/><polygon points="75.1,127.3 72.1,128.5 69.5,126.4 70.0,123.2 73.0,122.0 75.6,124.0" fill="#9c9c9c"/><polygon points="79.8,126.9 76.9,128.4 74.2,126.6 74.4,123.4 77.2,121.9 80.0,123.7" fill="#5d5d5d"/><polygon points="85.2,126.1 82.5,126.7 80.6,124.5 81.5,121.8 84.3,121.3 86.2,123.4" fill="#606060"/><polygon points="92.2,124.2 90.3,126.6 87.3,126.1 86.2,123.3 88.1,121.0 91.1,121.4" fill="#696969"/><polygon points="95.4,126.8 92.7,127.8 90.6,125.9 91.1,123.1 93.8,122.2 95.9,124.1" fill="#919191"/><polygon points="106.6,127.0 104.0,128.2 101.7,126.6 101.9,123.8 104.4,122.6 106.8,124.2" fill="#7b7b7b"/><polygon points="110.5,126.1 107.7,126.6 105.9,124.5 106.8,121.8 109.6,121.3 111.4,123.5" fill="#676767"/><polygon points="117.1,126.7 114.7,128.3 112.0,127.0 111.8,124.0 114.3,122.3 117.0,123.7" fill="#696969"/><polygon points="123.0,126.3 120.2,128.0 117.3,126.4 117.3,123.2 120.1,121.5 122.9,123.1" fill="#525252"/><polygon points="126.9,127.3 124.0,127.5 122.3,125.1 123.6,122.4 126.6,122.2 128.2,124.7" fill="#656565"/><polygon points="133.0,126.2 130.5,127.4 128.2,125.8 128.4,123.0 131.0,121.8 133.3,123.4" fill="#565656"/><polygon points="138.6,125.6 135.8,126.7 133.4,124.8 133.9,121.8 136.7,120.7 139.1,122.6" fill="#828282"/><polygon points="142.8,127.4 139.7,127.7 137.9,125.1 139.2,122.3 142.4,122.0 144.2,124.6" fill="#7a7a7a"/><polygon points="35.0,130.1 32.7,131.9 29.9,130.9 29.4,128.0 31.7,126.1 34.5,127.1" fill="#737373"/><polygon points="40.8,128.9 39.1,131.7 35.9,131.6 34.4,128.8 36.1,126.1 39.3,126.1" fill="#6a6a6a"/><polygon points="51.1,129.1 49.2,131.3 46.3,130.8 45.3,128.0 47.2,125.8 50.1,126.4" fill="#888888"/><polygon points="56.6,130.8 54.0,132.7 51.1,131.3 50.8,128.1 53.5,126.2 56.4,127.6" fill="#686868"/><polygon points="61.8,130.9 58.7,131.4 56.7,129.0 57.8,126.1 60.9,125.6 62.9,128.0" fill="#858585"/><polygon points="66.5,131.0 63.4,131.6 61.2,129.3 62.2,126.2 65.4,125.5 67.5,127.9" fill="#626262"/><polygon points="71.3,130.9 68.3,131.7 66.1,129.4 67.0,126.4 70.1,125.7 72.2,127.9" fill="#6f6f6f"/><polygon points="77.5,129.6 75.1,131.4 72.4,130.2 72.1,127.2 74.5,125.5 77.2,126.7" fill="#777777"/><polygon points="83.1,128.9 81.6,131.4 78.8,131.4 77.3,128.9 78.8,126.4 81.7,126.4" fill="#5f5f5f"/><polygon points="93.4,131.9 90.4,133.1 87.8,131.1 88.3,127.9 91.3,126.7 93.8,128.7" fill="#787878"/><polygon points="99.2,128.9 97.6,131.3 94.7,131.1 93.4,128.5 95.0,126.1 97.9,126.3" fill="#999999"/><polygon points="109.4,130.8 106.2,131.3 104.2,128.7 105.4,125.7 108.6,125.2 110.6,127.8" fill="#5f5f5f"/><polygon points="115.0,129.1 112.9,131.0 110.2,130.2 109.5,127.4 111.6,125.4 114.4,126.3" fill="#3e3e3e"/><polygon points="120.6,129.9 118.5,132.0 115.7,131.3 114.9,128.4 116.9,126.3 119.8,127.0" fill="#909090"/><polygon points="126.3,129.6 124.4,131.9 121.4,131.3 120.5,128.5 122.4,126.2 125.4,126.8" fill="#656565"/><polygon points="130.3,132.0 127.2,132.7 125.0,130.4 125.9,127.3 129.1,126.6 131.2,128.9" fill="#808080"/><polygon points="135.2,130.1 133.2,132.1 130.4,131.3 129.7,128.6 131.8,126.6 134.5,127.3" fill="#3d3d3d"/><polygon points="141.0,129.3 139.5,131.6 136.7,131.5 135.4,129.0 137.0,126.6 139.8,126.8" fill="#494949"/><polygon points="145.4,130.9 142.2,131.5 140.1,129.0 141.1,125.9 144.3,125.3 146.5,127.8" fill="#797979"/><polygon points="31.9,135.4 29.1,136.8 26.5,135.1 26.7,132.0 29.5,130.6 32.1,132.3" fill="#696969"/><polygon points="48.8,134.6 47.0,136.7 44.2,136.2 43.2,133.6 45.0,131.4 47.8,131.9" fill="#868686"/><polygon points="53.8,135.2 51.3,137.0 48.4,135.7 48.1,132.6 50.7,130.8 53.5,132.1" fill="#525252"/><polygon points="58.6,135.6 55.8,136.6 53.4,134.7 54.0,131.7 56.8,130.7 59.1,132.6" fill="#8f8f8f"/><polygon points="64.5,134.5 62.0,136.2 59.3,135.0 59.0,132.0 61.4,130.2 64.2,131.5" fill="#6e6e6e"/><polygon points="80.2,135.3 77.4,136.0 75.4,133.9 76.3,131.2 79.0,130.5 81.0,132.6" fill="#696969"/><polygon points="91.9,134.0 90.4,136.7 87.3,136.7 85.7,134.0 87.3,131.3 90.4,131.3" fill="#676767"/><polygon points="95.8,134.5 94.1,136.8 91.3,136.5 90.1,133.9 91.8,131.6 94.6,131.9" fill="#6d6d6d"/><polygon points="111.0,136.5 108.0,137.3 105.8,135.1 106.7,132.1 109.7,131.3 111.8,133.5" fill="#909090"/><polygon points="117.1,134.5 115.2,137.0 112.1,136.7 110.8,133.8 112.7,131.3 115.8,131.6" fill="#3f3f3f"/><polygon points="127.4,134.1 125.4,136.1 122.6,135.4 121.8,132.6 123.8,130.6 126.6,131.3" fill="#7a7a7a"/><polygon points="133.7,135.3 131.3,137.1 128.5,135.9 128.2,133.0 130.5,131.2 133.3,132.3" fill="#626262"/><polygon points="137.9,135.6 135.1,136.5 132.9,134.4 133.5,131.5 136.4,130.6 138.6,132.6" fill="#3a3a3a"/><polygon points="35.5,140.4 32.7,141.6 30.3,139.8 30.7,136.8 33.5,135.6 35.9,137.4" fill="#717171"/><polygon points="45.6,139.3 43.6,141.7 40.5,141.1 39.4,138.1 41.5,135.7 44.6,136.3" fill="#585858"/><polygon points="51.0,138.4 49.0,140.6 46.1,139.9 45.3,137.0 47.3,134.9 50.2,135.6" fill="#6f6f6f"/><polygon points="56.9,140.9 54.0,142.3 51.3,140.5 51.5,137.3 54.4,135.9 57.1,137.6" fill="#6b6b6b"/><polygon points="61.6,138.9 59.2,140.8 56.3,139.6 55.9,136.6 58.3,134.8 61.1,135.9" fill="#5a5a5a"/><polygon points="72.2,140.2 69.6,141.9 66.8,140.5 66.7,137.4 69.3,135.7 72.0,137.1" fill="#8d8d8d"/><polygon points="77.9,140.9 75.1,141.8 72.8,139.8 73.4,136.8 76.2,135.9 78.5,137.9" fill="#707070"/><polygon points="88.5,141.1 85.6,142.2 83.1,140.2 83.6,137.1 86.5,136.0 89.0,138.0" fill="#747474"/><polygon points="94.6,139.6 92.5,141.7 89.7,141.0 89.0,138.2 91.0,136.1 93.8,136.9" fill="#838383"/><polygon points="98.8,139.6 96.4,141.8 93.3,140.8 92.6,137.6 95.0,135.5 98.1,136.5" fill="#808080"/><polygon points="103.3,140.8 100.5,141.4 98.6,139.3 99.5,136.6 102.3,136.0 104.2,138.1" fill="#676767"/><polygon points="118.3,140.5 115.3,140.8 113.5,138.3 114.8,135.4 117.9,135.2 119.6,137.7" fill="#616161"/><polygon points="124.9,140.2 122.1,141.3 119.8,139.4 120.2,136.5 123.0,135.4 125.3,137.3" fill="#737373"/><polygon points="137.1,138.5 134.8,140.6 131.8,139.7 131.0,136.6 133.4,134.4 136.4,135.4" fill="#545454"/><polygon points="141.1,140.6 138.3,141.4 136.2,139.4 136.8,136.5 139.6,135.7 141.8,137.7" fill="#8f8f8f"/><polygon points="147.0,140.5 144.2,141.5 142.0,139.5 142.5,136.6 145.4,135.7 147.6,137.6" fill="#878787"/><polygon points="32.8,144.8 30.0,146.1 27.5,144.2 27.8,141.1 30.7,139.9 33.2,141.7" fill="#848484"/><polygon points="37.4,144.5 35.3,146.4 32.6,145.4 32.0,142.6 34.2,140.7 36.9,141.7" fill="#999999"/><polygon points="43.8,144.4 41.2,146.2 38.4,144.8 38.2,141.7 40.8,139.9 43.6,141.3" fill="#989898"/><polygon points="47.8,144.3 44.9,145.3 42.6,143.2 43.3,140.2 46.2,139.3 48.5,141.3" fill="#696969"/><polygon points="54.2,142.6 52.4,145.3 49.2,145.2 47.7,142.3 49.4,139.6 52.7,139.7" fill="#4a4a4a"/><polygon points="65.3,143.7 62.8,145.7 59.8,144.6 59.3,141.5 61.7,139.5 64.7,140.6" fill="#595959"/><polygon points="70.6,142.5 68.9,144.8 66.0,144.5 64.9,141.8 66.6,139.5 69.4,139.9" fill="#838383"/><polygon points="75.1,145.6 72.0,146.3 69.8,144.0 70.7,141.0 73.8,140.2 76.0,142.5" fill="#7b7b7b"/><polygon points="81.1,143.6 79.1,145.9 76.2,145.3 75.2,142.4 77.2,140.2 80.1,140.8" fill="#898989"/><polygon points="85.0,145.0 82.3,145.7 80.3,143.7 81.1,141.0 83.8,140.3 85.8,142.3" fill="#717171"/><polygon points="91.6,145.4 88.8,146.7 86.3,145.0 86.4,142.0 89.2,140.6 91.8,142.3" fill="#9b9b9b"/><polygon points="96.3,145.4 93.6,146.8 91.1,145.0 91.3,142.0 94.1,140.7 96.6,142.4" fill="#636363"/><polygon points="117.2,143.7 114.8,145.1 112.3,143.8 112.3,141.0 114.7,139.5 117.1,140.8" fill="#9f9f9f"/><polygon points="122.4,144.8 119.6,145.5 117.6,143.5 118.3,140.7 121.1,140.0 123.1,142.0" fill="#a0a0a0"/><polygon points="132.3,144.8 129.2,145.2 127.4,142.7 128.6,139.9 131.7,139.6 133.5,142.0" fill="#656565"/><polygon points="144.0,144.3 141.0,145.3 138.6,143.2 139.3,140.1 142.3,139.1 144.7,141.2" fill="#454545"/><polygon points="35.3,149.4 32.6,151.2 29.7,149.9 29.4,146.6 32.1,144.8 35.0,146.1" fill="#515151"/><polygon points="44.9,148.6 42.0,149.6 39.7,147.7 40.2,144.7 43.1,143.6 45.4,145.6" fill="#767676"/><polygon points="60.9,150.2 58.0,150.6 56.2,148.3 57.3,145.6 60.1,145.2 61.9,147.5" fill="#7f7f7f"/><polygon points="67.8,147.2 66.3,149.7 63.4,149.7 61.9,147.2 63.4,144.7 66.3,144.7" fill="#525252"/><polygon points="77.3,147.9 75.4,150.1 72.5,149.6 71.5,146.9 73.4,144.7 76.3,145.1" fill="#6c6c6c"/><polygon points="83.2,147.0 81.5,149.6 78.5,149.4 77.1,146.7 78.8,144.1 81.9,144.3" fill="#7d7d7d"/><polygon points="87.9,147.5 86.2,150.2 83.1,150.0 81.6,147.2 83.4,144.5 86.5,144.7" fill="#7b7b7b"/><polygon points="93.3,148.6 90.9,150.1 88.4,148.8 88.2,146.0 90.6,144.4 93.2,145.7" fill="#828282"/><polygon points="98.5,147.8 96.9,150.2 94.1,150.1 92.8,147.5 94.3,145.1 97.2,145.3" fill="#6e6e6e"/><polygon points="104.8,147.8 102.8,149.9 99.9,149.2 99.1,146.3 101.2,144.2 104.0,144.9" fill="#3b3b3b"/><polygon points="109.4,148.3 107.7,150.7 104.7,150.4 103.5,147.7 105.2,145.3 108.1,145.6" fill="#7e7e7e"/><polygon points="115.3,148.8 113.5,151.0 110.7,150.5 109.7,147.8 111.5,145.6 114.3,146.1" fill="#777777"/><polygon points="129.5,150.8 126.3,151.3 124.3,148.7 125.6,145.8 128.7,145.3 130.7,147.9" fill="#727272"/><polygon points="147.6,147.7 145.3,149.6 142.5,148.7 141.9,145.7 144.2,143.8 147.0,144.7" fill="#787878"/><polygon points="32.7,154.9 29.7,155.9 27.3,153.8 28.0,150.7 31.0,149.7 33.3,151.8" fill="#686868"/><polygon points="38.0,154.2 35.2,155.0 33.1,152.9 33.8,150.1 36.6,149.3 38.7,151.4" fill="#616161"/><polygon points="43.2,153.4 40.3,154.8 37.7,153.0 38.0,149.8 40.8,148.5 43.4,150.3" fill="#848484"/><polygon points="53.7,153.4 50.7,154.6 48.2,152.6 48.7,149.4 51.7,148.3 54.1,150.3" fill="#8c8c8c"/><polygon points="57.8,154.0 54.7,154.5 52.7,152.1 53.8,149.2 56.9,148.6 58.9,151.0" fill="#757575"/><polygon points="69.5,154.9 66.6,155.2 64.8,152.7 66.1,150.0 69.1,149.7 70.8,152.2" fill="#6b6b6b"/><polygon points="79.9,151.4 78.3,153.9 75.4,153.7 74.1,151.1 75.7,148.7 78.6,148.8" fill="#787878"/><polygon points="85.6,153.0 83.4,155.4 80.2,154.7 79.2,151.6 81.4,149.2 84.6,149.9" fill="#838383"/><polygon points="90.6,154.1 87.6,154.9 85.4,152.7 86.2,149.7 89.2,148.9 91.4,151.1" fill="#737373"/><polygon points="108.0,151.6 106.2,154.3 102.9,154.0 101.6,151.1 103.4,148.4 106.6,148.7" fill="#818181"/><polygon points="117.4,154.7 114.3,155.2 112.3,152.8 113.3,149.8 116.5,149.3 118.5,151.7" fill="#6e6e6e"/><polygon points="127.8,152.8 125.3,154.2 122.8,152.8 122.8,149.8 125.3,148.4 127.8,149.9" fill="#4d4d4d"/><polygon points="133.3,153.8 130.8,155.4 128.1,154.0 128.0,151.1 130.5,149.5 133.2,150.9" fill="#595959"/><polygon points="138.3,152.8 136.2,155.1 133.1,154.4 132.2,151.5 134.3,149.2 137.3,149.8" fill="#535353"/><polygon points="144.0,153.2 142.3,155.7 139.3,155.4 138.0,152.7 139.7,150.2 142.8,150.5" fill="#828282"/><polygon points="34.8,157.9 31.9,159.3 29.2,157.4 29.4,154.1 32.4,152.7 35.1,154.6" fill="#6a6a6a"/><polygon points="46.0,159.0 43.2,160.7 40.3,159.2 40.2,155.9 43.0,154.2 45.9,155.7" fill="#414141"/><polygon points="56.9,159.3 54.2,160.2 52.0,158.3 52.6,155.5 55.3,154.6 57.4,156.5" fill="#808080"/><polygon points="60.9,158.6 58.2,159.4 56.1,157.5 56.7,154.8 59.4,153.9 61.5,155.8" fill="#6b6b6b"/><polygon points="67.0,156.8 65.2,159.2 62.3,158.9 61.1,156.2 62.8,153.8 65.8,154.1" fill="#707070"/><polygon points="71.5,158.5 68.7,159.3 66.6,157.3 67.3,154.5 70.1,153.7 72.1,155.7" fill="#4a4a4a"/><polygon points="83.8,158.8 81.2,160.3 78.6,158.8 78.6,155.8 81.2,154.3 83.8,155.8" fill="#7c7c7c"/><polygon points="88.4,157.7 85.9,159.3 83.3,158.0 83.1,155.1 85.5,153.4 88.2,154.8" fill="#838383"/><polygon points="94.4,157.5 92.7,159.8 89.9,159.4 88.9,156.8 90.6,154.6 93.4,155.0" fill="#747474"/><polygon points="99.1,157.3 97.2,159.4 94.4,158.8 93.5,156.1 95.4,154.0 98.2,154.6" fill="#9d9d9d"/><polygon points="110.2,158.5 107.9,160.5 105.1,159.5 104.5,156.5 106.8,154.5 109.7,155.5" fill="#737373"/><polygon points="114.2,157.4 112.1,159.6 109.3,158.8 108.5,156.0 110.5,153.9 113.4,154.6" fill="#757575"/><polygon points="120.4,158.4 117.5,159.6 115.1,157.6 115.6,154.5 118.5,153.4 120.9,155.3" fill="#8a8a8a"/><polygon points="141.6,157.7 139.7,160.0 136.8,159.5 135.8,156.7 137.6,154.5 140.5,155.0" fill="#787878"/><polygon points="145.0,159.4 141.8,159.8 140.0,157.3 141.2,154.4 144.3,154.0 146.2,156.5" fill="#888888"/><polygon points="33.6,161.9 31.6,164.3 28.6,163.8 27.6,160.9 29.5,158.5 32.5,159.1" fill="#636363"/><polygon points="42.4,163.5 39.4,163.8 37.7,161.3 38.9,158.6 42.0,158.3 43.7,160.8" fill="#484848"/><polygon points="47.3,163.1 44.3,163.7 42.3,161.5 43.3,158.6 46.2,158.0 48.2,160.3" fill="#7e7e7e"/><polygon points="58.9,162.3 56.2,163.3 53.9,161.3 54.5,158.5 57.2,157.5 59.5,159.4" fill="#575757"/><polygon points="65.1,162.0 62.6,163.5 60.0,162.0 59.9,159.0 62.5,157.5 65.1,159.0" fill="#696969"/><polygon points="80.2,163.0 77.2,163.3 75.5,160.9 76.7,158.3 79.7,158.0 81.4,160.4" fill="#7b7b7b"/><polygon points="86.7,161.3 84.9,163.6 82.0,163.2 80.9,160.5 82.7,158.2 85.6,158.6" fill="#5f5f5f"/><polygon points="95.0,163.1 91.9,163.7 89.7,161.4 90.7,158.4 93.8,157.7 95.9,160.1" fill="#8b8b8b"/><polygon points="100.8,164.2 97.9,164.5 96.2,162.0 97.5,159.4 100.4,159.1 102.1,161.5" fill="#808080"/><polygon points="118.1,161.0 116.0,163.5 112.8,162.9 111.7,159.8 113.8,157.3 117.0,157.9" fill="#7e7e7e"/><polygon points="123.9,161.7 122.3,164.1 119.4,163.9 118.1,161.4 119.7,159.0 122.6,159.1" fill="#6e6e6e"/><polygon points="127.5,163.0 124.7,163.2 123.1,160.9 124.2,158.3 127.1,158.1 128.7,160.4" fill="#878787"/><polygon points="132.4,163.5 129.4,163.7 127.8,161.2 129.1,158.5 132.1,158.3 133.8,160.8" fill="#464646"/><polygon points="142.4,162.9 139.5,163.2 137.8,160.9 139.0,158.2 141.8,157.9 143.5,160.2" fill="#7a7a7a"/><polygon points="35.3,169.1 32.3,169.4 30.6,167.0 31.8,164.2 34.8,164.0 36.5,166.4" fill="#6d6d6d"/><polygon points="40.2,168.4 37.1,169.2 34.9,167.0 35.7,163.9 38.7,163.1 41.0,165.3" fill="#878787"/><polygon points="55.8,168.9 52.7,169.2 50.8,166.8 52.1,163.9 55.1,163.6 57.0,166.1" fill="#747474"/><polygon points="62.7,165.8 60.7,168.0 57.8,167.4 56.9,164.6 58.9,162.4 61.7,163.0" fill="#797979"/><polygon points="66.9,167.0 64.9,169.6 61.7,169.3 60.4,166.3 62.4,163.7 65.6,164.1" fill="#656565"/><polygon points="71.1,168.6 68.1,169.4 65.9,167.3 66.7,164.4 69.6,163.5 71.8,165.6" fill="#969696"/><polygon points="82.8,166.6 80.3,168.1 77.7,166.7 77.7,163.7 80.2,162.2 82.8,163.6" fill="#707070"/><polygon points="87.5,168.0 84.3,168.6 82.2,166.1 83.3,163.0 86.5,162.4 88.6,164.9" fill="#3b3b3b"/><polygon points="98.8,166.2 96.4,168.2 93.4,167.2 92.9,164.1 95.3,162.0 98.2,163.1" fill="#4a4a4a"/><polygon points="103.8,167.8 100.8,168.3 98.8,165.9 99.8,163.1 102.9,162.5 104.8,164.9" fill="#575757"/><polygon points="110.8,166.1 109.1,168.7 106.0,168.4 104.6,165.6 106.4,163.1 109.5,163.3" fill="#797979"/><polygon points="113.7,168.9 110.7,169.1 109.0,166.6 110.4,163.9 113.3,163.7 115.0,166.2" fill="#9d9d9d"/><polygon points="120.2,166.6 117.5,168.5 114.6,167.2 114.3,163.9 116.9,162.1 119.9,163.4" fill="#838383"/><polygon points="126.2,167.3 123.9,169.2 121.1,168.1 120.6,165.1 123.0,163.2 125.8,164.3" fill="#696969"/><polygon points="131.1,167.1 129.2,169.2 126.4,168.6 125.5,165.9 127.5,163.7 130.3,164.4" fill="#8d8d8d"/><polygon points="136.1,166.1 134.5,168.6 131.6,168.5 130.2,165.9 131.7,163.4 134.7,163.5" fill="#848484"/><polygon points="140.9,168.9 137.8,169.6 135.6,167.3 136.6,164.2 139.7,163.5 141.8,165.9" fill="#7c7c7c"/><polygon points="147.6,167.7 145.0,169.8 142.0,168.6 141.5,165.4 144.1,163.3 147.1,164.5" fill="#6c6c6c"/><polygon points="31.9,173.2 29.1,173.9 27.1,171.7 28.0,169.0 30.8,168.3 32.8,170.5" fill="#666666"/><polygon points="38.6,170.2 36.6,172.7 33.4,172.1 32.3,169.1 34.4,166.6 37.6,167.2" fill="#707070"/><polygon points="42.6,172.0 39.9,173.2 37.4,171.4 37.8,168.4 40.5,167.2 42.9,169.0" fill="#747474"/><polygon points="48.8,171.5 46.4,173.1 43.9,171.9 43.6,169.1 46.0,167.5 48.5,168.7" fill="#969696"/><polygon points="57.6,171.9 54.6,172.3 52.7,170.0 53.8,167.2 56.8,166.7 58.7,169.1" fill="#6d6d6d"/><polygon points="65.1,171.2 62.8,173.0 60.1,171.9 59.7,169.0 62.0,167.2 64.7,168.3" fill="#464646"/><polygon points="69.2,172.3 66.4,173.9 63.5,172.3 63.5,169.0 66.4,167.4 69.2,169.0" fill="#595959"/><polygon points="86.6,171.1 84.6,173.4 81.6,172.8 80.6,169.9 82.7,167.6 85.7,168.2" fill="#959595"/><polygon points="90.4,172.9 87.6,174.2 85.1,172.4 85.4,169.3 88.2,168.1 90.7,169.8" fill="#6e6e6e"/><polygon points="102.5,172.0 100.3,174.0 97.4,173.1 96.8,170.1 99.0,168.1 101.9,169.0" fill="#747474"/><polygon points="118.5,170.3 116.5,172.6 113.6,171.9 112.7,169.1 114.7,166.9 117.6,167.5" fill="#7a7a7a"/><polygon points="122.7,169.7 121.0,172.4 117.8,172.3 116.3,169.4 118.1,166.7 121.3,166.9" fill="#4e4e4e"/><polygon points="128.0,171.0 126.0,173.0 123.2,172.3 122.4,169.4 124.5,167.4 127.3,168.1" fill="#919191"/><polygon points="134.0,170.9 131.9,173.1 128.9,172.3 128.1,169.4 130.2,167.1 133.2,167.9" fill="#767676"/><polygon points="139.4,170.4 137.4,172.8 134.4,172.3 133.3,169.3 135.3,167.0 138.4,167.5" fill="#8b8b8b"/><polygon points="144.8,170.4 143.1,172.9 140.1,172.7 138.7,170.0 140.4,167.5 143.4,167.7" fill="#565656"/><polygon points="36.1,176.5 33.9,178.6 31.0,177.8 30.2,174.8 32.4,172.6 35.4,173.5" fill="#5e5e5e"/><polygon points="40.3,177.8 37.3,178.0 35.7,175.5 37.1,172.8 40.0,172.7 41.6,175.2" fill="#8e8e8e"/><polygon points="45.4,176.4 42.6,177.3 40.4,175.3 41.0,172.4 43.8,171.5 46.0,173.5" fill="#3a3a3a"/><polygon points="50.7,176.6 47.7,177.2 45.7,174.8 46.7,171.9 49.7,171.4 51.7,173.7" fill="#828282"/><polygon points="56.9,175.6 54.8,178.0 51.6,177.4 50.6,174.3 52.7,171.9 55.9,172.6" fill="#5b5b5b"/><polygon points="61.2,177.1 58.4,178.7 55.6,177.0 55.6,173.8 58.5,172.2 61.3,173.9" fill="#616161"/><polygon points="68.3,175.6 66.8,178.2 63.8,178.1 62.4,175.6 63.9,173.0 66.8,173.1" fill="#a0a0a0"/><polygon points="72.3,177.3 69.6,178.3 67.3,176.4 67.8,173.5 70.6,172.5 72.8,174.4" fill="#535353"/><polygon points="78.1,175.7 75.8,177.8 72.9,176.8 72.2,173.8 74.5,171.8 77.5,172.7" fill="#767676"/><polygon points="88.0,175.8 85.6,177.3 83.1,176.0 83.0,173.1 85.3,171.6 87.8,172.9" fill="#676767"/><polygon points="92.9,176.5 90.4,177.8 87.9,176.4 88.0,173.5 90.5,172.1 92.9,173.6" fill="#6c6c6c"/><polygon points="120.0,176.4 117.8,178.9 114.6,178.3 113.5,175.2 115.7,172.7 118.9,173.3" fill="#606060"/><polygon points="124.5,177.4 121.6,177.6 120.0,175.2 121.3,172.6 124.2,172.4 125.8,174.8" fill="#797979"/><polygon points="131.7,176.1 129.5,178.4 126.4,177.7 125.5,174.7 127.6,172.4 130.7,173.1" fill="#909090"/><polygon points="136.4,176.4 134.4,178.8 131.3,178.3 130.1,175.3 132.2,172.9 135.3,173.4" fill="#878787"/><polygon points="141.7,176.1 139.0,177.7 136.2,176.2 136.2,173.0 138.9,171.4 141.7,172.9" fill="#505050"/><polygon points="146.8,176.4 144.2,177.8 141.7,176.3 141.8,173.3 144.3,171.9 146.9,173.4" fill="#949494"/><polygon points="32.3,181.4 29.5,182.2 27.4,180.2 28.0,177.4 30.8,176.6 32.9,178.5" fill="#828282"/><polygon points="38.3,181.5 35.8,183.5 32.8,182.4 32.4,179.2 34.8,177.3 37.8,178.4" fill="#909090"/><polygon points="41.4,182.1 38.5,182.3 36.9,179.9 38.2,177.3 41.0,177.1 42.7,179.5" fill="#808080"/><polygon points="48.8,181.0 46.3,182.4 43.8,180.9 43.9,178.1 46.4,176.7 48.8,178.2" fill="#6a6a6a"/><polygon points="54.7,180.2 52.7,182.8 49.5,182.3 48.3,179.3 50.3,176.8 53.5,177.2" fill="#878787"/><polygon points="58.3,180.1 55.8,181.8 53.1,180.5 52.9,177.5 55.4,175.8 58.1,177.2" fill="#8b8b8b"/><polygon points="64.9,181.7 62.2,182.7 59.9,180.8 60.4,177.9 63.2,176.9 65.5,178.8" fill="#717171"/><polygon points="68.2,181.2 65.2,181.4 63.6,179.0 64.8,176.3 67.8,176.1 69.5,178.5" fill="#707070"/><polygon points="80.1,181.4 77.7,183.0 75.1,181.8 74.9,178.9 77.3,177.2 79.9,178.5" fill="#676767"/><polygon points="86.5,179.6 84.8,182.0 81.8,181.7 80.5,179.0 82.3,176.6 85.3,176.9" fill="#5f5f5f"/><polygon points="90.8,179.8 89.3,182.2 86.5,182.1 85.2,179.6 86.6,177.2 89.4,177.3" fill="#616161"/><polygon points="95.4,181.1 92.6,181.9 90.5,179.9 91.2,177.0 94.0,176.2 96.1,178.2" fill="#666666"/><polygon points="102.0,180.1 100.4,182.5 97.4,182.3 96.1,179.7 97.8,177.2 100.7,177.4" fill="#585858"/><polygon points="107.5,181.4 104.5,182.8 101.8,181.0 102.0,177.8 104.9,176.3 107.6,178.1" fill="#6e6e6e"/><polygon points="111.3,182.0 108.4,182.1 106.7,179.6 108.1,177.0 111.1,176.8 112.7,179.3" fill="#808080"/><polygon points="123.1,179.2 121.5,181.7 118.5,181.7 117.1,179.1 118.6,176.5 121.6,176.5" fill="#717171"/><polygon points="127.6,180.5 124.9,181.5 122.7,179.7 123.1,176.9 125.8,175.9 128.0,177.7" fill="#959595"/><polygon points="133.3,179.9 131.5,182.3 128.5,181.9 127.4,179.1 129.2,176.8 132.2,177.2" fill="#4b4b4b"/><polygon points="144.9,180.4 142.1,181.9 139.4,180.3 139.4,177.2 142.2,175.6 144.9,177.2" fill="#757575"/><polygon points="35.4,186.0 32.7,187.0 30.5,185.2 30.9,182.4 33.6,181.4 35.8,183.1" fill="#7b7b7b"/><polygon points="40.9,186.3 38.3,188.2 35.3,186.9 35.0,183.7 37.6,181.8 40.6,183.1" fill="#929292"/><polygon points="46.1,186.0 43.4,187.3 40.9,185.6 41.1,182.6 43.9,181.3 46.4,183.0" fill="#808080"/><polygon points="56.6,185.8 53.6,186.8 51.3,184.7 52.0,181.6 55.0,180.7 57.3,182.8" fill="#717171"/><polygon points="62.9,184.3 61.3,186.8 58.3,186.6 57.0,184.0 58.6,181.5 61.6,181.6" fill="#888888"/><polygon points="66.8,184.8 64.9,187.0 62.1,186.5 61.2,183.8 63.0,181.6 65.8,182.1" fill="#727272"/><polygon points="72.7,184.8 70.3,186.8 67.4,185.7 66.8,182.7 69.2,180.7 72.1,181.7" fill="#818181"/><polygon points="78.0,184.2 75.7,186.4 72.7,185.6 71.9,182.5 74.1,180.3 77.2,181.1" fill="#727272"/><polygon points="82.3,185.5 79.5,186.8 77.0,184.9 77.4,181.8 80.2,180.6 82.7,182.5" fill="#5b5b5b"/><polygon points="88.8,184.7 86.3,186.5 83.6,185.2 83.3,182.2 85.8,180.4 88.6,181.7" fill="#5a5a5a"/><polygon points="92.3,186.5 89.2,186.9 87.3,184.4 88.5,181.5 91.6,181.1 93.5,183.6" fill="#757575"/><polygon points="97.7,186.9 95.0,187.6 92.9,185.6 93.7,182.9 96.4,182.1 98.5,184.1" fill="#626262"/><polygon points="105.4,184.4 103.0,186.7 99.9,185.7 99.1,182.5 101.5,180.3 104.7,181.2" fill="#3a3a3a"/><polygon points="114.7,184.8 112.3,186.5 109.6,185.2 109.4,182.3 111.8,180.6 114.5,181.8" fill="#7e7e7e"/><polygon points="121.3,184.7 118.9,186.9 115.8,185.9 115.1,182.7 117.5,180.5 120.7,181.5" fill="#5b5b5b"/><polygon points="125.4,185.7 123.4,187.8 120.6,187.2 119.7,184.4 121.7,182.2 124.5,182.9" fill="#9d9d9d"/><polygon points="131.7,184.6 129.5,186.6 126.7,185.7 126.0,182.8 128.2,180.8 131.0,181.7" fill="#8b8b8b"/><polygon points="147.2,184.0 145.4,186.7 142.2,186.5 140.8,183.6 142.6,180.9 145.8,181.1" fill="#969696"/><polygon points="31.6,190.8 28.3,191.3 26.3,188.7 27.5,185.6 30.8,185.2 32.8,187.8" fill="#616161"/><polygon points="39.2,189.7 36.9,192.0 33.7,191.2 32.9,188.0 35.2,185.7 38.4,186.6" fill="#6a6a6a"/><polygon points="58.2,191.3 55.4,192.4 53.0,190.6 53.4,187.7 56.2,186.5 58.5,188.3" fill="#757575"/><polygon points="69.2,189.8 67.0,191.7 64.3,190.8 63.7,188.0 65.9,186.1 68.6,187.0" fill="#818181"/><polygon points="74.5,189.4 72.3,191.4 69.4,190.4 68.9,187.4 71.1,185.5 74.0,186.5" fill="#626262"/><polygon points="80.3,189.1 78.5,191.5 75.5,191.2 74.3,188.4 76.1,185.9 79.1,186.3" fill="#4c4c4c"/><polygon points="91.3,189.7 88.7,191.7 85.7,190.6 85.3,187.4 87.8,185.4 90.8,186.5" fill="#818181"/><polygon points="96.1,189.8 93.6,191.6 90.8,190.2 90.6,187.2 93.1,185.5 95.9,186.8" fill="#575757"/><polygon points="106.8,190.2 104.7,192.7 101.6,192.1 100.5,189.1 102.5,186.6 105.7,187.1" fill="#6a6a6a"/><polygon points="112.1,190.8 108.9,191.3 106.9,188.9 108.0,185.8 111.1,185.3 113.2,187.8" fill="#454545"/><polygon points="117.7,189.9 115.0,190.7 112.9,188.8 113.6,186.0 116.3,185.2 118.4,187.1" fill="#666666"/><polygon points="122.8,190.9 119.9,192.4 117.2,190.7 117.3,187.5 120.1,186.0 122.9,187.6" fill="#969696"/><polygon points="126.6,191.6 123.8,192.2 121.9,190.1 122.7,187.4 125.5,186.8 127.4,188.8" fill="#717171"/><polygon points="132.8,190.4 130.3,191.9 127.9,190.5 127.8,187.7 130.3,186.2 132.7,187.6" fill="#7b7b7b"/><polygon points="144.1,191.2 141.1,192.3 138.7,190.3 139.2,187.1 142.2,186.1 144.7,188.1" fill="#969696"/><polygon points="34.8,193.2 33.0,195.6 29.9,195.3 28.7,192.4 30.6,189.9 33.7,190.3" fill="#828282"/><polygon points="45.5,195.9 42.4,196.7 40.2,194.4 41.1,191.4 44.2,190.6 46.4,192.9" fill="#6e6e6e"/><polygon points="55.7,194.7 52.8,195.8 50.5,193.8 51.0,190.8 53.9,189.7 56.2,191.7" fill="#5b5b5b"/><polygon points="61.9,194.0 59.5,196.2 56.5,195.2 55.8,192.1 58.1,189.9 61.2,190.9" fill="#7b7b7b"/><polygon points="66.7,195.5 64.0,197.4 61.0,196.0 60.7,192.7 63.4,190.9 66.4,192.2" fill="#5d5d5d"/><polygon points="82.5,196.0 79.7,197.2 77.3,195.3 77.7,192.3 80.5,191.2 82.9,193.0" fill="#646464"/><polygon points="89.0,194.2 86.9,196.6 83.7,196.0 82.7,192.9 84.8,190.5 87.9,191.1" fill="#565656"/><polygon points="94.0,194.3 91.6,195.8 89.1,194.5 89.0,191.7 91.4,190.1 93.9,191.5" fill="#6d6d6d"/><polygon points="98.7,195.4 96.0,196.8 93.4,195.1 93.6,192.0 96.3,190.7 98.9,192.3" fill="#707070"/><polygon points="109.3,195.1 107.0,197.2 104.1,196.3 103.4,193.3 105.6,191.2 108.5,192.1" fill="#7e7e7e"/><polygon points="120.8,193.5 118.4,195.6 115.4,194.6 114.7,191.4 117.1,189.3 120.1,190.3" fill="#6a6a6a"/><polygon points="131.1,194.4 128.8,196.4 125.9,195.3 125.3,192.3 127.7,190.3 130.5,191.4" fill="#727272"/><polygon points="135.4,193.5 133.9,195.9 131.1,195.8 129.8,193.3 131.3,191.0 134.1,191.1" fill="#5c5c5c"/><polygon points="141.0,193.3 138.9,195.6 135.9,194.9 135.0,191.9 137.2,189.7 140.2,190.4" fill="#6c6c6c"/><polygon points="147.6,194.1 145.6,196.7 142.3,196.2 141.1,193.1 143.1,190.5 146.4,191.0" fill="#727272"/><polygon points="32.3,199.2 29.4,200.7 26.8,198.9 26.9,195.7 29.8,194.3 32.5,196.0" fill="#606060"/><polygon points="36.6,200.4 33.4,200.8 31.5,198.2 32.7,195.2 35.9,194.9 37.9,197.4" fill="#a0a0a0"/><polygon points="47.5,199.7 44.7,200.4 42.7,198.3 43.5,195.5 46.3,194.8 48.3,196.9" fill="#858585"/><polygon points="52.6,200.7 49.5,201.4 47.4,199.0 48.4,196.0 51.5,195.4 53.6,197.7" fill="#8f8f8f"/><polygon points="58.0,199.4 55.2,200.5 52.9,198.6 53.3,195.6 56.1,194.5 58.5,196.4" fill="#555555"/><polygon points="70.9,199.4 68.4,201.5 65.4,200.3 64.9,197.1 67.4,195.1 70.4,196.3" fill="#4a4a4a"/><polygon points="80.0,200.1 77.3,201.7 74.6,200.3 74.4,197.2 77.1,195.5 79.9,197.0" fill="#707070"/><polygon points="84.4,200.4 81.4,201.0 79.4,198.6 80.5,195.7 83.5,195.2 85.5,197.5" fill="#a0a0a0"/><polygon points="90.8,200.0 87.5,200.2 85.8,197.5 87.2,194.6 90.4,194.5 92.2,197.2" fill="#666666"/><polygon points="96.7,199.5 93.9,200.9 91.2,199.2 91.4,196.0 94.2,194.6 96.9,196.3" fill="#686868"/><polygon points="102.1,199.7 99.0,200.9 96.5,198.9 96.9,195.7 99.9,194.5 102.5,196.5" fill="#646464"/><polygon points="123.3,200.4 120.4,201.6 117.8,199.6 118.2,196.5 121.2,195.2 123.8,197.2" fill="#7f7f7f"/><polygon points="133.2,199.5 130.4,200.7 128.0,198.9 128.3,195.9 131.1,194.7 133.5,196.5" fill="#969696"/><polygon points="139.1,200.5 136.3,201.9 133.7,200.2 133.8,197.1 136.6,195.7 139.2,197.4" fill="#3d3d3d"/><polygon points="144.5,198.8 141.7,200.2 139.2,198.5 139.3,195.4 142.1,194.0 144.7,195.7" fill="#595959"/><polygon points="34.6,205.1 31.4,205.9 29.1,203.5 30.0,200.4 33.2,199.6 35.5,202.0" fill="#5f5f5f"/><polygon points="40.9,203.5 39.0,205.8 36.0,205.4 34.9,202.5 36.8,200.1 39.8,200.6" fill="#6f6f6f"/><polygon points="46.3,204.5 43.8,205.8 41.4,204.3 41.5,201.5 44.0,200.2 46.4,201.7" fill="#989898"/><polygon points="55.7,205.4 52.9,206.1 50.8,203.9 51.7,201.1 54.6,200.4 56.6,202.5" fill="#888888"/><polygon points="61.6,204.0 59.6,206.0 56.9,205.3 56.1,202.5 58.1,200.5 60.9,201.2" fill="#a0a0a0"/><polygon points="72.0,205.2 69.1,206.1 67.0,204.0 67.7,201.1 70.5,200.3 72.7,202.3" fill="#909090"/><polygon points="77.5,205.4 74.2,205.6 72.3,202.9 73.8,199.9 77.1,199.7 78.9,202.4" fill="#676767"/><polygon points="110.4,202.7 108.3,204.9 105.4,204.2 104.5,201.3 106.5,199.1 109.5,199.8" fill="#888888"/><polygon points="113.9,204.1 111.6,205.8 108.9,204.5 108.7,201.6 111.1,200.0 113.7,201.2" fill="#636363"/><polygon points="119.7,202.7 117.8,205.1 114.8,204.6 113.7,201.8 115.6,199.4 118.6,199.9" fill="#9c9c9c"/><polygon points="124.9,204.7 122.0,206.0 119.3,204.1 119.6,200.9 122.6,199.6 125.2,201.5" fill="#787878"/><polygon points="131.0,204.0 128.3,205.1 126.0,203.4 126.3,200.6 128.9,199.4 131.3,201.1" fill="#6c6c6c"/><polygon points="135.2,203.5 132.4,205.0 129.7,203.3 129.8,200.1 132.6,198.6 135.3,200.3" fill="#949494"/><polygon points="142.3,203.0 140.8,205.5 137.8,205.5 136.3,202.8 137.9,200.2 140.9,200.3" fill="#515151"/><polygon points="145.5,204.2 142.5,205.1 140.3,203.0 140.9,200.0 143.9,199.1 146.2,201.1" fill="#a0a0a0"/><polygon points="33.9,207.5 31.5,209.8 28.4,208.9 27.5,205.8 29.9,203.5 33.0,204.3" fill="#9d9d9d"/><polygon points="37.7,208.0 35.9,210.5 32.8,210.1 31.5,207.3 33.4,204.8 36.5,205.2" fill="#797979"/><polygon points="41.8,209.2 39.0,209.6 37.3,207.3 38.4,204.7 41.2,204.4 42.9,206.6" fill="#5a5a5a"/><polygon points="53.7,208.6 51.4,210.8 48.4,209.8 47.7,206.8 50.0,204.6 53.0,205.5" fill="#8b8b8b"/><polygon points="60.2,206.6 58.5,209.2 55.4,209.0 54.0,206.2 55.7,203.6 58.8,203.8" fill="#6a6a6a"/><polygon points="73.7,209.1 70.6,209.8 68.4,207.4 69.4,204.4 72.5,203.6 74.7,206.0" fill="#939393"/><polygon points="80.5,208.4 78.0,209.8 75.6,208.3 75.6,205.4 78.2,204.0 80.6,205.5" fill="#6f6f6f"/><polygon points="90.2,209.1 87.5,210.1 85.2,208.3 85.7,205.4 88.5,204.4 90.7,206.2" fill="#686868"/><polygon points="94.8,209.9 91.8,210.1 90.1,207.7 91.4,205.0 94.4,204.7 96.1,207.2" fill="#676767"/><polygon points="101.6,209.4 99.1,210.8 96.6,209.4 96.6,206.5 99.1,205.0 101.6,206.5" fill="#727272"/><polygon points="113.0,208.3 111.0,210.8 107.8,210.4 106.6,207.4 108.6,204.9 111.8,205.3" fill="#4d4d4d"/><polygon points="118.2,208.5 115.7,210.6 112.6,209.4 112.1,206.1 114.7,204.1 117.7,205.3" fill="#808080"/><polygon points="128.1,208.7 125.2,210.3 122.3,208.6 122.4,205.3 125.2,203.7 128.1,205.4" fill="#727272"/><polygon points="144.4,209.1 141.9,210.7 139.3,209.4 139.1,206.5 141.6,204.9 144.2,206.2" fill="#929292"/><polygon points="34.0,213.6 30.9,214.2 28.8,211.8 29.9,208.8 33.0,208.3 35.0,210.7" fill="#6b6b6b"/><polygon points="57.3,212.4 55.3,214.8 52.3,214.2 51.2,211.3 53.3,208.9 56.3,209.5" fill="#747474"/><polygon points="61.2,212.8 58.8,214.7 55.9,213.6 55.4,210.5 57.9,208.6 60.8,209.7" fill="#686868"/><polygon points="82.6,212.2 80.2,214.2 77.2,213.1 76.7,210.0 79.1,208.0 82.0,209.1" fill="#7c7c7c"/><polygon points="88.5,214.3 85.6,215.6 83.1,213.8 83.4,210.7 86.2,209.4 88.8,211.2" fill="#868686"/><polygon points="93.7,212.6 91.6,215.0 88.5,214.3 87.5,211.3 89.6,208.9 92.7,209.6" fill="#5a5a5a"/><polygon points="98.3,215.0 95.3,215.2 93.7,212.7 95.0,210.1 97.9,209.9 99.6,212.4" fill="#636363"/><polygon points="102.7,214.4 99.9,214.9 98.0,212.8 98.9,210.2 101.7,209.6 103.5,211.7" fill="#909090"/><polygon points="109.1,213.6 106.8,215.3 104.2,214.2 103.9,211.3 106.1,209.6 108.8,210.7" fill="#808080"/><polygon points="114.7,213.0 112.4,215.3 109.3,214.5 108.4,211.4 110.6,209.1 113.8,209.9" fill="#7c7c7c"/><polygon points="118.9,214.0 115.9,214.4 114.1,211.9 115.4,209.2 118.4,208.9 120.1,211.3" fill="#777777"/><polygon points="135.6,213.3 133.3,215.2 130.5,214.3 129.9,211.3 132.2,209.4 135.0,210.4" fill="#949494"/><polygon points="145.7,213.7 142.8,214.2 141.0,211.9 142.0,209.2 144.8,208.7 146.7,210.9" fill="#555555"/><polygon points="32.3,217.0 30.3,219.2 27.4,218.7 26.4,215.8 28.4,213.6 31.3,214.1" fill="#555555"/><polygon points="37.7,219.3 34.8,219.7 33.0,217.4 34.1,214.7 37.0,214.3 38.8,216.6" fill="#6e6e6e"/><polygon points="41.7,218.1 38.8,218.3 37.2,215.9 38.5,213.3 41.3,213.1 42.9,215.5" fill="#818181"/><polygon points="53.9,219.0 51.2,219.5 49.3,217.4 50.2,214.7 53.0,214.1 54.9,216.3" fill="#565656"/><polygon points="58.2,217.8 55.2,218.2 53.3,215.9 54.4,213.0 57.4,212.6 59.3,215.0" fill="#787878"/><polygon points="63.1,218.5 60.1,218.6 58.5,216.1 59.9,213.4 62.9,213.3 64.5,215.8" fill="#6e6e6e"/><polygon points="70.5,218.4 67.9,220.0 65.1,218.6 65.0,215.5 67.6,213.9 70.4,215.3" fill="#7e7e7e"/><polygon points="75.6,217.1 73.0,219.2 70.0,218.0 69.5,214.8 72.0,212.7 75.1,213.9" fill="#949494"/><polygon points="79.7,218.1 77.5,220.0 74.8,219.0 74.3,216.2 76.4,214.3 79.2,215.3" fill="#686868"/><polygon points="85.4,218.2 82.5,218.6 80.7,216.3 81.8,213.6 84.7,213.1 86.5,215.4" fill="#5e5e5e"/><polygon points="90.3,217.7 87.7,219.2 85.1,217.6 85.2,214.7 87.8,213.2 90.3,214.7" fill="#838383"/><polygon points="96.3,216.2 94.5,218.9 91.2,218.6 89.9,215.7 91.7,213.0 94.9,213.3" fill="#898989"/><polygon points="101.6,217.3 99.8,219.6 97.0,219.2 95.9,216.5 97.7,214.3 100.5,214.7" fill="#6f6f6f"/><polygon points="106.2,217.0 104.0,219.0 101.2,218.2 100.5,215.4 102.6,213.3 105.5,214.2" fill="#a0a0a0"/><polygon points="113.1,216.0 111.2,218.4 108.1,217.9 107.0,215.1 108.9,212.7 111.9,213.1" fill="#6c6c6c"/><polygon points="123.2,216.1 121.4,218.7 118.3,218.5 116.9,215.7 118.6,213.1 121.7,213.3" fill="#696969"/><polygon points="126.7,218.4 123.8,218.8 122.0,216.5 123.1,213.8 126.0,213.4 127.8,215.7" fill="#6c6c6c"/><polygon points="133.2,216.4 131.3,218.5 128.5,217.9 127.6,215.2 129.6,213.1 132.4,213.7" fill="#949494"/><polygon points="139.8,216.9 137.6,219.2 134.5,218.4 133.6,215.4 135.8,213.1 138.9,213.8" fill="#a0a0a0"/><polygon points="34.4,222.6 31.6,223.5 29.4,221.5 30.1,218.6 32.9,217.8 35.0,219.8" fill="#626262"/><polygon points="46.1,222.1 43.7,224.1 40.9,223.1 40.3,220.1 42.7,218.1 45.5,219.1" fill="#9f9f9f"/><polygon points="51.9,222.5 49.6,224.1 47.1,223.0 46.8,220.2 49.1,218.5 51.7,219.7" fill="#787878"/><polygon points="56.5,222.3 53.7,223.8 51.0,222.2 51.0,219.1 53.8,217.5 56.5,219.1" fill="#616161"/><polygon points="61.5,222.3 59.5,224.2 56.7,223.4 56.0,220.7 58.1,218.7 60.8,219.5" fill="#696969"/><polygon points="73.2,222.7 70.9,224.5 68.2,223.5 67.8,220.6 70.0,218.8 72.8,219.9" fill="#7c7c7c"/><polygon points="77.7,221.9 74.9,223.0 72.5,221.2 72.9,218.2 75.7,217.0 78.1,218.9" fill="#808080"/><polygon points="84.1,220.9 82.4,223.5 79.2,223.3 77.8,220.5 79.5,217.9 82.6,218.1" fill="#6e6e6e"/><polygon points="87.7,223.0 84.8,223.7 82.8,221.5 83.7,218.7 86.5,218.1 88.5,220.2" fill="#8c8c8c"/><polygon points="98.4,222.3 95.9,223.8 93.4,222.4 93.3,219.5 95.8,218.0 98.4,219.4" fill="#656565"/><polygon points="103.4,222.6 100.4,222.8 98.8,220.3 100.1,217.7 103.0,217.5 104.7,219.9" fill="#838383"/><polygon points="109.6,222.8 106.4,223.2 104.4,220.7 105.6,217.7 108.9,217.2 110.8,219.8" fill="#6b6b6b"/><polygon points="119.7,223.6 116.5,224.3 114.4,221.8 115.4,218.8 118.6,218.1 120.7,220.6" fill="#7b7b7b"/><polygon points="124.5,222.8 121.4,223.4 119.2,221.0 120.3,217.9 123.4,217.3 125.6,219.7" fill="#5f5f5f"/><polygon points="130.4,223.0 127.6,223.7 125.6,221.6 126.4,218.9 129.2,218.2 131.2,220.3" fill="#666666"/><polygon points="135.5,223.0 132.9,224.7 130.1,223.3 129.9,220.2 132.5,218.5 135.3,219.9" fill="#6f6f6f"/><polygon points="141.7,221.4 139.3,223.2 136.5,221.9 136.3,218.9 138.8,217.2 141.5,218.4" fill="#818181"/><polygon points="147.1,221.8 145.1,223.8 142.4,223.1 141.7,220.4 143.6,218.4 146.4,219.1" fill="#6a6a6a"/><polygon points="33.6,226.0 31.1,228.0 28.1,226.8 27.6,223.6 30.1,221.6 33.1,222.8" fill="#8b8b8b"/><polygon points="37.2,227.7 34.5,228.3 32.6,226.2 33.5,223.5 36.2,223.0 38.1,225.1" fill="#606060"/><polygon points="43.2,226.9 40.7,228.8 37.8,227.7 37.3,224.5 39.8,222.6 42.7,223.7" fill="#979797"/><polygon points="48.0,227.7 44.8,228.1 42.9,225.5 44.2,222.6 47.4,222.2 49.2,224.8" fill="#747474"/><polygon points="54.0,225.3 52.0,227.9 48.7,227.5 47.5,224.5 49.5,221.9 52.7,222.3" fill="#626262"/><polygon points="59.8,227.8 57.0,229.4 54.3,227.9 54.2,224.7 56.9,223.1 59.7,224.6" fill="#757575"/><polygon points="64.8,225.7 62.5,227.9 59.5,227.0 58.7,223.9 61.0,221.7 64.0,222.6" fill="#5e5e5e"/><polygon points="68.7,227.0 65.6,227.9 63.2,225.7 63.9,222.5 67.0,221.6 69.4,223.8" fill="#999999"/><polygon points="73.5,228.0 70.3,228.1 68.5,225.5 70.0,222.6 73.2,222.4 75.0,225.1" fill="#717171"/><polygon points="81.0,226.7 78.9,228.6 76.2,227.7 75.6,225.0 77.7,223.1 80.4,224.0" fill="#878787"/><polygon points="85.0,225.8 82.9,227.9 80.1,227.2 79.3,224.3 81.3,222.2 84.2,223.0" fill="#656565"/><polygon points="90.3,225.9 88.3,228.0 85.6,227.2 84.8,224.5 86.8,222.5 89.6,223.2" fill="#414141"/><polygon points="100.9,228.0 98.1,228.4 96.4,226.2 97.4,223.6 100.2,223.2 101.9,225.4" fill="#525252"/><polygon points="112.2,227.3 109.5,229.1 106.7,227.7 106.5,224.5 109.1,222.8 112.0,224.2" fill="#6e6e6e"/><polygon points="122.8,227.2 119.8,228.4 117.3,226.5 117.6,223.3 120.6,222.0 123.2,224.0" fill="#838383"/><polygon points="128.7,225.4 127.1,227.7 124.3,227.4 123.1,224.9 124.8,222.6 127.6,222.8" fill="#8d8d8d"/><polygon points="138.8,227.1 136.2,228.3 133.8,226.7 134.0,223.9 136.6,222.6 139.0,224.2" fill="#676767"/><polygon points="145.1,225.6 143.0,227.8 140.1,227.1 139.3,224.2 141.4,222.1 144.3,222.8" fill="#868686"/><polygon points="35.3,232.9 32.4,233.8 30.2,231.7 30.9,228.8 33.7,227.9 35.9,229.9" fill="#555555"/><polygon points="40.6,231.7 38.0,232.6 35.9,230.7 36.4,228.0 39.1,227.1 41.2,229.0" fill="#656565"/><polygon points="50.9,230.3 48.8,232.7 45.7,232.1 44.7,229.1 46.7,226.7 49.8,227.3" fill="#7c7c7c"/><polygon points="61.8,231.3 59.9,233.5 56.9,233.0 55.9,230.1 57.9,227.9 60.8,228.4" fill="#4e4e4e"/><polygon points="72.8,230.3 71.1,232.7 68.2,232.5 66.9,229.8 68.5,227.4 71.5,227.6" fill="#6f6f6f"/><polygon points="77.5,233.1 74.3,234.0 72.0,231.7 72.8,228.5 75.9,227.6 78.3,229.9" fill="#898989"/><polygon points="89.0,232.5 86.3,234.0 83.6,232.4 83.7,229.3 86.4,227.8 89.1,229.4" fill="#6f6f6f"/><polygon points="94.2,232.4 91.3,233.9 88.5,232.1 88.7,228.9 91.6,227.4 94.4,229.2" fill="#676767"/><polygon points="110.1,231.8 107.6,233.2 105.1,231.8 105.1,228.9 107.6,227.4 110.1,228.9" fill="#9d9d9d"/><polygon points="115.8,231.1 113.9,233.8 110.6,233.5 109.3,230.5 111.1,227.8 114.4,228.1" fill="#6f6f6f"/><polygon points="118.9,231.4 116.1,232.4 113.9,230.5 114.4,227.6 117.2,226.6 119.5,228.5" fill="#8e8e8e"/><polygon points="125.4,233.0 122.3,233.6 120.2,231.2 121.3,228.2 124.4,227.6 126.4,230.0" fill="#616161"/><polygon points="135.8,232.5 132.8,232.8 131.1,230.5 132.3,227.8 135.2,227.4 136.9,229.8" fill="#4a4a4a"/><polygon points="147.4,231.0 145.5,233.1 142.7,232.5 141.8,229.8 143.7,227.7 146.5,228.3" fill="#555555"/><polygon points="31.7,236.4 29.1,237.5 26.8,235.9 27.1,233.0 29.7,231.9 32.0,233.6" fill="#777777"/><polygon points="37.6,235.6 35.1,237.7 32.1,236.5 31.5,233.3 34.1,231.2 37.1,232.4" fill="#646464"/><polygon points="44.3,235.4 42.0,237.7 38.9,236.8 38.1,233.7 40.4,231.4 43.5,232.3" fill="#747474"/><polygon points="58.6,237.5 55.7,238.3 53.6,236.3 54.3,233.5 57.1,232.6 59.2,234.6" fill="#696969"/><polygon points="63.6,237.4 60.7,238.5 58.3,236.4 58.8,233.3 61.8,232.3 64.2,234.3" fill="#7b7b7b"/><polygon points="68.4,237.2 65.3,237.5 63.5,235.0 64.8,232.1 67.9,231.9 69.7,234.4" fill="#6e6e6e"/><polygon points="74.7,235.5 72.1,237.2 69.4,235.7 69.3,232.6 71.9,231.0 74.6,232.4" fill="#8f8f8f"/><polygon points="81.2,235.4 78.7,237.1 75.9,235.8 75.7,232.8 78.2,231.1 81.0,232.4" fill="#626262"/><polygon points="92.4,234.4 90.5,237.1 87.3,236.8 85.9,233.9 87.7,231.2 91.0,231.5" fill="#747474"/><polygon points="94.7,236.1 91.9,236.5 90.0,234.3 91.1,231.7 93.9,231.2 95.7,233.4" fill="#585858"/><polygon points="102.7,235.9 100.4,238.0 97.5,237.1 96.9,234.0 99.1,232.0 102.1,232.9" fill="#717171"/><polygon points="105.4,236.5 102.6,236.9 100.8,234.7 101.9,232.1 104.7,231.7 106.4,233.9" fill="#6c6c6c"/><polygon points="112.7,236.8 110.1,238.2 107.5,236.7 107.5,233.7 110.2,232.2 112.8,233.8" fill="#777777"/><polygon points="118.3,234.3 116.8,236.9 113.8,236.9 112.3,234.3 113.8,231.7 116.8,231.7" fill="#464646"/><polygon points="123.0,235.8 121.1,238.2 118.0,237.8 116.8,234.9 118.7,232.5 121.8,232.9" fill="#636363"/><polygon points="127.2,236.9 124.3,237.8 122.1,235.7 122.8,232.8 125.7,232.0 127.9,234.0" fill="#535353"/><polygon points="134.0,236.0 131.1,237.4 128.5,235.6 128.7,232.5 131.6,231.1 134.2,232.9" fill="#7b7b7b"/><polygon points="138.5,236.8 135.6,237.8 133.2,235.8 133.8,232.7 136.7,231.7 139.1,233.7" fill="#6b6b6b"/><polygon points="143.8,237.0 141.1,238.4 138.5,236.8 138.6,233.7 141.4,232.3 144.0,234.0" fill="#606060"/><polygon points="45.7,166.6 43.2,168.5 40.3,167.3 39.9,164.2 42.4,162.3 45.3,163.5" fill="#191919"/><polygon points="52.2,168.6 49.4,169.8 46.9,167.8 47.4,164.8 50.2,163.6 52.7,165.6" fill="#303030"/><polygon points="55.0,173.9 52.4,175.5 49.6,174.0 49.6,170.9 52.2,169.3 55.0,170.8" fill="#111111"/><polygon points="56.4,162.4 53.8,164.1 51.0,162.7 50.8,159.6 53.4,157.9 56.2,159.3" fill="#323232"/><polygon points="69.4,164.0 67.4,166.4 64.3,165.9 63.2,163.0 65.2,160.6 68.3,161.1" fill="#1b1b1b"/><polygon points="50.7,157.2 47.6,157.4 45.9,154.8 47.3,152.0 50.4,151.8 52.1,154.4" fill="#363636"/><polygon points="76.3,162.2 73.2,162.5 71.4,160.0 72.7,157.2 75.8,156.9 77.6,159.4" fill="#2d2d2d"/><polygon points="74.5,169.8 71.4,170.1 69.5,167.7 70.7,164.8 73.8,164.5 75.7,166.9" fill="#494949"/><polygon points="81.4,168.7 79.7,171.3 76.6,171.2 75.2,168.5 76.9,165.9 80.0,166.0" fill="#2d2d2d"/><polygon points="90.2,163.0 88.1,165.3 85.1,164.6 84.2,161.6 86.3,159.3 89.3,160.0" fill="#2c2c2c"/><polygon points="72.9,181.0 70.6,183.0 67.7,182.0 67.1,179.0 69.4,177.0 72.3,178.0" fill="#464646"/><polygon points="82.6,176.3 80.5,178.6 77.5,177.9 76.6,174.9 78.7,172.6 81.7,173.3" fill="#464646"/><polygon points="40.1,195.9 38.1,198.2 35.1,197.6 34.1,194.7 36.1,192.4 39.1,193.0" fill="#141414"/><polygon points="43.0,191.2 40.3,192.7 37.6,191.1 37.6,188.0 40.3,186.5 43.0,188.1" fill="#353535"/><polygon points="37.9,206.4 35.2,208.0 32.5,206.5 32.5,203.4 35.2,201.8 37.9,203.3" fill="#2f2f2f"/><polygon points="43.3,214.3 40.3,214.6 38.4,212.2 39.7,209.3 42.7,209.0 44.6,211.4" fill="#181818"/><polygon points="47.6,207.2 45.2,209.2 42.3,208.0 41.8,205.0 44.2,203.0 47.1,204.2" fill="#484848"/><polygon points="64.1,188.1 61.8,190.1 58.9,189.2 58.3,186.1 60.6,184.1 63.5,185.0" fill="#4c4c4c"/><polygon points="85.1,193.0 82.2,193.9 79.9,191.9 80.5,188.8 83.4,187.9 85.7,189.9" fill="#2d2d2d"/><polygon points="76.4,201.0 73.5,202.2 71.0,200.3 71.4,197.2 74.3,196.0 76.8,197.9" fill="#303030"/><polygon points="81.3,204.4 78.3,205.3 76.0,203.2 76.7,200.2 79.7,199.3 82.0,201.4" fill="#2f2f2f"/><polygon points="87.1,206.0 85.1,208.4 82.1,207.9 80.9,205.0 82.9,202.6 85.9,203.1" fill="#343434"/><polygon points="68.0,210.6 65.2,211.8 62.7,209.9 63.2,206.8 66.0,205.6 68.5,207.5" fill="#2a2a2a"/><polygon points="79.4,192.3 77.2,194.5 74.2,193.7 73.4,190.7 75.6,188.5 78.6,189.3" fill="#434343"/><polygon points="38.8,212.4 35.7,212.6 33.9,210.0 35.2,207.2 38.3,207.0 40.1,209.6" fill="#313131"/><polygon points="51.0,212.0 49.1,214.5 46.1,214.2 44.8,211.4 46.7,208.9 49.7,209.2" fill="#2b2b2b"/><polygon points="47.7,218.7 45.6,221.0 42.6,220.3 41.7,217.3 43.8,215.0 46.8,215.7" fill="#4e4e4e"/><polygon points="66.2,210.3 63.4,211.6 60.9,209.8 61.2,206.7 64.0,205.4 66.5,207.2" fill="#343434"/><polygon points="68.9,212.7 65.9,213.3 63.9,211.0 64.9,208.1 67.9,207.5 69.9,209.8" fill="#2d2d2d"/><polygon points="77.0,211.1 75.4,213.7 72.3,213.6 70.8,210.9 72.4,208.3 75.5,208.4" fill="#353535"/><polygon points="66.1,221.5 63.8,223.6 60.8,222.7 60.1,219.7 62.4,217.6 65.4,218.5" fill="#2e2e2e"/><polygon points="77.8,226.1 75.0,227.5 72.4,225.8 72.6,222.7 75.4,221.3 78.0,223.0" fill="#363636"/><polygon points="69.4,230.2 67.8,232.8 64.7,232.8 63.2,230.0 64.8,227.4 67.9,227.4" fill="#363636"/><polygon points="46.5,230.0 44.5,232.4 41.5,231.9 40.3,229.0 42.3,226.6 45.3,227.1" fill="#303030"/><polygon points="56.6,232.9 54.3,235.0 51.3,234.1 50.6,231.1 52.9,229.0 55.9,229.9" fill="#343434"/><polygon points="84.0,231.9 82.0,234.3 78.9,233.8 77.8,230.9 79.8,228.5 82.9,229.0" fill="#2f2f2f"/><polygon points="108.8,144.4 105.7,144.7 103.9,142.2 105.2,139.4 108.3,139.1 110.1,141.6" fill="#171717"/><polygon points="110.7,153.5 108.5,155.7 105.5,154.9 104.7,151.9 106.9,149.7 109.9,150.5" fill="#181818"/><polygon points="124.7,134.3 122.6,136.6 119.6,135.9 118.7,132.9 120.8,130.6 123.8,131.3" fill="#343434"/><polygon points="101.2,143.3 99.0,145.5 96.0,144.7 95.2,141.7 97.4,139.5 100.4,140.3" fill="#444444"/><polygon points="126.6,148.8 123.5,149.1 121.7,146.6 123.0,143.8 126.1,143.5 127.9,146.0" fill="#2c2c2c"/><polygon points="128.4,157.8 125.5,158.8 123.2,156.8 123.8,153.8 126.7,152.8 129.0,154.8" fill="#2f2f2f"/><polygon points="141.2,137.4 138.4,138.6 135.9,136.7 136.4,133.6 139.2,132.4 141.7,134.3" fill="#4c4c4c"/><polygon points="105.8,132.8 102.8,133.3 100.8,130.9 102.0,128.0 105.0,127.5 107.0,129.9" fill="#474747"/><polygon points="108.6,162.3 106.1,164.1 103.3,162.8 103.0,159.7 105.5,157.9 108.3,159.2" fill="#1c1c1c"/><polygon points="109.3,156.7 106.3,157.6 104.0,155.5 104.7,152.5 107.7,151.6 110.0,153.7" fill="#1a1a1a"/><polygon points="114.4,161.4 112.0,163.4 109.1,162.3 108.6,159.2 111.0,157.2 113.9,158.3" fill="#343434"/><polygon points="128.6,156.0 126.9,158.6 123.8,158.5 122.4,155.8 124.1,153.2 127.2,153.3" fill="#2c2c2c"/><polygon points="99.2,180.1 96.3,181.1 94.0,179.1 94.6,176.1 97.5,175.1 99.8,177.1" fill="#171717"/><polygon points="107.1,185.6 104.0,186.1 102.0,183.7 103.1,180.8 106.2,180.3 108.2,182.7" fill="#363636"/><polygon points="136.4,181.0 133.6,182.5 131.0,180.9 131.0,177.8 133.8,176.3 136.4,177.9" fill="#303030"/><polygon points="112.7,171.0 110.7,173.4 107.6,172.9 106.5,170.0 108.5,167.6 111.6,168.1" fill="#434343"/><polygon points="122.0,175.1 119.0,176.0 116.7,173.9 117.4,170.9 120.4,170.0 122.7,172.1" fill="#494949"/><polygon points="104.6,175.4 101.6,175.9 99.6,173.6 100.6,170.6 103.6,170.1 105.6,172.4" fill="#4d4d4d"/><polygon points="90.3,164.9 87.2,165.1 85.5,162.5 86.9,159.7 90.0,159.5 91.7,162.1" fill="#2a2a2a"/><polygon points="105.1,194.6 103.1,197.0 100.0,196.5 98.9,193.6 100.9,191.2 104.0,191.7" fill="#111111"/><polygon points="103.0,188.4 100.9,190.7 97.9,190.0 97.0,187.0 99.1,184.7 102.1,185.4" fill="#2e2e2e"/><polygon points="107.3,186.0 104.4,186.9 102.1,184.8 102.9,181.8 105.8,180.9 108.1,183.0" fill="#2e2e2e"/><polygon points="108.9,192.0 105.8,192.5 103.9,190.0 105.1,187.2 108.2,186.7 110.1,189.2" fill="#2e2e2e"/><polygon points="107.1,200.9 104.3,202.2 101.7,200.4 101.9,197.3 104.7,196.0 107.3,197.8" fill="#1c1c1c"/><polygon points="105.3,207.1 102.3,207.9 100.2,205.6 101.1,202.7 104.1,201.9 106.2,204.2" fill="#2e2e2e"/><polygon points="123.2,211.5 120.2,212.3 118.0,210.1 118.8,207.1 121.8,206.3 124.0,208.5" fill="#151515"/><polygon points="136.2,186.6 134.5,189.2 131.4,189.0 130.0,186.2 131.7,183.6 134.8,183.8" fill="#2f2f2f"/><polygon points="139.7,187.1 137.2,188.9 134.4,187.6 134.1,184.5 136.6,182.7 139.4,184.0" fill="#2c2c2c"/><polygon points="125.6,200.2 122.6,200.8 120.6,198.5 121.6,195.6 124.6,195.0 126.6,197.3" fill="#353535"/><polygon points="139.5,210.3 136.8,211.8 134.2,210.2 134.3,207.1 137.0,205.6 139.6,207.2" fill="#353535"/><polygon points="132.3,206.4 130.1,208.5 127.1,207.7 126.3,204.6 128.5,202.5 131.5,203.3" fill="#4b4b4b"/><polygon points="142.8,213.2 140.2,214.9 137.4,213.5 137.2,210.4 139.8,208.7 142.6,210.1" fill="#2a2a2a"/><polygon points="115.5,193.2 112.5,193.9 110.4,191.6 111.3,188.6 114.3,187.9 116.4,190.2" fill="#484848"/><polygon points="120.0,218.8 117.4,220.5 114.6,219.1 114.4,216.0 117.0,214.3 119.8,215.7" fill="#191919"/><polygon points="105.9,226.2 102.8,226.7 100.8,224.3 101.9,221.4 105.0,220.9 107.0,223.3" fill="#353535"/><polygon points="102.5,232.0 99.4,232.3 97.6,229.8 98.9,227.0 102.0,226.7 103.8,229.2" fill="#2c2c2c"/><polygon points="127.6,229.4 125.1,231.3 122.3,230.0 122.0,227.0 124.5,225.1 127.3,226.4" fill="#353535"/><polygon points="131.9,229.9 129.1,231.3 126.5,229.5 126.7,226.5 129.5,225.1 132.1,226.9" fill="#2c2c2c"/><polygon points="142.7,216.0 139.7,216.5 137.7,214.2 138.7,211.2 141.7,210.7 143.7,213.0" fill="#343434"/><polygon points="141.5,234.3 138.5,235.0 136.4,232.7 137.3,229.7 140.3,229.0 142.4,231.3" fill="#303030"/><polygon points="96.8,228.6 94.9,231.0 91.8,230.7 90.6,227.8 92.5,225.4 95.6,225.7" fill="#464646"/><polygon points="91.3,224.1 88.6,225.6 85.9,224.0 85.9,220.9 88.6,219.4 91.3,221.0" fill="#434343"/><polygon points="105.0,210.4 101.9,210.7 100.1,208.2 101.4,205.4 104.5,205.1 106.3,207.6" fill="#2d2d2d"/><polygon points="58.6,142.7 56.8,145.3 53.7,145.1 52.4,142.3 54.2,139.7 57.3,139.9" fill="#151515"/><polygon points="57.7,150.2 55.2,152.0 52.4,150.7 52.1,147.6 54.6,145.8 57.4,147.1" fill="#161616"/><polygon points="51.1,155.7 48.0,156.2 46.0,153.8 47.1,150.9 50.2,150.4 52.2,152.8" fill="#2e2e2e"/><polygon points="52.1,147.8 49.1,148.7 46.8,146.6 47.5,143.6 50.5,142.7 52.8,144.8" fill="#363636"/><polygon points="41.4,145.8 39.7,148.4 36.6,148.3 35.2,145.6 36.9,143.0 40.0,143.1" fill="#2d2d2d"/><polygon points="38.3,135.4 35.5,136.7 33.0,134.9 33.3,131.8 36.1,130.5 38.6,132.3" fill="#333333"/><polygon points="47.4,131.4 44.7,132.9 42.0,131.3 42.0,128.2 44.7,126.7 47.4,128.3" fill="#494949"/><polygon points="66.3,137.8 63.6,139.3 61.0,137.7 61.1,134.6 63.8,133.1 66.4,134.7" fill="#494949"/><polygon points="82.1,138.2 80.4,140.8 77.3,140.6 75.9,137.8 77.6,135.2 80.7,135.4" fill="#363636"/><polygon points="87.7,134.3 85.6,136.6 82.6,135.9 81.7,132.9 83.8,130.6 86.8,131.3" fill="#323232"/><polygon points="69.4,148.2 66.4,148.5 64.5,146.1 65.8,143.2 68.8,142.9 70.7,145.3" fill="#2b2b2b"/></g></g>
<rect x="119" y="230.9" width="16" height="1.1" fill="#fff"/>
<text x="117.6" y="227.2" font-size="6.4" font-weight="700" fill="#fff">200 nm</text>
<text x="36.6" y="247.9" font-size="7.9" font-weight="700">NaYF<tspan font-size="5.2" dy="1.3">4</tspan><tspan dy="-1.3">: 20%Yb,15%Er,1%Tm</tspan></text>
<rect x="153.5" y="127.5" width="115.80000000000001" height="99.80000000000001" fill="#fff" stroke="#555" stroke-width="1.1"/>
<path d="M153.5,146.10 L154.0,146.12 L154.6,146.22 L155.1,146.27 L155.7,146.20 L156.2,146.23 L156.7,146.11 L157.3,146.26 L157.8,146.21 L158.4,146.17 L158.9,146.08 L159.4,146.20 L160.0,146.27 L160.5,146.12 L161.1,146.16 L161.6,146.27 L162.1,146.08 L162.7,146.06 L163.2,146.11 L163.8,146.08 L164.3,146.26 L164.8,146.13 L165.4,146.08 L165.9,146.14 L166.5,146.21 L167.0,146.32 L167.5,146.21 L168.1,146.16 L168.6,146.06 L169.2,146.03 L169.7,146.16 L170.2,146.02 L170.8,146.18 L171.3,145.99 L171.9,146.04 L172.4,146.18 L172.9,145.95 L173.5,146.05 L174.0,145.93 L174.6,145.99 L175.1,146.22 L175.6,146.10 L176.2,146.01 L176.7,146.22 L177.3,146.21 L177.8,146.06 L178.3,146.26 L178.9,146.14 L179.4,146.22 L180.0,145.98 L180.5,146.01 L181.0,146.11 L181.6,146.21 L182.1,146.14 L182.7,146.10 L183.2,145.99 L183.7,146.26 L184.3,146.15 L184.8,146.12 L185.4,146.17 L185.9,146.10 L186.4,146.18 L187.0,146.06 L187.5,146.17 L188.1,146.17 L188.6,146.22 L189.1,146.17 L189.7,146.23 L190.2,146.18 L190.8,146.26 L191.3,146.29 L191.8,146.29 L192.4,146.17 L192.9,146.15 L193.5,146.21 L194.0,146.32 L194.5,146.10 L195.1,146.02 L195.6,145.93 L196.2,145.84 L196.7,145.72 L197.2,145.65 L197.8,145.75 L198.3,145.78 L198.9,145.66 L199.4,145.78 L199.9,145.66 L200.5,145.74 L201.0,145.84 L201.6,146.02 L202.1,145.90 L202.6,145.71 L203.2,144.99 L203.7,144.03 L204.3,143.68 L204.8,144.23 L205.3,144.81 L205.9,145.10 L206.4,144.77 L207.0,144.76 L207.5,144.89 L208.0,145.09 L208.6,145.44 L209.1,145.34 L209.7,145.56 L210.2,145.66 L210.7,145.69 L211.3,146.03 L211.8,146.01 L212.4,146.29 L212.9,146.30 L213.4,146.14 L214.0,146.34 L214.5,146.18 L215.1,146.08 L215.6,146.19 L216.1,146.15 L216.7,146.34 L217.2,146.16 L217.8,146.17 L218.3,146.18 L218.8,146.23 L219.4,146.24 L219.9,146.06 L220.5,146.34 L221.0,146.34 L221.5,146.06 L222.1,146.29 L222.6,146.31 L223.2,146.29 L223.7,146.11 L224.2,146.07 L224.8,146.34 L225.3,146.22 L225.9,146.32 L226.4,146.27 L226.9,146.28 L227.5,146.16 L228.0,146.24 L228.6,146.30 L229.1,146.20 L229.6,146.34 L230.2,146.32 L230.7,146.05 L231.3,146.29 L231.8,146.24 L232.3,146.13 L232.9,146.10 L233.4,146.07 L234.0,146.30 L234.5,146.15 L235.0,146.06 L235.6,146.33 L236.1,146.15 L236.7,146.10 L237.2,146.25 L237.7,146.27 L238.3,146.17 L238.8,146.22 L239.4,146.30 L239.9,146.20 L240.4,146.18 L241.0,145.97 L241.5,145.50 L242.1,144.36 L242.6,142.04 L243.1,138.48 L243.7,134.88 L244.2,131.96 L244.8,131.01 L245.3,130.98 L245.8,131.45 L246.4,131.45 L246.9,131.34 L247.5,132.18 L248.0,133.93 L248.5,136.62 L249.1,138.87 L249.6,140.35 L250.2,141.02 L250.7,141.65 L251.2,142.19 L251.8,142.82 L252.3,143.68 L252.9,144.40 L253.4,144.95 L253.9,145.60 L254.5,145.81 L255.0,145.89 L255.6,145.93 L256.1,145.73 L256.6,145.67 L257.2,145.34 L257.7,145.22 L258.3,145.05 L258.8,144.84 L259.3,144.59 L259.9,144.56 L260.4,144.45 L261.0,144.67 L261.5,144.66 L262.0,144.89 L262.6,145.12 L263.1,145.23 L263.7,145.46 L264.2,145.63 L264.7,145.73 L265.3,145.82 L265.8,146.03 L266.4,146.15 L266.9,146.15 L267.4,146.07 L268.0,146.07 L268.5,146.10 L269.1,146.29" fill="none" stroke="#3b3ba6" stroke-width="1.15" stroke-linejoin="round"/>
<text x="172.8" y="143.8" font-size="6.4" font-weight="700">10 ms</text>
<path d="M153.5,162.01 L154.0,161.80 L154.6,161.82 L155.1,161.97 L155.7,161.90 L156.2,161.92 L156.7,161.85 L157.3,161.81 L157.8,162.02 L158.4,162.04 L158.9,161.80 L159.4,161.92 L160.0,161.82 L160.5,162.05 L161.1,161.92 L161.6,161.83 L162.1,161.98 L162.7,161.77 L163.2,161.78 L163.8,162.04 L164.3,162.04 L164.8,161.89 L165.4,161.77 L165.9,161.93 L166.5,161.98 L167.0,161.92 L167.5,162.03 L168.1,161.97 L168.6,161.89 L169.2,161.86 L169.7,161.92 L170.2,161.89 L170.8,161.86 L171.3,161.75 L171.9,161.76 L172.4,161.82 L172.9,161.55 L173.5,161.64 L174.0,161.62 L174.6,161.78 L175.1,161.58 L175.6,161.65 L176.2,161.91 L176.7,161.88 L177.3,161.78 L177.8,161.79 L178.3,161.72 L178.9,161.86 L179.4,161.72 L180.0,161.74 L180.5,161.83 L181.0,161.73 L181.6,161.63 L182.1,161.65 L182.7,161.77 L183.2,161.77 L183.7,161.96 L184.3,161.93 L184.8,161.78 L185.4,161.91 L185.9,161.99 L186.4,161.88 L187.0,161.84 L187.5,161.85 L188.1,161.94 L188.6,161.92 L189.1,161.90 L189.7,161.82 L190.2,161.89 L190.8,161.93 L191.3,161.90 L191.8,162.04 L192.4,162.04 L192.9,161.84 L193.5,161.75 L194.0,161.86 L194.5,161.90 L195.1,161.91 L195.6,161.70 L196.2,161.41 L196.7,161.33 L197.2,161.32 L197.8,161.20 L198.3,161.37 L198.9,161.25 L199.4,161.11 L199.9,161.27 L200.5,161.43 L201.0,161.64 L201.6,161.69 L202.1,161.54 L202.6,161.42 L203.2,160.16 L203.7,158.95 L204.3,158.59 L204.8,159.34 L205.3,160.05 L205.9,160.24 L206.4,160.00 L207.0,159.98 L207.5,160.33 L208.0,160.43 L208.6,160.75 L209.1,160.93 L209.7,160.88 L210.2,161.06 L210.7,161.37 L211.3,161.64 L211.8,161.76 L212.4,161.82 L212.9,161.86 L213.4,161.91 L214.0,162.04 L214.5,161.98 L215.1,162.00 L215.6,161.87 L216.1,161.79 L216.7,161.81 L217.2,161.81 L217.8,161.81 L218.3,161.97 L218.8,161.80 L219.4,161.85 L219.9,162.03 L220.5,162.04 L221.0,162.05 L221.5,161.82 L222.1,161.98 L222.6,162.02 L223.2,161.86 L223.7,161.95 L224.2,162.03 L224.8,162.00 L225.3,161.89 L225.9,162.00 L226.4,161.97 L226.9,161.84 L227.5,161.91 L228.0,161.95 L228.6,161.91 L229.1,162.04 L229.6,161.93 L230.2,161.92 L230.7,161.99 L231.3,162.02 L231.8,161.78 L232.3,161.90 L232.9,161.99 L233.4,161.87 L234.0,161.80 L234.5,162.04 L235.0,162.04 L235.6,162.01 L236.1,161.83 L236.7,162.00 L237.2,161.84 L237.7,161.85 L238.3,161.89 L238.8,161.98 L239.4,161.76 L239.9,161.80 L240.4,161.85 L241.0,161.78 L241.5,161.17 L242.1,160.07 L242.6,157.74 L243.1,154.45 L243.7,150.64 L244.2,148.02 L244.8,146.86 L245.3,146.84 L245.8,147.21 L246.4,147.30 L246.9,147.09 L247.5,148.08 L248.0,149.82 L248.5,152.35 L249.1,154.65 L249.6,156.18 L250.2,157.08 L250.7,157.34 L251.2,158.12 L251.8,158.54 L252.3,159.24 L252.9,160.09 L253.4,160.82 L253.9,161.05 L254.5,161.29 L255.0,161.49 L255.6,161.55 L256.1,161.52 L256.6,161.39 L257.2,161.25 L257.7,160.90 L258.3,160.76 L258.8,160.63 L259.3,160.49 L259.9,160.21 L260.4,160.28 L261.0,160.26 L261.5,160.42 L262.0,160.42 L262.6,160.62 L263.1,161.10 L263.7,161.26 L264.2,161.41 L264.7,161.37 L265.3,161.55 L265.8,161.78 L266.4,161.88 L266.9,161.79 L267.4,161.76 L268.0,161.75 L268.5,161.94 L269.1,161.78" fill="none" stroke="#2e8b2e" stroke-width="1.15" stroke-linejoin="round"/>
<text x="172.8" y="158.3" font-size="6.4" font-weight="700">3 ms</text>
<path d="M153.5,178.12 L154.0,178.12 L154.6,178.48 L155.1,178.47 L155.7,178.17 L156.2,178.21 L156.7,178.23 L157.3,178.38 L157.8,178.26 L158.4,178.26 L158.9,178.27 L159.4,178.44 L160.0,178.33 L160.5,178.34 L161.1,178.21 L161.6,178.10 L162.1,178.12 L162.7,178.28 L163.2,178.32 L163.8,178.39 L164.3,178.49 L164.8,178.49 L165.4,178.31 L165.9,178.37 L166.5,178.35 L167.0,178.14 L167.5,178.28 L168.1,178.25 L168.6,178.36 L169.2,178.42 L169.7,178.26 L170.2,178.29 L170.8,178.08 L171.3,177.82 L171.9,177.88 L172.4,178.03 L172.9,177.72 L173.5,177.75 L174.0,177.80 L174.6,177.77 L175.1,177.89 L175.6,177.94 L176.2,178.18 L176.7,177.98 L177.3,178.02 L177.8,178.36 L178.3,178.12 L178.9,178.11 L179.4,178.18 L180.0,178.10 L180.5,178.08 L181.0,177.87 L181.6,178.03 L182.1,177.91 L182.7,178.13 L183.2,177.97 L183.7,178.01 L184.3,178.23 L184.8,178.22 L185.4,178.10 L185.9,178.20 L186.4,178.30 L187.0,178.41 L187.5,178.37 L188.1,178.22 L188.6,178.43 L189.1,178.14 L189.7,178.39 L190.2,178.14 L190.8,178.38 L191.3,178.12 L191.8,178.22 L192.4,178.30 L192.9,178.29 L193.5,178.24 L194.0,178.25 L194.5,178.32 L195.1,178.26 L195.6,177.95 L196.2,177.53 L196.7,177.41 L197.2,177.48 L197.8,177.13 L198.3,177.14 L198.9,177.02 L199.4,177.28 L199.9,177.14 L200.5,177.63 L201.0,177.67 L201.6,178.04 L202.1,178.03 L202.6,177.05 L203.2,175.58 L203.7,173.32 L204.3,172.59 L204.8,174.07 L205.3,175.36 L205.9,175.27 L206.4,175.06 L207.0,174.83 L207.5,175.51 L208.0,175.99 L208.6,176.46 L209.1,176.38 L209.7,176.70 L210.2,176.65 L210.7,177.50 L211.3,177.68 L211.8,178.27 L212.4,178.33 L212.9,178.16 L213.4,178.43 L214.0,178.43 L214.5,178.22 L215.1,178.35 L215.6,178.48 L216.1,178.10 L216.7,178.44 L217.2,178.49 L217.8,178.36 L218.3,178.25 L218.8,178.20 L219.4,178.45 L219.9,178.37 L220.5,178.49 L221.0,178.32 L221.5,178.19 L222.1,178.20 L222.6,178.14 L223.2,178.20 L223.7,178.16 L224.2,178.22 L224.8,178.31 L225.3,178.41 L225.9,178.24 L226.4,178.37 L226.9,178.46 L227.5,178.32 L228.0,178.15 L228.6,178.45 L229.1,178.27 L229.6,178.34 L230.2,178.29 L230.7,178.44 L231.3,178.12 L231.8,178.40 L232.3,178.26 L232.9,178.33 L233.4,178.49 L234.0,178.28 L234.5,178.44 L235.0,178.48 L235.6,178.49 L236.1,178.44 L236.7,178.46 L237.2,178.25 L237.7,178.30 L238.3,178.11 L238.8,178.13 L239.4,178.10 L239.9,178.40 L240.4,178.27 L241.0,178.20 L241.5,177.59 L242.1,176.43 L242.6,174.14 L243.1,170.88 L243.7,167.44 L244.2,164.65 L244.8,163.54 L245.3,163.92 L245.8,164.25 L246.4,164.02 L246.9,164.10 L247.5,164.66 L248.0,166.73 L248.5,169.21 L249.1,171.32 L249.6,172.74 L250.2,173.56 L250.7,173.95 L251.2,174.49 L251.8,175.19 L252.3,175.78 L252.9,176.66 L253.4,176.98 L253.9,177.39 L254.5,177.75 L255.0,177.98 L255.6,177.96 L256.1,177.86 L256.6,177.94 L257.2,177.61 L257.7,177.37 L258.3,177.29 L258.8,177.13 L259.3,176.68 L259.9,176.75 L260.4,176.65 L261.0,176.53 L261.5,176.76 L262.0,177.05 L262.6,176.97 L263.1,177.43 L263.7,177.78 L264.2,177.69 L264.7,178.08 L265.3,178.12 L265.8,178.00 L266.4,178.13 L266.9,178.43 L267.4,178.29 L268.0,178.32 L268.5,178.30 L269.1,178.41" fill="none" stroke="#ff22e6" stroke-width="1.15" stroke-linejoin="round"/>
<text x="172.8" y="174.6" font-size="6.4" font-weight="700">2 ms</text>
<path d="M153.5,194.10 L154.0,193.98 L154.6,194.05 L155.1,193.96 L155.7,193.95 L156.2,194.17 L156.7,194.19 L157.3,193.87 L157.8,194.10 L158.4,194.11 L158.9,193.80 L159.4,194.01 L160.0,193.87 L160.5,194.01 L161.1,193.94 L161.6,194.14 L162.1,193.95 L162.7,193.85 L163.2,193.99 L163.8,193.90 L164.3,193.93 L164.8,194.17 L165.4,193.90 L165.9,193.96 L166.5,194.08 L167.0,194.18 L167.5,193.84 L168.1,193.98 L168.6,193.86 L169.2,193.77 L169.7,193.79 L170.2,193.65 L170.8,193.79 L171.3,193.55 L171.9,193.62 L172.4,193.36 L172.9,193.35 L173.5,193.66 L174.0,193.67 L174.6,193.69 L175.1,193.46 L175.6,193.74 L176.2,193.74 L176.7,193.93 L177.3,193.89 L177.8,193.95 L178.3,193.96 L178.9,193.85 L179.4,193.80 L180.0,193.62 L180.5,193.66 L181.0,193.53 L181.6,193.54 L182.1,193.50 L182.7,193.67 L183.2,193.92 L183.7,193.70 L184.3,193.71 L184.8,193.78 L185.4,193.94 L185.9,193.90 L186.4,194.11 L187.0,193.86 L187.5,193.97 L188.1,194.09 L188.6,194.17 L189.1,193.86 L189.7,193.80 L190.2,194.16 L190.8,193.88 L191.3,194.04 L191.8,194.14 L192.4,194.08 L192.9,193.89 L193.5,193.85 L194.0,194.17 L194.5,193.89 L195.1,194.00 L195.6,193.52 L196.2,193.37 L196.7,192.86 L197.2,192.65 L197.8,192.79 L198.3,192.56 L198.9,192.77 L199.4,192.83 L199.9,192.72 L200.5,193.20 L201.0,193.46 L201.6,193.63 L202.1,193.51 L202.6,192.86 L203.2,190.83 L203.7,188.05 L204.3,187.58 L204.8,188.76 L205.3,190.28 L205.9,190.69 L206.4,190.19 L207.0,190.04 L207.5,190.47 L208.0,191.20 L208.6,191.68 L209.1,191.79 L209.7,191.76 L210.2,192.28 L210.7,192.87 L211.3,193.30 L211.8,193.85 L212.4,194.00 L212.9,193.79 L213.4,193.99 L214.0,193.98 L214.5,194.20 L215.1,194.03 L215.6,193.97 L216.1,194.19 L216.7,193.95 L217.2,193.95 L217.8,194.18 L218.3,193.95 L218.8,194.01 L219.4,193.93 L219.9,194.06 L220.5,193.92 L221.0,193.90 L221.5,194.19 L222.1,194.18 L222.6,193.93 L223.2,193.81 L223.7,194.10 L224.2,194.02 L224.8,193.96 L225.3,194.07 L225.9,194.05 L226.4,194.07 L226.9,194.05 L227.5,193.96 L228.0,194.08 L228.6,194.05 L229.1,193.89 L229.6,194.19 L230.2,193.97 L230.7,193.91 L231.3,194.08 L231.8,194.11 L232.3,193.88 L232.9,194.10 L233.4,194.13 L234.0,194.03 L234.5,193.92 L235.0,194.16 L235.6,194.07 L236.1,194.07 L236.7,193.87 L237.2,194.02 L237.7,193.86 L238.3,194.13 L238.8,194.07 L239.4,193.94 L239.9,193.84 L240.4,193.97 L241.0,193.91 L241.5,193.49 L242.1,192.18 L242.6,190.12 L243.1,186.60 L243.7,183.00 L244.2,180.55 L244.8,179.45 L245.3,179.42 L245.8,179.82 L246.4,179.68 L246.9,179.82 L247.5,180.70 L248.0,182.51 L248.5,184.70 L249.1,187.04 L249.6,188.44 L250.2,189.22 L250.7,189.73 L251.2,190.24 L251.8,190.67 L252.3,191.70 L252.9,192.46 L253.4,192.68 L253.9,193.13 L254.5,193.35 L255.0,193.69 L255.6,193.49 L256.1,193.42 L256.6,193.57 L257.2,193.19 L257.7,192.95 L258.3,192.81 L258.8,192.67 L259.3,192.60 L259.9,192.48 L260.4,192.48 L261.0,192.58 L261.5,192.48 L262.0,192.76 L262.6,192.75 L263.1,193.27 L263.7,193.13 L264.2,193.39 L264.7,193.46 L265.3,193.59 L265.8,193.68 L266.4,193.87 L266.9,194.14 L267.4,193.87 L268.0,194.11 L268.5,194.07 L269.1,193.93" fill="none" stroke="#2a2aff" stroke-width="1.15" stroke-linejoin="round"/>
<text x="172.8" y="190.6" font-size="6.4" font-weight="700">1 ms</text>
<path d="M153.5,209.93 L154.0,210.00 L154.6,209.85 L155.1,209.97 L155.7,210.02 L156.2,209.85 L156.7,209.59 L157.3,209.65 L157.8,209.67 L158.4,209.94 L158.9,209.78 L159.4,209.91 L160.0,209.96 L160.5,210.00 L161.1,209.94 L161.6,209.59 L162.1,209.64 L162.7,209.65 L163.2,209.65 L163.8,209.95 L164.3,209.89 L164.8,209.74 L165.4,209.68 L165.9,209.62 L166.5,209.61 L167.0,210.00 L167.5,209.73 L168.1,209.68 L168.6,209.74 L169.2,209.86 L169.7,209.65 L170.2,209.77 L170.8,209.25 L171.3,209.19 L171.9,209.26 L172.4,209.31 L172.9,208.96 L173.5,209.12 L174.0,209.00 L174.6,209.08 L175.1,209.34 L175.6,209.48 L176.2,209.48 L176.7,209.64 L177.3,209.83 L177.8,209.78 L178.3,209.52 L178.9,209.87 L179.4,209.82 L180.0,209.46 L180.5,209.57 L181.0,209.39 L181.6,209.41 L182.1,209.49 L182.7,209.21 L183.2,209.68 L183.7,209.65 L184.3,209.82 L184.8,209.65 L185.4,209.87 L185.9,209.85 L186.4,209.67 L187.0,209.89 L187.5,209.77 L188.1,209.60 L188.6,210.00 L189.1,210.02 L189.7,209.94 L190.2,209.67 L190.8,209.74 L191.3,209.93 L191.8,209.88 L192.4,209.96 L192.9,209.82 L193.5,210.02 L194.0,209.68 L194.5,209.52 L195.1,209.34 L195.6,209.17 L196.2,208.67 L196.7,208.77 L197.2,208.42 L197.8,208.01 L198.3,208.06 L198.9,208.17 L199.4,207.86 L199.9,208.15 L200.5,208.38 L201.0,209.05 L201.6,209.43 L202.1,209.25 L202.6,208.34 L203.2,205.55 L203.7,202.11 L204.3,201.53 L204.8,203.54 L205.3,205.44 L205.9,205.65 L206.4,204.75 L207.0,204.79 L207.5,205.44 L208.0,206.45 L208.6,206.60 L209.1,207.06 L209.7,207.30 L210.2,207.81 L210.7,208.53 L211.3,209.17 L211.8,209.38 L212.4,209.87 L212.9,210.00 L213.4,209.80 L214.0,209.92 L214.5,209.55 L215.1,209.99 L215.6,209.79 L216.1,209.66 L216.7,209.85 L217.2,209.56 L217.8,209.81 L218.3,209.93 L218.8,209.84 L219.4,210.03 L219.9,209.84 L220.5,209.93 L221.0,209.61 L221.5,209.63 L222.1,209.80 L222.6,210.03 L223.2,209.92 L223.7,209.93 L224.2,209.95 L224.8,209.93 L225.3,209.62 L225.9,209.98 L226.4,210.02 L226.9,209.59 L227.5,209.77 L228.0,209.55 L228.6,209.85 L229.1,209.60 L229.6,209.72 L230.2,209.65 L230.7,209.68 L231.3,209.80 L231.8,210.00 L232.3,209.94 L232.9,209.61 L233.4,209.60 L234.0,209.59 L234.5,209.88 L235.0,209.72 L235.6,209.65 L236.1,209.73 L236.7,209.64 L237.2,209.79 L237.7,209.72 L238.3,209.71 L238.8,209.92 L239.4,209.59 L239.9,209.56 L240.4,209.97 L241.0,209.37 L241.5,208.92 L242.1,207.95 L242.6,206.12 L243.1,202.50 L243.7,199.38 L244.2,196.32 L244.8,195.43 L245.3,195.91 L245.8,196.18 L246.4,195.87 L246.9,195.86 L247.5,196.55 L248.0,198.29 L248.5,200.98 L249.1,203.17 L249.6,204.10 L250.2,205.34 L250.7,205.41 L251.2,206.29 L251.8,206.56 L252.3,207.28 L252.9,207.92 L253.4,208.66 L253.9,208.91 L254.5,209.50 L255.0,209.38 L255.6,209.56 L256.1,209.21 L256.6,209.14 L257.2,209.12 L257.7,208.89 L258.3,208.94 L258.8,208.74 L259.3,208.31 L259.9,208.26 L260.4,208.03 L261.0,208.20 L261.5,208.53 L262.0,208.58 L262.6,208.57 L263.1,208.90 L263.7,209.35 L264.2,209.12 L264.7,209.27 L265.3,209.76 L265.8,209.62 L266.4,209.76 L266.9,209.60 L267.4,209.86 L268.0,209.92 L268.5,209.80 L269.1,209.56" fill="none" stroke="#ff2020" stroke-width="1.15" stroke-linejoin="round"/>
<text x="172.8" y="204.5" font-size="6.4" font-weight="700">0.5 ms</text>
<path d="M153.5,224.41 L154.0,224.33 L154.6,224.29 L155.1,224.19 L155.7,224.33 L156.2,224.20 L156.7,224.83 L157.3,224.52 L157.8,224.19 L158.4,224.40 L158.9,224.22 L159.4,224.77 L160.0,224.52 L160.5,224.68 L161.1,224.47 L161.6,224.45 L162.1,224.84 L162.7,224.70 L163.2,224.65 L163.8,224.21 L164.3,224.31 L164.8,224.74 L165.4,224.29 L165.9,224.75 L166.5,224.41 L167.0,224.75 L167.5,224.82 L168.1,224.19 L168.6,224.61 L169.2,224.55 L169.7,223.92 L170.2,223.89 L170.8,224.17 L171.3,223.55 L171.9,223.71 L172.4,223.50 L172.9,223.77 L173.5,223.24 L174.0,223.47 L174.6,223.37 L175.1,223.55 L175.6,224.11 L176.2,224.20 L176.7,224.45 L177.3,224.54 L177.8,224.63 L178.3,224.46 L178.9,224.20 L179.4,224.54 L180.0,223.97 L180.5,224.11 L181.0,224.06 L181.6,223.68 L182.1,223.94 L182.7,224.13 L183.2,224.12 L183.7,224.07 L184.3,224.62 L184.8,224.05 L185.4,224.77 L185.9,224.29 L186.4,224.24 L187.0,224.83 L187.5,224.30 L188.1,224.59 L188.6,224.44 L189.1,224.84 L189.7,224.82 L190.2,224.72 L190.8,224.18 L191.3,224.71 L191.8,224.32 L192.4,224.20 L192.9,224.19 L193.5,224.60 L194.0,224.57 L194.5,224.36 L195.1,223.97 L195.6,224.02 L196.2,223.00 L196.7,222.43 L197.2,222.06 L197.8,222.54 L198.3,221.84 L198.9,222.32 L199.4,222.08 L199.9,222.09 L200.5,222.35 L201.0,223.36 L201.6,223.43 L202.1,223.62 L202.6,222.22 L203.2,218.29 L203.7,213.77 L204.3,212.52 L204.8,215.19 L205.3,217.63 L205.9,217.81 L206.4,217.52 L207.0,217.35 L207.5,217.61 L208.0,219.26 L208.6,220.22 L209.1,220.60 L209.7,220.54 L210.2,221.03 L210.7,222.35 L211.3,223.39 L211.8,224.33 L212.4,224.05 L212.9,224.79 L213.4,224.50 L214.0,224.26 L214.5,224.76 L215.1,224.34 L215.6,224.19 L216.1,224.41 L216.7,224.30 L217.2,224.78 L217.8,224.55 L218.3,224.75 L218.8,224.26 L219.4,224.64 L219.9,224.53 L220.5,224.15 L221.0,224.25 L221.5,224.17 L222.1,224.53 L222.6,224.51 L223.2,224.34 L223.7,224.51 L224.2,224.65 L224.8,224.57 L225.3,224.75 L225.9,224.59 L226.4,224.16 L226.9,224.18 L227.5,224.41 L228.0,224.50 L228.6,224.61 L229.1,224.79 L229.6,224.66 L230.2,224.30 L230.7,224.24 L231.3,224.60 L231.8,224.30 L232.3,224.31 L232.9,224.36 L233.4,224.39 L234.0,224.32 L234.5,224.60 L235.0,224.36 L235.6,224.65 L236.1,224.51 L236.7,224.31 L237.2,224.37 L237.7,224.64 L238.3,224.19 L238.8,224.40 L239.4,224.44 L239.9,224.84 L240.4,224.43 L241.0,224.54 L241.5,223.94 L242.1,223.33 L242.6,221.62 L243.1,219.57 L243.7,217.07 L244.2,215.59 L244.8,214.68 L245.3,214.73 L245.8,214.89 L246.4,215.17 L246.9,214.80 L247.5,215.31 L248.0,216.68 L248.5,218.07 L249.1,219.50 L249.6,220.76 L250.2,221.28 L250.7,221.88 L251.2,221.74 L251.8,222.09 L252.3,222.89 L252.9,223.21 L253.4,223.59 L253.9,223.86 L254.5,224.43 L255.0,224.08 L255.6,224.22 L256.1,224.11 L256.6,224.20 L257.2,223.94 L257.7,223.70 L258.3,223.66 L258.8,223.47 L259.3,223.85 L259.9,223.68 L260.4,223.46 L261.0,223.34 L261.5,223.71 L262.0,223.49 L262.6,223.66 L263.1,224.21 L263.7,224.05 L264.2,224.34 L264.7,224.56 L265.3,224.59 L265.8,224.52 L266.4,224.66 L266.9,224.68 L267.4,224.80 L268.0,224.51 L268.5,224.58 L269.1,224.42" fill="none" stroke="#111" stroke-width="1.15" stroke-linejoin="round"/>
<text x="172.8" y="220" font-size="6.4" font-weight="700">0.1 ms</text>
<text x="153.5" y="235.8" font-size="5.6" font-weight="700" text-anchor="middle">400</text>
<rect x="153.2" y="225.3" width="0.6" height="2" fill="#333"/>
<text x="171.5" y="235.8" font-size="5.6" font-weight="700" text-anchor="middle">450</text>
<rect x="171.2" y="225.3" width="0.6" height="2" fill="#333"/>
<text x="189.5" y="235.8" font-size="5.6" font-weight="700" text-anchor="middle">500</text>
<rect x="189.2" y="225.3" width="0.6" height="2" fill="#333"/>
<text x="207.5" y="235.8" font-size="5.6" font-weight="700" text-anchor="middle">550</text>
<rect x="207.2" y="225.3" width="0.6" height="2" fill="#333"/>
<text x="225.5" y="235.8" font-size="5.6" font-weight="700" text-anchor="middle">600</text>
<rect x="225.2" y="225.3" width="0.6" height="2" fill="#333"/>
<text x="243.5" y="235.8" font-size="5.6" font-weight="700" text-anchor="middle">650</text>
<rect x="243.2" y="225.3" width="0.6" height="2" fill="#333"/>
<text x="261.5" y="235.8" font-size="5.6" font-weight="700" text-anchor="middle">700</text>
<rect x="261.2" y="225.3" width="0.6" height="2" fill="#333"/>
<rect x="156.8" y="226.1" width="0.5" height="1.2" fill="#555"/>
<rect x="160.4" y="226.1" width="0.5" height="1.2" fill="#555"/>
<rect x="164.1" y="226.1" width="0.5" height="1.2" fill="#555"/>
<rect x="167.7" y="226.1" width="0.5" height="1.2" fill="#555"/>
<rect x="171.2" y="226.1" width="0.5" height="1.2" fill="#555"/>
<rect x="174.8" y="226.1" width="0.5" height="1.2" fill="#555"/>
<rect x="178.4" y="226.1" width="0.5" height="1.2" fill="#555"/>
<rect x="182.1" y="226.1" width="0.5" height="1.2" fill="#555"/>
<rect x="185.7" y="226.1" width="0.5" height="1.2" fill="#555"/>
<rect x="189.2" y="226.1" width="0.5" height="1.2" fill="#555"/>
<rect x="192.8" y="226.1" width="0.5" height="1.2" fill="#555"/>
<rect x="196.4" y="226.1" width="0.5" height="1.2" fill="#555"/>
<rect x="200.1" y="226.1" width="0.5" height="1.2" fill="#555"/>
<rect x="203.7" y="226.1" width="0.5" height="1.2" fill="#555"/>
<rect x="207.2" y="226.1" width="0.5" height="1.2" fill="#555"/>
<rect x="210.8" y="226.1" width="0.5" height="1.2" fill="#555"/>
<rect x="214.4" y="226.1" width="0.5" height="1.2" fill="#555"/>
<rect x="218.1" y="226.1" width="0.5" height="1.2" fill="#555"/>
<rect x="221.6" y="226.1" width="0.5" height="1.2" fill="#555"/>
<rect x="225.2" y="226.1" width="0.5" height="1.2" fill="#555"/>
<rect x="228.8" y="226.1" width="0.5" height="1.2" fill="#555"/>
<rect x="232.4" y="226.1" width="0.5" height="1.2" fill="#555"/>
<rect x="236.1" y="226.1" width="0.5" height="1.2" fill="#555"/>
<rect x="239.6" y="226.1" width="0.5" height="1.2" fill="#555"/>
<rect x="243.2" y="226.1" width="0.5" height="1.2" fill="#555"/>
<rect x="246.8" y="226.1" width="0.5" height="1.2" fill="#555"/>
<rect x="250.4" y="226.1" width="0.5" height="1.2" fill="#555"/>
<rect x="254.1" y="226.1" width="0.5" height="1.2" fill="#555"/>
<rect x="257.6" y="226.1" width="0.5" height="1.2" fill="#555"/>
<rect x="261.2" y="226.1" width="0.5" height="1.2" fill="#555"/>
<rect x="264.9" y="226.1" width="0.5" height="1.2" fill="#555"/>
<rect x="268.4" y="226.1" width="0.5" height="1.2" fill="#555"/>
<text x="212.2" y="248.8" font-size="8" font-weight="700" text-anchor="middle">Wavelength (nm)</text>
<text transform="translate(150.2,177.4) rotate(-90) scale(0.875,1.12)" font-size="7" font-weight="700" text-anchor="middle">Intensity</text>
<g clip-path="url(#cc)"><rect x="296" y="134" width="8" height="1.4" fill="url(#g0)"/><rect x="296" y="135" width="16" height="1.4" fill="url(#g1)"/><rect x="292" y="136" width="24" height="1.4" fill="url(#g2)"/><rect x="292" y="137" width="24" height="1.4" fill="url(#g3)"/><rect x="292" y="138" width="28" height="1.4" fill="url(#g4)"/><rect x="292" y="139" width="28" height="1.4" fill="url(#g5)"/><rect x="292" y="140" width="32" height="1.4" fill="url(#g6)"/><rect x="292" y="141" width="32" height="1.4" fill="url(#g7)"/><rect x="288" y="142" width="40" height="1.4" fill="url(#g8)"/><rect x="288" y="143" width="40" height="1.4" fill="url(#g9)"/><rect x="288" y="144" width="44" height="1.4" fill="url(#g10)"/><rect x="288" y="145" width="44" height="1.4" fill="url(#g11)"/><rect x="288" y="146" width="44" height="1.4" fill="url(#g12)"/><rect x="288" y="147" width="48" height="1.4" fill="url(#g13)"/><rect x="288" y="148" width="48" height="1.4" fill="url(#g14)"/><rect x="288" y="149" width="48" height="1.4" fill="url(#g15)"/><rect x="288" y="150" width="52" height="1.4" fill="url(#g16)"/><rect x="288" y="151" width="52" height="1.4" fill="url(#g17)"/><rect x="288" y="152" width="56" height="1.4" fill="url(#g18)"/><rect x="288" y="153" width="56" height="1.4" fill="url(#g19)"/><rect x="288" y="154" width="56" height="1.4" fill="url(#g20)"/><rect x="288" y="155" width="60" height="1.4" fill="url(#g21)"/><rect x="288" y="156" width="60" height="1.4" fill="url(#g22)"/><rect x="288" y="157" width="60" height="1.4" fill="url(#g23)"/><rect x="288" y="158" width="64" height="1.4" fill="url(#g24)"/><rect x="288" y="159" width="64" height="1.4" fill="url(#g25)"/><rect x="288" y="160" width="64" height="1.4" fill="url(#g26)"/><rect x="288" y="161" width="68" height="1.4" fill="url(#g27)"/><rect x="288" y="162" width="68" height="1.4" fill="url(#g28)"/><rect x="288" y="163" width="68" height="1.4" fill="url(#g29)"/><rect x="288" y="164" width="72" height="1.4" fill="url(#g30)"/><rect x="288" y="165" width="72" height="1.4" fill="url(#g31)"/><rect x="288" y="166" width="76" height="1.4" fill="url(#g32)"/><rect x="288" y="167" width="76" height="1.4" fill="url(#g33)"/><rect x="288" y="168" width="76" height="1.4" fill="url(#g34)"/><rect x="288" y="169" width="80" height="1.4" fill="url(#g35)"/><rect x="288" y="170" width="80" height="1.4" fill="url(#g36)"/><rect x="288" y="171" width="80" height="1.4" fill="url(#g37)"/><rect x="288" y="172" width="84" height="1.4" fill="url(#g38)"/><rect x="288" y="173" width="84" height="1.4" fill="url(#g39)"/><rect x="288" y="174" width="84" height="1.4" fill="url(#g40)"/><rect x="288" y="175" width="88" height="1.4" fill="url(#g41)"/><rect x="288" y="176" width="88" height="1.4" fill="url(#g42)"/><rect x="288" y="177" width="88" height="1.4" fill="url(#g43)"/><rect x="292" y="178" width="88" height="1.4" fill="url(#g44)"/><rect x="292" y="179" width="88" height="1.4" fill="url(#g45)"/><rect x="292" y="180" width="88" height="1.4" fill="url(#g46)"/><rect x="292" y="181" width="92" height="1.4" fill="url(#g47)"/><rect x="292" y="182" width="92" height="1.4" fill="url(#g48)"/><rect x="292" y="183" width="92" height="1.4" fill="url(#g49)"/><rect x="292" y="184" width="96" height="1.4" fill="url(#g50)"/><rect x="292" y="185" width="96" height="1.4" fill="url(#g51)"/><rect x="292" y="186" width="96" height="1.4" fill="url(#g52)"/><rect x="292" y="187" width="100" height="1.4" fill="url(#g53)"/><rect x="292" y="188" width="100" height="1.4" fill="url(#g54)"/><rect x="292" y="189" width="100" height="1.4" fill="url(#g55)"/><rect x="292" y="190" width="104" height="1.4" fill="url(#g56)"/><rect x="292" y="191" width="104" height="1.4" fill="url(#g57)"/><rect x="292" y="192" width="104" height="1.4" fill="url(#g58)"/><rect x="292" y="193" width="108" height="1.4" fill="url(#g59)"/><rect x="292" y="194" width="108" height="1.4" fill="url(#g60)"/><rect x="296" y="195" width="108" height="1.4" fill="url(#g61)"/><rect x="296" y="196" width="108" height="1.4" fill="url(#g62)"/><rect x="296" y="197" width="108" height="1.4" fill="url(#g63)"/><rect x="296" y="198" width="104" height="1.4" fill="url(#g64)"/><rect x="296" y="199" width="104" height="1.4" fill="url(#g65)"/><rect x="296" y="200" width="100" height="1.4" fill="url(#g66)"/><rect x="296" y="201" width="96" height="1.4" fill="url(#g67)"/><rect x="296" y="202" width="96" height="1.4" fill="url(#g68)"/><rect x="296" y="203" width="92" height="1.4" fill="url(#g69)"/><rect x="296" y="204" width="88" height="1.4" fill="url(#g70)"/><rect x="296" y="205" width="84" height="1.4" fill="url(#g71)"/><rect x="300" y="206" width="80" height="1.4" fill="url(#g72)"/><rect x="300" y="207" width="76" height="1.4" fill="url(#g73)"/><rect x="300" y="208" width="72" height="1.4" fill="url(#g74)"/><rect x="300" y="209" width="68" height="1.4" fill="url(#g75)"/><rect x="300" y="210" width="68" height="1.4" fill="url(#g76)"/><rect x="300" y="211" width="64" height="1.4" fill="url(#g77)"/><rect x="300" y="212" width="60" height="1.4" fill="url(#g78)"/><rect x="300" y="213" width="56" height="1.4" fill="url(#g79)"/><rect x="300" y="214" width="56" height="1.4" fill="url(#g80)"/><rect x="304" y="215" width="48" height="1.4" fill="url(#g81)"/><rect x="304" y="216" width="44" height="1.4" fill="url(#g82)"/><rect x="304" y="217" width="40" height="1.4" fill="url(#g83)"/><rect x="304" y="218" width="40" height="1.4" fill="url(#g84)"/><rect x="304" y="219" width="36" height="1.4" fill="url(#g85)"/><rect x="304" y="220" width="32" height="1.4" fill="url(#g86)"/><rect x="308" y="221" width="24" height="1.4" fill="url(#g87)"/><rect x="308" y="222" width="24" height="1.4" fill="url(#g88)"/><rect x="308" y="223" width="20" height="1.4" fill="url(#g89)"/><rect x="308" y="224" width="16" height="1.4" fill="url(#g90)"/><rect x="312" y="225" width="12" height="1.4" fill="url(#g91)"/></g>
<path d="M316.29,225.95 L316.24,225.96 L316.17,225.97 L316.06,225.97 L315.88,225.94 L315.50,225.74 L314.82,225.30 L313.65,224.55 L312.80,224.00 L311.74,223.23 L310.46,222.11 L308.74,220.14 L306.55,216.95 L303.79,211.90 L300.37,204.42 L296.86,194.05 L293.55,181.10 L291.24,167.28 L290.59,154.47 L292.10,143.98 L295.87,137.18 L301.22,134.78 L307.24,135.62 L313.36,137.85 L319.13,140.52 L324.67,143.53 L330.14,146.83 L335.54,150.35 L340.93,154.02 L346.34,157.81 L351.71,161.64 L357.06,165.48 L362.30,169.28 L367.39,172.97 L372.26,176.52 L376.86,179.84 L381.04,182.88 L384.68,185.53 L387.88,187.85 L390.54,189.76 L392.70,191.33 L394.42,192.59 L395.79,193.58 L396.89,194.38 L397.81,195.05 L398.57,195.60 L399.63,196.36 L400.23,196.80 L400.74,197.17 L400.94,197.32Z" fill="none" stroke="#4a5ad8" stroke-width="0.6" opacity="0.8"/>
<rect x="289.6" y="128" width="0.8" height="98.8" fill="#808080"/>
<rect x="289.6" y="226.1" width="121" height="0.8" fill="#808080"/>
<text x="290.0" y="233.8" font-size="5.6" font-weight="700" text-anchor="middle">0.0</text>
<rect x="289.7" y="226.5" width="0.6" height="1.6" fill="#666"/>
<text x="305.1" y="233.8" font-size="5.6" font-weight="700" text-anchor="middle">0.1</text>
<rect x="304.8" y="226.5" width="0.6" height="1.6" fill="#666"/>
<text x="320.2" y="233.8" font-size="5.6" font-weight="700" text-anchor="middle">0.2</text>
<rect x="319.9" y="226.5" width="0.6" height="1.6" fill="#666"/>
<text x="335.3" y="233.8" font-size="5.6" font-weight="700" text-anchor="middle">0.3</text>
<rect x="335.0" y="226.5" width="0.6" height="1.6" fill="#666"/>
<text x="350.4" y="233.8" font-size="5.6" font-weight="700" text-anchor="middle">0.4</text>
<rect x="350.1" y="226.5" width="0.6" height="1.6" fill="#666"/>
<text x="365.5" y="233.8" font-size="5.6" font-weight="700" text-anchor="middle">0.5</text>
<rect x="365.2" y="226.5" width="0.6" height="1.6" fill="#666"/>
<text x="380.6" y="233.8" font-size="5.6" font-weight="700" text-anchor="middle">0.6</text>
<rect x="380.3" y="226.5" width="0.6" height="1.6" fill="#666"/>
<text x="395.7" y="233.8" font-size="5.6" font-weight="700" text-anchor="middle">0.7</text>
<rect x="395.4" y="226.5" width="0.6" height="1.6" fill="#666"/>
<text x="410.8" y="233.8" font-size="5.6" font-weight="700" text-anchor="middle">0.8</text>
<rect x="410.5" y="226.5" width="0.6" height="1.6" fill="#666"/>
<text x="287.2" y="228.5" font-size="5.6" font-weight="700" text-anchor="end">0.0</text>
<rect x="288.2" y="226.2" width="1.6" height="0.6" fill="#666"/>
<text x="287.2" y="206.5" font-size="5.6" font-weight="700" text-anchor="end">0.2</text>
<rect x="288.2" y="204.2" width="1.6" height="0.6" fill="#666"/>
<text x="287.2" y="184.5" font-size="5.6" font-weight="700" text-anchor="end">0.4</text>
<rect x="288.2" y="182.2" width="1.6" height="0.6" fill="#666"/>
<text x="287.2" y="162.5" font-size="5.6" font-weight="700" text-anchor="end">0.6</text>
<rect x="288.2" y="160.2" width="1.6" height="0.6" fill="#666"/>
<text x="287.2" y="140.5" font-size="5.6" font-weight="700" text-anchor="end">0.8</text>
<rect x="288.2" y="138.2" width="1.6" height="0.6" fill="#666"/>
<text x="344" y="250.2" font-size="8" font-weight="700" text-anchor="middle">X</text>
<text transform="translate(277,174.5) rotate(-90)" font-size="8" font-weight="700" text-anchor="middle">Y</text>
<text x="300" y="131.8" font-size="3.9" fill="#2828e8" text-anchor="middle">520</text>
<text x="329" y="141.4" font-size="3.9" fill="#2828e8" text-anchor="middle">540</text>
<text x="351" y="155.9" font-size="3.9" fill="#2828e8" text-anchor="middle">560</text>
<text x="372.5" y="171.1" font-size="3.9" fill="#2828e8" text-anchor="middle">580</text>
<text x="389.6" y="183.8" font-size="3.9" fill="#2828e8" text-anchor="middle">600</text>
<text x="399.5" y="190.4" font-size="3.9" fill="#2828e8" text-anchor="middle">620</text>
<text x="284.2" y="169.3" font-size="3.9" fill="#2828e8" text-anchor="middle">500</text>
<text x="296.8" y="215" font-size="3.9" fill="#2828e8" text-anchor="middle">480</text>
<text x="306.6" y="225.1" font-size="3.9" fill="#2828e8" text-anchor="middle">460</text>
<line x1="328.5" y1="165.7" x2="368.5" y2="191" stroke="#000" stroke-width="2.1"/>
<polygon points="373,193.9 363.8,192.6 367.4,186.9" fill="#000"/>
<circle cx="338.5" cy="157.9" r="2.3" fill="#fff" stroke="#000" stroke-width="1.2"/>
<circle cx="353" cy="168.3" r="2.3" fill="#fff" stroke="#000" stroke-width="1.2"/>
<circle cx="357.9" cy="172.4" r="2.3" fill="#fff" stroke="#000" stroke-width="1.2"/>
<circle cx="364.2" cy="175.7" r="2.3" fill="#fff" stroke="#000" stroke-width="1.2"/>
<circle cx="369.6" cy="179.3" r="2.3" fill="#fff" stroke="#000" stroke-width="1.2"/>
<circle cx="375.1" cy="184" r="2.3" fill="#fff" stroke="#000" stroke-width="1.2"/>
</svg>
</body></html>
